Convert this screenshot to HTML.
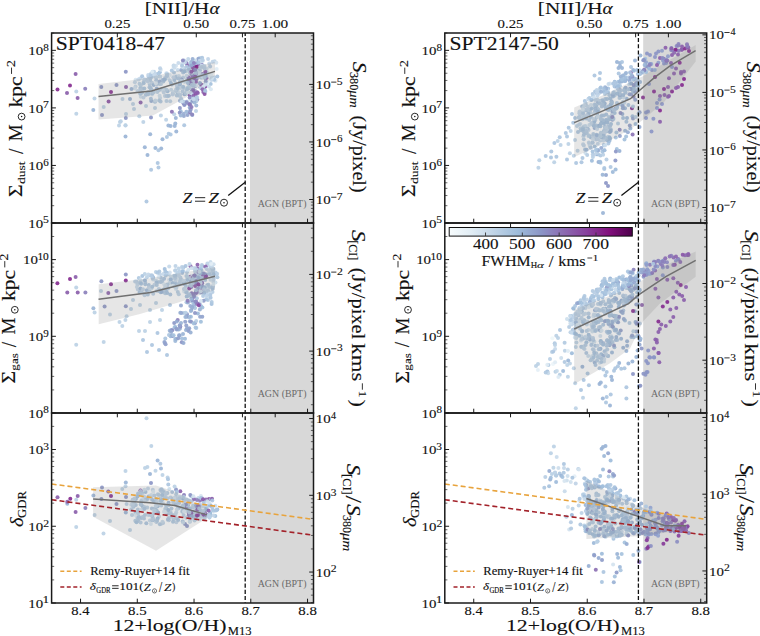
<!DOCTYPE html>
<html><head><meta charset="utf-8"><style>
html,body{margin:0;padding:0;background:#fff;}
svg{display:block;font-family:"Liberation Serif", serif;font-kerning:none;}
</style></head><body>
<svg width="760" height="636" viewBox="0 0 760 636">
<rect width="760" height="636" fill="#fff"/>
<rect x="250.0" y="33.0" width="63.5" height="190.0" fill="#d8d8d8"/>
<rect x="250.0" y="223.0" width="63.5" height="190.0" fill="#d8d8d8"/>
<rect x="250.0" y="413.0" width="63.5" height="190.0" fill="#d8d8d8"/>
<rect x="643.2" y="33.0" width="63.5" height="190.0" fill="#d8d8d8"/>
<rect x="643.2" y="223.0" width="63.5" height="190.0" fill="#d8d8d8"/>
<rect x="643.2" y="413.0" width="63.5" height="190.0" fill="#d8d8d8"/>
<g fill-opacity="0.92"><circle cx="166.9" cy="137.0" r="2.0" fill="#adc6df"/><circle cx="209.3" cy="63.6" r="2.0" fill="#c3d6e8"/><circle cx="210.7" cy="83.9" r="2.0" fill="#a5c1dc"/><circle cx="195.2" cy="73.3" r="2.0" fill="#b8cee3"/><circle cx="189.3" cy="79.4" r="2.0" fill="#8b63ad"/><circle cx="187.1" cy="78.9" r="2.0" fill="#b8cee3"/><circle cx="184.0" cy="60.4" r="2.0" fill="#afc8e0"/><circle cx="192.4" cy="85.6" r="2.0" fill="#a2bfdb"/><circle cx="149.8" cy="84.6" r="2.0" fill="#b6cce3"/><circle cx="200.0" cy="70.2" r="2.0" fill="#b1c9e1"/><circle cx="189.8" cy="112.4" r="2.0" fill="#8c71b4"/><circle cx="197.2" cy="99.4" r="2.0" fill="#8c7ab8"/><circle cx="185.8" cy="94.1" r="2.0" fill="#cddeec"/><circle cx="189.5" cy="68.6" r="2.0" fill="#bfd3e6"/><circle cx="156.8" cy="88.4" r="2.0" fill="#99b2d5"/><circle cx="57.5" cy="89.5" r="2.0" fill="#852d90"/><circle cx="165.3" cy="77.3" r="2.0" fill="#c4d7e8"/><circle cx="146.0" cy="94.7" r="2.0" fill="#9ebcda"/><circle cx="183.9" cy="88.0" r="2.0" fill="#bbd0e5"/><circle cx="191.9" cy="66.8" r="2.0" fill="#e0ecf4"/><circle cx="200.5" cy="87.6" r="2.0" fill="#8c8cc1"/><circle cx="152.0" cy="94.5" r="2.0" fill="#d6e4f0"/><circle cx="195.3" cy="91.0" r="2.0" fill="#b5cce2"/><circle cx="198.0" cy="69.0" r="2.0" fill="#9fbcda"/><circle cx="165.0" cy="96.0" r="2.0" fill="#c0d4e7"/><circle cx="163.3" cy="81.5" r="2.0" fill="#acc5df"/><circle cx="148.9" cy="82.1" r="2.0" fill="#cfdfed"/><circle cx="202.0" cy="77.7" r="2.0" fill="#c3d6e8"/><circle cx="159.8" cy="72.2" r="2.0" fill="#a2bfdc"/><circle cx="175.5" cy="83.3" r="2.0" fill="#c0d4e6"/><circle cx="153.5" cy="91.5" r="2.0" fill="#bdd1e5"/><circle cx="155.1" cy="76.7" r="2.0" fill="#b1c9e1"/><circle cx="210.1" cy="66.6" r="2.0" fill="#b4cbe2"/><circle cx="190.0" cy="111.2" r="2.0" fill="#92a3cd"/><circle cx="197.7" cy="71.9" r="2.0" fill="#d0e0ed"/><circle cx="191.4" cy="73.7" r="2.0" fill="#8b5daa"/><circle cx="189.4" cy="104.2" r="2.0" fill="#8c86be"/><circle cx="170.6" cy="134.6" r="2.0" fill="#adc6df"/><circle cx="198.6" cy="59.6" r="2.0" fill="#8c8ec2"/><circle cx="186.6" cy="62.0" r="2.0" fill="#c1d5e7"/><circle cx="186.6" cy="90.8" r="2.0" fill="#bacfe4"/><circle cx="182.2" cy="63.4" r="2.0" fill="#d1e0ee"/><circle cx="194.6" cy="61.8" r="2.0" fill="#bbd0e5"/><circle cx="211.7" cy="77.1" r="2.0" fill="#d4e3ef"/><circle cx="190.2" cy="95.7" r="2.0" fill="#b1c9e1"/><circle cx="140.3" cy="88.1" r="2.0" fill="#abc5df"/><circle cx="177.7" cy="69.9" r="2.0" fill="#c8daea"/><circle cx="122.5" cy="99.0" r="2.0" fill="#bcd1e5"/><circle cx="161.1" cy="89.6" r="2.0" fill="#afc8e0"/><circle cx="174.3" cy="80.0" r="2.0" fill="#a7c2dd"/><circle cx="180.0" cy="100.8" r="2.0" fill="#96abd1"/><circle cx="204.1" cy="89.7" r="2.0" fill="#aac4de"/><circle cx="212.7" cy="61.7" r="2.0" fill="#bfd3e6"/><circle cx="168.2" cy="78.3" r="2.0" fill="#d6e4f0"/><circle cx="214.6" cy="61.2" r="2.0" fill="#c1d5e7"/><circle cx="194.4" cy="78.6" r="2.0" fill="#909eca"/><circle cx="194.3" cy="63.6" r="2.0" fill="#c8daea"/><circle cx="200.0" cy="58.1" r="2.0" fill="#bfd3e6"/><circle cx="101.3" cy="87.0" r="2.0" fill="#8c96c6"/><circle cx="184.4" cy="94.2" r="2.0" fill="#9bb5d6"/><circle cx="146.5" cy="94.0" r="2.0" fill="#b9cfe4"/><circle cx="194.5" cy="73.6" r="2.0" fill="#8c84bd"/><circle cx="151.0" cy="117.6" r="2.0" fill="#8c96c6"/><circle cx="162.4" cy="80.0" r="2.0" fill="#adc6df"/><circle cx="151.4" cy="77.3" r="2.0" fill="#c8daea"/><circle cx="179.7" cy="84.5" r="2.0" fill="#9ebbda"/><circle cx="185.8" cy="70.7" r="2.0" fill="#b2cae1"/><circle cx="183.5" cy="103.2" r="2.0" fill="#8c85bd"/><circle cx="152.1" cy="93.6" r="2.0" fill="#aec7e0"/><circle cx="196.4" cy="62.7" r="2.0" fill="#909eca"/><circle cx="170.6" cy="126.0" r="2.0" fill="#9ab4d6"/><circle cx="189.6" cy="72.1" r="2.0" fill="#bdd2e5"/><circle cx="194.4" cy="65.8" r="2.0" fill="#bacfe4"/><circle cx="181.1" cy="100.2" r="2.0" fill="#abc5df"/><circle cx="202.2" cy="60.1" r="2.0" fill="#c0d4e6"/><circle cx="204.4" cy="89.0" r="2.0" fill="#acc6df"/><circle cx="186.8" cy="101.6" r="2.0" fill="#cadbeb"/><circle cx="154.0" cy="71.7" r="2.0" fill="#bed2e6"/><circle cx="198.4" cy="58.8" r="2.0" fill="#95aad0"/><circle cx="148.5" cy="76.7" r="2.0" fill="#b0c9e1"/><circle cx="125.5" cy="136.5" r="2.0" fill="#9ab4d6"/><circle cx="139.5" cy="83.8" r="2.0" fill="#b8cee4"/><circle cx="93.3" cy="110.0" r="2.0" fill="#9ab4d6"/><circle cx="196.0" cy="111.0" r="2.0" fill="#bcd1e5"/><circle cx="146.8" cy="80.1" r="2.0" fill="#b1c9e1"/><circle cx="202.6" cy="87.6" r="2.0" fill="#b8cee3"/><circle cx="169.8" cy="75.1" r="2.0" fill="#dfebf4"/><circle cx="199.9" cy="65.2" r="2.0" fill="#8c70b3"/><circle cx="165.0" cy="89.4" r="2.0" fill="#acc5df"/><circle cx="191.3" cy="91.7" r="2.0" fill="#c1d5e7"/><circle cx="200.9" cy="77.4" r="2.0" fill="#b5cce2"/><circle cx="137.5" cy="91.1" r="2.0" fill="#c7d9e9"/><circle cx="189.0" cy="67.0" r="2.0" fill="#c0d4e7"/><circle cx="67.0" cy="93.0" r="2.0" fill="#8b5fab"/><circle cx="174.7" cy="126.0" r="2.0" fill="#9ab4d6"/><circle cx="166.1" cy="119.7" r="2.0" fill="#bcd1e5"/><circle cx="205.4" cy="72.9" r="2.0" fill="#8c7cb9"/><circle cx="194.1" cy="66.6" r="2.0" fill="#b6cde3"/><circle cx="178.3" cy="86.3" r="2.0" fill="#c4d7e8"/><circle cx="201.8" cy="65.5" r="2.0" fill="#c9dbea"/><circle cx="156.3" cy="77.8" r="2.0" fill="#c6d8e9"/><circle cx="189.8" cy="86.8" r="2.0" fill="#bed3e6"/><circle cx="211.6" cy="73.8" r="2.0" fill="#e1edf4"/><circle cx="184.7" cy="104.3" r="2.0" fill="#8d99c7"/><circle cx="184.3" cy="105.1" r="2.0" fill="#8d97c7"/><circle cx="187.5" cy="115.0" r="2.0" fill="#92a3cd"/><circle cx="203.3" cy="91.9" r="2.0" fill="#8b60ac"/><circle cx="151.3" cy="89.4" r="2.0" fill="#b0c8e0"/><circle cx="180.0" cy="95.6" r="2.0" fill="#b6cce3"/><circle cx="200.9" cy="63.2" r="2.0" fill="#cfdfed"/><circle cx="192.3" cy="77.2" r="2.0" fill="#8b66ae"/><circle cx="202.6" cy="60.7" r="2.0" fill="#c0d3e6"/><circle cx="200.5" cy="87.6" r="2.0" fill="#c3d6e8"/><circle cx="190.3" cy="99.5" r="2.0" fill="#d4e3ef"/><circle cx="183.1" cy="77.6" r="2.0" fill="#b8cee3"/><circle cx="171.1" cy="89.7" r="2.0" fill="#c7d9e9"/><circle cx="198.5" cy="65.7" r="2.0" fill="#8e9ac8"/><circle cx="176.7" cy="85.8" r="2.0" fill="#c3d6e8"/><circle cx="183.2" cy="101.6" r="2.0" fill="#b4cbe2"/><circle cx="189.2" cy="79.6" r="2.0" fill="#8c80bb"/><circle cx="192.6" cy="73.6" r="2.0" fill="#8c87bf"/><circle cx="153.6" cy="92.6" r="2.0" fill="#bcd1e5"/><circle cx="205.3" cy="91.7" r="2.0" fill="#b8cee3"/><circle cx="196.4" cy="101.1" r="2.0" fill="#bdd2e5"/><circle cx="202.0" cy="64.9" r="2.0" fill="#8c88bf"/><circle cx="150.6" cy="87.9" r="2.0" fill="#bdd2e5"/><circle cx="181.2" cy="70.0" r="2.0" fill="#97aed3"/><circle cx="151.3" cy="101.1" r="2.0" fill="#96acd1"/><circle cx="197.8" cy="92.9" r="2.0" fill="#8b65ae"/><circle cx="174.2" cy="114.2" r="2.0" fill="#bcd1e5"/><circle cx="140.8" cy="85.6" r="2.0" fill="#bad0e4"/><circle cx="178.4" cy="63.1" r="2.0" fill="#c8d9ea"/><circle cx="76.3" cy="91.5" r="2.0" fill="#bcd1e5"/><circle cx="177.4" cy="92.5" r="2.0" fill="#a3c0dc"/><circle cx="204.4" cy="66.1" r="2.0" fill="#c1d5e7"/><circle cx="176.2" cy="76.4" r="2.0" fill="#afc8e0"/><circle cx="140.1" cy="78.6" r="2.0" fill="#c7d9e9"/><circle cx="192.3" cy="114.9" r="2.0" fill="#98b0d4"/><circle cx="167.5" cy="96.3" r="2.0" fill="#bfd3e6"/><circle cx="177.3" cy="78.1" r="2.0" fill="#acc5df"/><circle cx="163.9" cy="89.3" r="2.0" fill="#c3d6e8"/><circle cx="125.8" cy="118.0" r="2.0" fill="#8c96c6"/><circle cx="192.1" cy="114.4" r="2.0" fill="#8c87be"/><circle cx="162.4" cy="88.9" r="2.0" fill="#afc8e0"/><circle cx="191.8" cy="72.7" r="2.0" fill="#8c76b6"/><circle cx="159.8" cy="83.9" r="2.0" fill="#b4cbe2"/><circle cx="150.2" cy="134.3" r="2.0" fill="#9ab4d6"/><circle cx="202.1" cy="73.9" r="2.0" fill="#8c78b7"/><circle cx="188.5" cy="77.2" r="2.0" fill="#8a58a8"/><circle cx="144.2" cy="79.2" r="2.0" fill="#bfd3e6"/><circle cx="125.5" cy="125.2" r="2.0" fill="#bcd1e5"/><circle cx="194.5" cy="64.9" r="2.0" fill="#a9c3de"/><circle cx="142.9" cy="88.8" r="2.0" fill="#bacfe4"/><circle cx="135.6" cy="79.7" r="2.0" fill="#d8e6f0"/><circle cx="189.7" cy="107.5" r="2.0" fill="#95aad0"/><circle cx="180.3" cy="94.6" r="2.0" fill="#bfd3e6"/><circle cx="211.6" cy="78.5" r="2.0" fill="#b7cde3"/><circle cx="184.2" cy="68.0" r="2.0" fill="#b6cde3"/><circle cx="190.3" cy="73.6" r="2.0" fill="#c6d8e9"/><circle cx="193.3" cy="94.3" r="2.0" fill="#b8cee3"/><circle cx="182.6" cy="91.2" r="2.0" fill="#b5cce3"/><circle cx="194.1" cy="68.6" r="2.0" fill="#bacfe4"/><circle cx="189.3" cy="84.5" r="2.0" fill="#b2cae1"/><circle cx="185.8" cy="102.1" r="2.0" fill="#bbd0e5"/><circle cx="200.4" cy="84.0" r="2.0" fill="#8c77b7"/><circle cx="198.9" cy="76.6" r="2.0" fill="#b5cce3"/><circle cx="195.3" cy="85.9" r="2.0" fill="#91a0cb"/><circle cx="198.4" cy="66.1" r="2.0" fill="#894aa1"/><circle cx="179.8" cy="84.8" r="2.0" fill="#a5c1dd"/><circle cx="148.2" cy="75.1" r="2.0" fill="#c1d4e7"/><circle cx="186.6" cy="63.4" r="2.0" fill="#8c7dba"/><circle cx="149.4" cy="92.9" r="2.0" fill="#c2d5e7"/><circle cx="149.5" cy="87.3" r="2.0" fill="#b4cbe2"/><circle cx="195.2" cy="79.9" r="2.0" fill="#c1d4e7"/><circle cx="177.0" cy="88.7" r="2.0" fill="#b8cee4"/><circle cx="179.3" cy="77.3" r="2.0" fill="#c1d4e7"/><circle cx="187.5" cy="65.8" r="2.0" fill="#8c67af"/><circle cx="160.7" cy="69.7" r="2.0" fill="#d0e0ed"/><circle cx="103.7" cy="107.0" r="2.0" fill="#bcd1e5"/><circle cx="205.6" cy="78.5" r="2.0" fill="#8c6db2"/><circle cx="152.0" cy="82.8" r="2.0" fill="#c2d5e7"/><circle cx="207.8" cy="82.3" r="2.0" fill="#dce9f2"/><circle cx="171.9" cy="84.4" r="2.0" fill="#acc5df"/><circle cx="178.1" cy="91.8" r="2.0" fill="#d2e1ee"/><circle cx="151.1" cy="73.8" r="2.0" fill="#aec7e0"/><circle cx="191.7" cy="81.8" r="2.0" fill="#93a5ce"/><circle cx="172.7" cy="93.8" r="2.0" fill="#9dbad9"/><circle cx="206.7" cy="77.7" r="2.0" fill="#8c6fb3"/><circle cx="153.2" cy="92.1" r="2.0" fill="#bacfe4"/><circle cx="201.9" cy="75.9" r="2.0" fill="#cedeec"/><circle cx="133.0" cy="104.0" r="2.0" fill="#bcd1e5"/><circle cx="138.4" cy="79.5" r="2.0" fill="#c5d8e9"/><circle cx="142.1" cy="76.3" r="2.0" fill="#a9c3de"/><circle cx="189.8" cy="95.2" r="2.0" fill="#8950a4"/><circle cx="150.1" cy="78.1" r="2.0" fill="#afc8e0"/><circle cx="140.8" cy="96.7" r="2.0" fill="#d0e0ed"/><circle cx="204.0" cy="87.0" r="2.0" fill="#adc6df"/><circle cx="188.5" cy="88.0" r="2.0" fill="#91a0cb"/><circle cx="191.7" cy="101.7" r="2.0" fill="#aec7e0"/><circle cx="168.4" cy="125.5" r="2.0" fill="#9ab4d6"/><circle cx="205.3" cy="86.4" r="2.0" fill="#8951a5"/><circle cx="189.2" cy="87.2" r="2.0" fill="#c0d4e6"/><circle cx="191.6" cy="74.0" r="2.0" fill="#8c8cc1"/><circle cx="176.3" cy="131.4" r="2.0" fill="#9ab4d6"/><circle cx="186.7" cy="75.7" r="2.0" fill="#cbdceb"/><circle cx="166.2" cy="73.2" r="2.0" fill="#d8e6f1"/><circle cx="166.8" cy="95.8" r="2.0" fill="#b6cce3"/><circle cx="108.6" cy="101.5" r="2.0" fill="#894ba2"/><circle cx="173.2" cy="92.0" r="2.0" fill="#cbdceb"/><circle cx="163.3" cy="90.6" r="2.0" fill="#d4e3ef"/><circle cx="160.1" cy="68.3" r="2.0" fill="#bdd1e5"/><circle cx="186.0" cy="71.2" r="2.0" fill="#c9dbea"/><circle cx="158.9" cy="90.2" r="2.0" fill="#b9cfe4"/><circle cx="150.6" cy="77.8" r="2.0" fill="#b7cde3"/><circle cx="183.1" cy="72.5" r="2.0" fill="#afc8e0"/><circle cx="189.1" cy="82.8" r="2.0" fill="#8c8ec2"/><circle cx="173.4" cy="77.2" r="2.0" fill="#c1d4e7"/><circle cx="184.2" cy="125.2" r="2.0" fill="#adc6df"/><circle cx="143.5" cy="97.4" r="2.0" fill="#c3d6e8"/><circle cx="202.0" cy="85.0" r="2.0" fill="#8a57a7"/><circle cx="111.0" cy="92.0" r="2.0" fill="#852d90"/><circle cx="169.9" cy="80.4" r="2.0" fill="#c0d4e7"/><circle cx="186.4" cy="111.7" r="2.0" fill="#9db9d9"/><circle cx="168.9" cy="95.7" r="2.0" fill="#aec7e0"/><circle cx="189.7" cy="97.5" r="2.0" fill="#8c89c0"/><circle cx="160.1" cy="98.1" r="2.0" fill="#c8daea"/><circle cx="195.9" cy="75.3" r="2.0" fill="#8c6fb3"/><circle cx="171.8" cy="70.5" r="2.0" fill="#adc7e0"/><circle cx="195.4" cy="101.1" r="2.0" fill="#bed2e6"/><circle cx="180.4" cy="82.2" r="2.0" fill="#c3d6e8"/><circle cx="194.2" cy="80.1" r="2.0" fill="#8c82bc"/><circle cx="205.7" cy="81.6" r="2.0" fill="#8f9cc9"/><circle cx="216.3" cy="62.7" r="2.0" fill="#d6e4f0"/><circle cx="179.2" cy="95.7" r="2.0" fill="#c1d4e7"/><circle cx="135.6" cy="86.5" r="2.0" fill="#c7d9e9"/><circle cx="119.0" cy="125.5" r="2.0" fill="#bcd1e5"/><circle cx="157.7" cy="162.9" r="2.0" fill="#adc6df"/><circle cx="214.3" cy="77.6" r="2.0" fill="#bfd3e6"/><circle cx="195.9" cy="73.1" r="2.0" fill="#8b65ae"/><circle cx="161.2" cy="148.4" r="2.0" fill="#9ab4d6"/><circle cx="199.9" cy="83.0" r="2.0" fill="#99b1d4"/><circle cx="144.8" cy="147.2" r="2.0" fill="#9ab4d6"/><circle cx="167.5" cy="91.3" r="2.0" fill="#a0bddb"/><circle cx="155.4" cy="148.0" r="2.0" fill="#9ab4d6"/><circle cx="181.5" cy="79.4" r="2.0" fill="#93a5ce"/><circle cx="159.5" cy="81.4" r="2.0" fill="#98b0d4"/><circle cx="147.5" cy="155.0" r="2.0" fill="#9ab4d6"/><circle cx="210.9" cy="89.3" r="2.0" fill="#dae8f2"/><circle cx="181.1" cy="98.8" r="2.0" fill="#b7cde3"/><circle cx="188.8" cy="69.0" r="2.0" fill="#a7c2dd"/><circle cx="186.7" cy="102.3" r="2.0" fill="#8c90c3"/><circle cx="196.0" cy="82.1" r="2.0" fill="#8b60ac"/><circle cx="195.9" cy="99.1" r="2.0" fill="#8c78b7"/><circle cx="116.5" cy="85.0" r="2.0" fill="#8c96c6"/><circle cx="195.4" cy="72.3" r="2.0" fill="#9dbbd9"/><circle cx="192.8" cy="101.0" r="2.0" fill="#8e9ac8"/><circle cx="196.1" cy="78.7" r="2.0" fill="#8c67af"/><circle cx="189.2" cy="78.6" r="2.0" fill="#8c83bd"/><circle cx="143.3" cy="122.0" r="2.0" fill="#bcd1e5"/><circle cx="192.8" cy="94.6" r="2.0" fill="#bacfe4"/><circle cx="70.0" cy="85.5" r="2.0" fill="#852d90"/><circle cx="140.4" cy="90.1" r="2.0" fill="#bdd1e5"/><circle cx="148.1" cy="92.3" r="2.0" fill="#b1c9e1"/><circle cx="196.2" cy="85.5" r="2.0" fill="#d7e5f0"/><circle cx="208.7" cy="75.8" r="2.0" fill="#dce9f2"/><circle cx="187.9" cy="82.6" r="2.0" fill="#a3bfdc"/><circle cx="142.0" cy="92.8" r="2.0" fill="#aac4de"/><circle cx="173.9" cy="65.8" r="2.0" fill="#aac4de"/><circle cx="75.6" cy="74.0" r="2.0" fill="#8b5fab"/><circle cx="155.2" cy="101.7" r="2.0" fill="#bcd1e5"/><circle cx="208.9" cy="86.6" r="2.0" fill="#cadbeb"/><circle cx="151.1" cy="169.7" r="2.0" fill="#adc6df"/><circle cx="194.8" cy="80.0" r="2.0" fill="#8b5fab"/><circle cx="159.3" cy="76.4" r="2.0" fill="#bdd2e5"/><circle cx="216.7" cy="68.9" r="2.0" fill="#e0ecf4"/><circle cx="185.9" cy="93.2" r="2.0" fill="#bcd1e5"/><circle cx="188.8" cy="79.3" r="2.0" fill="#8c78b7"/><circle cx="195.6" cy="76.0" r="2.0" fill="#b0c9e1"/><circle cx="178.8" cy="76.1" r="2.0" fill="#cdddec"/><circle cx="190.7" cy="109.6" r="2.0" fill="#8d97c7"/><circle cx="196.6" cy="78.9" r="2.0" fill="#8c7cb9"/><circle cx="193.2" cy="89.4" r="2.0" fill="#8c8ac0"/><circle cx="76.3" cy="113.7" r="2.0" fill="#bcd1e5"/><circle cx="187.9" cy="87.6" r="2.0" fill="#bad0e4"/><circle cx="176.2" cy="90.6" r="2.0" fill="#bcd1e5"/><circle cx="180.4" cy="87.9" r="2.0" fill="#c8daea"/><circle cx="144.3" cy="88.5" r="2.0" fill="#afc8e0"/><circle cx="134.0" cy="109.0" r="2.0" fill="#bcd1e5"/><circle cx="150.2" cy="79.9" r="2.0" fill="#b2cae1"/><circle cx="160.3" cy="76.6" r="2.0" fill="#c8daea"/><circle cx="206.7" cy="68.4" r="2.0" fill="#cdddec"/><circle cx="179.7" cy="82.8" r="2.0" fill="#abc5df"/><circle cx="205.8" cy="75.9" r="2.0" fill="#9ebcda"/><circle cx="204.6" cy="93.9" r="2.0" fill="#8951a4"/><circle cx="166.9" cy="73.6" r="2.0" fill="#bfd3e6"/><circle cx="191.1" cy="61.9" r="2.0" fill="#99b2d5"/><circle cx="171.9" cy="111.8" r="2.0" fill="#8c74b5"/><circle cx="151.1" cy="76.3" r="2.0" fill="#aec7e0"/><circle cx="196.4" cy="101.1" r="2.0" fill="#b8cee3"/><circle cx="120.0" cy="122.0" r="2.0" fill="#bcd1e5"/><circle cx="192.1" cy="72.8" r="2.0" fill="#c9daea"/><circle cx="160.9" cy="115.4" r="2.0" fill="#bcd1e5"/><circle cx="134.9" cy="82.3" r="2.0" fill="#c4d7e8"/><circle cx="192.3" cy="90.2" r="2.0" fill="#8c88bf"/><circle cx="153.7" cy="85.1" r="2.0" fill="#9cb8d8"/><circle cx="188.2" cy="58.9" r="2.0" fill="#c1d5e7"/><circle cx="205.6" cy="84.4" r="2.0" fill="#c1d5e7"/><circle cx="143.6" cy="82.0" r="2.0" fill="#bbd0e5"/><circle cx="175.3" cy="123.6" r="2.0" fill="#9ab4d6"/><circle cx="161.0" cy="83.9" r="2.0" fill="#bcd1e5"/><circle cx="178.6" cy="78.4" r="2.0" fill="#b1c9e1"/><circle cx="162.5" cy="139.3" r="2.0" fill="#9ab4d6"/><circle cx="204.1" cy="67.2" r="2.0" fill="#bfd3e6"/><circle cx="102.0" cy="115.0" r="2.0" fill="#8c96c6"/><circle cx="176.8" cy="95.6" r="2.0" fill="#b2cae1"/><circle cx="134.8" cy="88.2" r="2.0" fill="#d5e3ef"/><circle cx="140.6" cy="102.4" r="2.0" fill="#8b5fab"/><circle cx="204.9" cy="84.6" r="2.0" fill="#cedeec"/><circle cx="215.5" cy="80.7" r="2.0" fill="#d8e6f0"/><circle cx="139.3" cy="116.2" r="2.0" fill="#bcd1e5"/><circle cx="195.7" cy="66.8" r="2.0" fill="#8c7dba"/><circle cx="85.2" cy="88.7" r="2.0" fill="#8c81bc"/><circle cx="155.0" cy="108.0" r="2.0" fill="#bcd1e5"/><circle cx="202.1" cy="57.8" r="2.0" fill="#adc6df"/><circle cx="147.8" cy="94.1" r="2.0" fill="#b0c8e0"/><circle cx="180.3" cy="81.9" r="2.0" fill="#a7c2dd"/><circle cx="188.2" cy="92.2" r="2.0" fill="#d8e6f1"/><circle cx="170.9" cy="82.9" r="2.0" fill="#a3bfdc"/><circle cx="147.5" cy="81.3" r="2.0" fill="#c0d3e6"/><circle cx="190.2" cy="104.5" r="2.0" fill="#909eca"/><circle cx="165.0" cy="79.2" r="2.0" fill="#a6c1dd"/><circle cx="199.7" cy="60.7" r="2.0" fill="#c8d9ea"/><circle cx="181.7" cy="101.3" r="2.0" fill="#a5c0dc"/><circle cx="130.0" cy="99.0" r="2.0" fill="#9ab4d6"/><circle cx="174.5" cy="67.8" r="2.0" fill="#c7d9e9"/><circle cx="196.1" cy="68.7" r="2.0" fill="#bcd1e5"/><circle cx="140.2" cy="93.8" r="2.0" fill="#b0c9e1"/><circle cx="181.4" cy="81.1" r="2.0" fill="#bdd2e5"/><circle cx="173.6" cy="67.1" r="2.0" fill="#cdddec"/><circle cx="183.1" cy="86.8" r="2.0" fill="#a8c3dd"/><circle cx="194.5" cy="97.9" r="2.0" fill="#a8c3de"/><circle cx="126.0" cy="114.0" r="2.0" fill="#bcd1e5"/><circle cx="77.6" cy="98.0" r="2.0" fill="#8b5fab"/><circle cx="201.0" cy="66.2" r="2.0" fill="#8c8bc1"/><circle cx="164.1" cy="79.7" r="2.0" fill="#9ebbd9"/><circle cx="184.6" cy="70.9" r="2.0" fill="#bbd0e5"/><circle cx="189.6" cy="104.2" r="2.0" fill="#8c77b7"/><circle cx="158.5" cy="167.6" r="2.0" fill="#adc6df"/><circle cx="157.0" cy="83.9" r="2.0" fill="#aec7e0"/><circle cx="193.6" cy="70.0" r="2.0" fill="#8a58a8"/><circle cx="143.6" cy="83.3" r="2.0" fill="#abc5df"/><circle cx="190.7" cy="64.1" r="2.0" fill="#a7c2dd"/><circle cx="176.0" cy="65.8" r="2.0" fill="#d1e0ee"/><circle cx="203.1" cy="76.9" r="2.0" fill="#d7e5f0"/><circle cx="196.6" cy="76.9" r="2.0" fill="#acc5df"/><circle cx="206.7" cy="71.9" r="2.0" fill="#c1d4e7"/><circle cx="168.7" cy="133.8" r="2.0" fill="#adc6df"/><circle cx="192.3" cy="81.8" r="2.0" fill="#8c7eba"/><circle cx="193.5" cy="95.5" r="2.0" fill="#8b65ae"/><circle cx="203.3" cy="86.5" r="2.0" fill="#d6e4f0"/><circle cx="152.7" cy="71.7" r="2.0" fill="#c9dbea"/><circle cx="214.2" cy="79.7" r="2.0" fill="#adc6df"/><circle cx="146.0" cy="106.0" r="2.0" fill="#bcd1e5"/><circle cx="211.3" cy="80.0" r="2.0" fill="#c3d6e8"/><circle cx="159.2" cy="100.4" r="2.0" fill="#b0c9e1"/><circle cx="192.8" cy="67.5" r="2.0" fill="#8951a5"/><circle cx="201.5" cy="65.7" r="2.0" fill="#cbdceb"/><circle cx="199.1" cy="67.4" r="2.0" fill="#c6d8e9"/><circle cx="183.9" cy="116.0" r="2.0" fill="#95a8cf"/><circle cx="154.6" cy="101.4" r="2.0" fill="#b8cee3"/><circle cx="201.8" cy="67.1" r="2.0" fill="#b8cee3"/><circle cx="193.1" cy="81.4" r="2.0" fill="#bacfe4"/><circle cx="196.7" cy="96.7" r="2.0" fill="#b0c8e1"/><circle cx="160.6" cy="101.6" r="2.0" fill="#b2cae1"/><circle cx="170.2" cy="101.3" r="2.0" fill="#bed2e6"/><circle cx="184.6" cy="81.7" r="2.0" fill="#c7d9e9"/><circle cx="167.0" cy="76.0" r="2.0" fill="#b0c8e1"/><circle cx="195.1" cy="60.5" r="2.0" fill="#cbdceb"/><circle cx="217.3" cy="76.5" r="2.0" fill="#a7c2dd"/><circle cx="208.1" cy="59.0" r="2.0" fill="#c1d4e7"/><circle cx="173.6" cy="65.4" r="2.0" fill="#c8daea"/><circle cx="199.5" cy="73.1" r="2.0" fill="#cddeec"/><circle cx="131.5" cy="89.0" r="2.0" fill="#9ab4d6"/><circle cx="183.7" cy="113.7" r="2.0" fill="#98aed3"/><circle cx="156.2" cy="80.2" r="2.0" fill="#b0c8e0"/><circle cx="190.7" cy="83.3" r="2.0" fill="#8c78b7"/><circle cx="202.6" cy="60.1" r="2.0" fill="#bbd0e5"/><circle cx="193.8" cy="77.1" r="2.0" fill="#8c82bc"/><circle cx="155.9" cy="83.2" r="2.0" fill="#e1ecf4"/><circle cx="202.5" cy="89.3" r="2.0" fill="#8c69b0"/><circle cx="212.2" cy="77.9" r="2.0" fill="#cddeec"/><circle cx="195.9" cy="73.1" r="2.0" fill="#b1c9e1"/><circle cx="195.6" cy="93.7" r="2.0" fill="#8a53a6"/><circle cx="197.1" cy="98.1" r="2.0" fill="#b4cbe2"/><circle cx="196.3" cy="105.5" r="2.0" fill="#9ab4d6"/><circle cx="205.3" cy="71.8" r="2.0" fill="#8a58a8"/><circle cx="155.4" cy="100.5" r="2.0" fill="#ccddeb"/><circle cx="202.6" cy="75.1" r="2.0" fill="#b6cce3"/><circle cx="191.2" cy="65.5" r="2.0" fill="#94a7cf"/><circle cx="175.8" cy="118.1" r="2.0" fill="#9ab4d6"/><circle cx="125.8" cy="71.7" r="2.0" fill="#8c96c6"/><circle cx="187.2" cy="89.1" r="2.0" fill="#adc7e0"/><circle cx="166.7" cy="89.7" r="2.0" fill="#bcd1e5"/><circle cx="180.7" cy="111.2" r="2.0" fill="#9cb8d8"/><circle cx="192.6" cy="59.1" r="2.0" fill="#98afd3"/><circle cx="179.9" cy="108.1" r="2.0" fill="#8c95c5"/><circle cx="152.2" cy="72.1" r="2.0" fill="#deebf3"/><circle cx="181.7" cy="101.4" r="2.0" fill="#cedfed"/><circle cx="176.0" cy="89.5" r="2.0" fill="#c8d9ea"/><circle cx="195.3" cy="76.8" r="2.0" fill="#894fa4"/><circle cx="126.0" cy="87.0" r="2.0" fill="#8b5fab"/><circle cx="156.4" cy="73.9" r="2.0" fill="#c2d5e7"/><circle cx="148.2" cy="94.2" r="2.0" fill="#b2cae1"/><circle cx="182.3" cy="66.8" r="2.0" fill="#cedeec"/><circle cx="181.5" cy="80.8" r="2.0" fill="#c1d4e7"/><circle cx="174.0" cy="72.5" r="2.0" fill="#afc8e0"/><circle cx="193.6" cy="91.1" r="2.0" fill="#8b65ae"/><circle cx="190.7" cy="93.1" r="2.0" fill="#cbdceb"/><circle cx="150.4" cy="88.0" r="2.0" fill="#b0c8e0"/><circle cx="94.5" cy="98.5" r="2.0" fill="#bcd1e5"/><circle cx="191.9" cy="84.7" r="2.0" fill="#b2cae1"/><circle cx="163.8" cy="92.6" r="2.0" fill="#c1d4e7"/><circle cx="194.0" cy="84.9" r="2.0" fill="#b5cce3"/><circle cx="179.7" cy="112.7" r="2.0" fill="#8c95c6"/><circle cx="177.6" cy="88.4" r="2.0" fill="#b0c9e1"/><circle cx="193.9" cy="63.0" r="2.0" fill="#8c82bc"/><circle cx="154.4" cy="74.7" r="2.0" fill="#c5d8e9"/><circle cx="166.5" cy="101.0" r="2.0" fill="#bbd0e5"/><circle cx="167.2" cy="74.5" r="2.0" fill="#b6cde3"/><circle cx="157.4" cy="92.1" r="2.0" fill="#bcd1e5"/><circle cx="150.9" cy="98.7" r="2.0" fill="#adc6df"/><circle cx="204.6" cy="77.7" r="2.0" fill="#b4cbe2"/><circle cx="198.4" cy="62.7" r="2.0" fill="#abc5df"/><circle cx="186.9" cy="66.7" r="2.0" fill="#b1c9e1"/><circle cx="184.3" cy="71.4" r="2.0" fill="#9ebcda"/><circle cx="197.1" cy="92.3" r="2.0" fill="#8b60ac"/><circle cx="205.2" cy="90.8" r="2.0" fill="#aac4de"/><circle cx="193.3" cy="98.4" r="2.0" fill="#b4cbe2"/><circle cx="204.4" cy="68.6" r="2.0" fill="#b8cee4"/><circle cx="184.9" cy="62.6" r="2.0" fill="#c8d9ea"/><circle cx="196.5" cy="66.9" r="2.0" fill="#821580"/><circle cx="182.9" cy="60.5" r="2.0" fill="#8c8ac0"/><circle cx="120.8" cy="121.2" r="2.0" fill="#bcd1e5"/><circle cx="180.8" cy="115.6" r="2.0" fill="#9bb5d6"/><circle cx="125.5" cy="125.5" r="2.0" fill="#bcd1e5"/><circle cx="158.6" cy="73.5" r="2.0" fill="#adc7e0"/><circle cx="195.2" cy="69.8" r="2.0" fill="#8c89bf"/><circle cx="146.5" cy="201.5" r="2.0" fill="#adc6df"/><circle cx="187.9" cy="83.0" r="2.0" fill="#aec7e0"/><circle cx="191.5" cy="107.1" r="2.0" fill="#8c79b8"/><circle cx="182.0" cy="65.5" r="2.0" fill="#afc8e0"/><circle cx="159.6" cy="95.8" r="2.0" fill="#cfdfed"/><circle cx="172.7" cy="94.5" r="2.0" fill="#c4d6e8"/><circle cx="191.3" cy="71.7" r="2.0" fill="#8a54a6"/><circle cx="158.5" cy="150.3" r="2.0" fill="#adc6df"/><circle cx="194.5" cy="102.4" r="2.0" fill="#9cb7d7"/><circle cx="194.2" cy="77.7" r="2.0" fill="#8b64ae"/><circle cx="193.6" cy="99.2" r="2.0" fill="#c6d8e9"/><circle cx="166.3" cy="290.4" r="2.0" fill="#b0c8e0"/><circle cx="189.5" cy="286.5" r="2.0" fill="#b4cbe2"/><circle cx="146.8" cy="290.3" r="2.0" fill="#9dbad9"/><circle cx="207.9" cy="300.0" r="2.0" fill="#b1c9e1"/><circle cx="150.0" cy="322.0" r="2.0" fill="#bcd1e5"/><circle cx="203.3" cy="291.2" r="2.0" fill="#8c92c4"/><circle cx="187.0" cy="314.2" r="2.0" fill="#8e99c8"/><circle cx="165.3" cy="338.4" r="2.0" fill="#aac4de"/><circle cx="197.4" cy="268.4" r="2.0" fill="#8c6eb3"/><circle cx="136.9" cy="282.0" r="2.0" fill="#cbdceb"/><circle cx="163.8" cy="283.9" r="2.0" fill="#dfebf4"/><circle cx="212.4" cy="287.4" r="2.0" fill="#a4c0dc"/><circle cx="202.4" cy="307.4" r="2.0" fill="#a2bfdb"/><circle cx="168.9" cy="279.7" r="2.0" fill="#e1ecf4"/><circle cx="183.8" cy="312.9" r="2.0" fill="#b2cae1"/><circle cx="193.9" cy="305.8" r="2.0" fill="#8d99c7"/><circle cx="148.8" cy="285.0" r="2.0" fill="#abc5df"/><circle cx="170.3" cy="294.6" r="2.0" fill="#aac4de"/><circle cx="196.3" cy="328.0" r="2.0" fill="#b1c9e1"/><circle cx="180.0" cy="328.6" r="2.0" fill="#9cb7d7"/><circle cx="176.0" cy="289.3" r="2.0" fill="#dce9f2"/><circle cx="133.0" cy="300.0" r="2.0" fill="#bcd1e5"/><circle cx="179.7" cy="325.3" r="2.0" fill="#93a5ce"/><circle cx="173.9" cy="275.8" r="2.0" fill="#c9daea"/><circle cx="194.5" cy="307.3" r="2.0" fill="#a0bddb"/><circle cx="195.3" cy="271.9" r="2.0" fill="#bbd0e5"/><circle cx="210.5" cy="262.0" r="2.0" fill="#c7d9e9"/><circle cx="168.3" cy="287.9" r="2.0" fill="#b2cae1"/><circle cx="184.2" cy="291.4" r="2.0" fill="#d8e6f1"/><circle cx="138.8" cy="278.1" r="2.0" fill="#b0c9e1"/><circle cx="208.2" cy="267.7" r="2.0" fill="#e6f0f6"/><circle cx="208.2" cy="290.8" r="2.0" fill="#a9c4de"/><circle cx="158.0" cy="281.9" r="2.0" fill="#b5cce2"/><circle cx="169.7" cy="330.7" r="2.0" fill="#9ab3d5"/><circle cx="213.3" cy="281.7" r="2.0" fill="#c9daea"/><circle cx="110.0" cy="314.5" r="2.0" fill="#bcd1e5"/><circle cx="202.5" cy="266.5" r="2.0" fill="#8a5ba9"/><circle cx="188.6" cy="331.0" r="2.0" fill="#909fcb"/><circle cx="190.4" cy="276.8" r="2.0" fill="#863192"/><circle cx="177.7" cy="276.5" r="2.0" fill="#bbd0e4"/><circle cx="194.6" cy="302.9" r="2.0" fill="#8a56a7"/><circle cx="178.7" cy="329.5" r="2.0" fill="#99b2d5"/><circle cx="195.0" cy="323.1" r="2.0" fill="#8d97c7"/><circle cx="180.4" cy="277.4" r="2.0" fill="#bacfe4"/><circle cx="76.2" cy="344.7" r="2.0" fill="#bcd1e5"/><circle cx="176.9" cy="284.3" r="2.0" fill="#a5c0dc"/><circle cx="137.9" cy="289.6" r="2.0" fill="#c3d6e8"/><circle cx="192.7" cy="283.9" r="2.0" fill="#8c6db2"/><circle cx="166.1" cy="290.6" r="2.0" fill="#c2d5e7"/><circle cx="210.3" cy="293.9" r="2.0" fill="#adc6df"/><circle cx="119.5" cy="322.0" r="2.0" fill="#bcd1e5"/><circle cx="190.3" cy="306.0" r="2.0" fill="#97add2"/><circle cx="174.6" cy="327.3" r="2.0" fill="#a7c2dd"/><circle cx="164.4" cy="342.0" r="2.0" fill="#94a7cf"/><circle cx="170.9" cy="286.3" r="2.0" fill="#e2eef5"/><circle cx="172.5" cy="336.0" r="2.0" fill="#8c8ec2"/><circle cx="181.0" cy="323.0" r="2.0" fill="#9ab4d6"/><circle cx="144.2" cy="293.4" r="2.0" fill="#c1d5e7"/><circle cx="85.4" cy="292.6" r="2.0" fill="#8c81bc"/><circle cx="174.2" cy="322.9" r="2.0" fill="#8d98c7"/><circle cx="217.1" cy="273.7" r="2.0" fill="#bed3e6"/><circle cx="195.2" cy="268.2" r="2.0" fill="#b2cae1"/><circle cx="202.6" cy="273.4" r="2.0" fill="#c5d7e8"/><circle cx="201.4" cy="267.0" r="2.0" fill="#b8cee3"/><circle cx="175.7" cy="280.8" r="2.0" fill="#c3d6e8"/><circle cx="206.3" cy="299.3" r="2.0" fill="#a9c4de"/><circle cx="159.3" cy="271.4" r="2.0" fill="#afc8e0"/><circle cx="195.6" cy="327.6" r="2.0" fill="#a8c3de"/><circle cx="136.1" cy="281.5" r="2.0" fill="#b7cde3"/><circle cx="201.2" cy="282.0" r="2.0" fill="#c7d9e9"/><circle cx="172.2" cy="278.9" r="2.0" fill="#cbdceb"/><circle cx="108.3" cy="293.0" r="2.0" fill="#8b5fab"/><circle cx="145.2" cy="282.6" r="2.0" fill="#b6cce3"/><circle cx="125.8" cy="280.5" r="2.0" fill="#852d90"/><circle cx="176.8" cy="275.0" r="2.0" fill="#9ebcda"/><circle cx="196.4" cy="271.6" r="2.0" fill="#c7d9e9"/><circle cx="195.1" cy="286.1" r="2.0" fill="#8a56a7"/><circle cx="206.1" cy="274.5" r="2.0" fill="#96aad1"/><circle cx="201.9" cy="285.7" r="2.0" fill="#91a0cb"/><circle cx="211.6" cy="304.1" r="2.0" fill="#a4c0dc"/><circle cx="200.0" cy="274.6" r="2.0" fill="#bacfe4"/><circle cx="200.1" cy="270.0" r="2.0" fill="#b5cce2"/><circle cx="186.9" cy="272.2" r="2.0" fill="#b9cfe4"/><circle cx="182.2" cy="273.1" r="2.0" fill="#b0c8e1"/><circle cx="167.0" cy="355.0" r="2.0" fill="#adc6df"/><circle cx="148.8" cy="287.6" r="2.0" fill="#c2d5e7"/><circle cx="199.9" cy="279.1" r="2.0" fill="#bbd0e5"/><circle cx="196.6" cy="269.7" r="2.0" fill="#bcd1e5"/><circle cx="189.9" cy="321.2" r="2.0" fill="#95a9d0"/><circle cx="75.6" cy="277.0" r="2.0" fill="#8b5fab"/><circle cx="210.8" cy="270.6" r="2.0" fill="#b8cee3"/><circle cx="191.2" cy="279.7" r="2.0" fill="#9dbad9"/><circle cx="196.2" cy="320.9" r="2.0" fill="#b8cee3"/><circle cx="155.9" cy="272.1" r="2.0" fill="#b9cfe4"/><circle cx="213.6" cy="264.3" r="2.0" fill="#cfdfed"/><circle cx="152.4" cy="276.2" r="2.0" fill="#94a8cf"/><circle cx="193.1" cy="297.2" r="2.0" fill="#8c82bc"/><circle cx="116.5" cy="291.0" r="2.0" fill="#8c96c6"/><circle cx="182.0" cy="338.5" r="2.0" fill="#a3bfdc"/><circle cx="147.0" cy="352.0" r="2.0" fill="#adc6df"/><circle cx="206.0" cy="292.6" r="2.0" fill="#9fbdda"/><circle cx="202.1" cy="283.2" r="2.0" fill="#8c86be"/><circle cx="203.7" cy="300.7" r="2.0" fill="#8f9cc9"/><circle cx="207.4" cy="263.5" r="2.0" fill="#bed2e6"/><circle cx="185.9" cy="286.1" r="2.0" fill="#b5cce2"/><circle cx="137.5" cy="284.4" r="2.0" fill="#c0d4e7"/><circle cx="190.2" cy="278.2" r="2.0" fill="#c4d7e8"/><circle cx="143.0" cy="340.0" r="2.0" fill="#adc6df"/><circle cx="149.4" cy="291.2" r="2.0" fill="#bbd0e4"/><circle cx="199.4" cy="303.6" r="2.0" fill="#8c8fc2"/><circle cx="207.2" cy="290.2" r="2.0" fill="#bbd0e5"/><circle cx="191.3" cy="309.9" r="2.0" fill="#91a1cc"/><circle cx="142.5" cy="281.4" r="2.0" fill="#d2e1ee"/><circle cx="179.8" cy="284.3" r="2.0" fill="#bacfe4"/><circle cx="208.2" cy="296.4" r="2.0" fill="#cedfed"/><circle cx="169.2" cy="266.4" r="2.0" fill="#c6d8e9"/><circle cx="202.3" cy="316.7" r="2.0" fill="#93a4cd"/><circle cx="144.9" cy="280.2" r="2.0" fill="#9dbad9"/><circle cx="197.5" cy="264.7" r="2.0" fill="#8b62ad"/><circle cx="192.2" cy="275.9" r="2.0" fill="#d0e0ed"/><circle cx="70.0" cy="279.0" r="2.0" fill="#852d90"/><circle cx="160.0" cy="274.5" r="2.0" fill="#bfd3e6"/><circle cx="201.4" cy="270.6" r="2.0" fill="#aec7e0"/><circle cx="177.7" cy="320.1" r="2.0" fill="#8c7fbb"/><circle cx="190.6" cy="332.6" r="2.0" fill="#98b0d3"/><circle cx="171.3" cy="330.1" r="2.0" fill="#96abd1"/><circle cx="93.4" cy="308.3" r="2.0" fill="#9ab4d6"/><circle cx="165.9" cy="273.9" r="2.0" fill="#b4cbe2"/><circle cx="161.2" cy="281.4" r="2.0" fill="#c9daea"/><circle cx="164.9" cy="342.9" r="2.0" fill="#93a5ce"/><circle cx="150.2" cy="275.6" r="2.0" fill="#b2cae1"/><circle cx="148.3" cy="274.5" r="2.0" fill="#c4d7e8"/><circle cx="184.9" cy="284.5" r="2.0" fill="#b4cbe2"/><circle cx="179.6" cy="271.4" r="2.0" fill="#b8cee4"/><circle cx="206.8" cy="295.2" r="2.0" fill="#b6cde3"/><circle cx="170.7" cy="336.3" r="2.0" fill="#9bb5d6"/><circle cx="190.9" cy="316.8" r="2.0" fill="#9ebcda"/><circle cx="210.9" cy="266.9" r="2.0" fill="#b2cae1"/><circle cx="178.7" cy="275.5" r="2.0" fill="#c6d8e9"/><circle cx="186.0" cy="330.0" r="2.0" fill="#9ab4d6"/><circle cx="176.8" cy="278.5" r="2.0" fill="#d4e3ef"/><circle cx="183.4" cy="267.5" r="2.0" fill="#afc8e0"/><circle cx="190.6" cy="281.9" r="2.0" fill="#92a2cc"/><circle cx="158.7" cy="288.9" r="2.0" fill="#c8d9ea"/><circle cx="198.5" cy="284.9" r="2.0" fill="#9ebcda"/><circle cx="191.4" cy="301.3" r="2.0" fill="#bbd0e4"/><circle cx="175.8" cy="270.6" r="2.0" fill="#e7f1f7"/><circle cx="163.2" cy="273.9" r="2.0" fill="#c4d7e8"/><circle cx="191.5" cy="296.5" r="2.0" fill="#bdd2e5"/><circle cx="160.8" cy="277.7" r="2.0" fill="#aec7e0"/><circle cx="181.3" cy="279.8" r="2.0" fill="#b7cde3"/><circle cx="144.6" cy="295.2" r="2.0" fill="#c1d5e7"/><circle cx="207.3" cy="285.3" r="2.0" fill="#9cb7d7"/><circle cx="177.5" cy="273.1" r="2.0" fill="#b9cfe4"/><circle cx="165.1" cy="293.3" r="2.0" fill="#bacfe4"/><circle cx="156.0" cy="280.6" r="2.0" fill="#cbdceb"/><circle cx="135.1" cy="281.4" r="2.0" fill="#bed2e6"/><circle cx="186.3" cy="325.4" r="2.0" fill="#92a3cd"/><circle cx="191.9" cy="293.7" r="2.0" fill="#c0d4e6"/><circle cx="211.7" cy="302.1" r="2.0" fill="#afc8e0"/><circle cx="175.2" cy="278.0" r="2.0" fill="#b7cde3"/><circle cx="191.1" cy="321.7" r="2.0" fill="#8c96c6"/><circle cx="192.8" cy="277.8" r="2.0" fill="#8a59a8"/><circle cx="205.2" cy="280.1" r="2.0" fill="#aec7e0"/><circle cx="179.6" cy="335.4" r="2.0" fill="#9ab2d5"/><circle cx="192.4" cy="300.4" r="2.0" fill="#8c97c6"/><circle cx="111.0" cy="284.3" r="2.0" fill="#852d90"/><circle cx="126.6" cy="316.3" r="2.0" fill="#bcd1e5"/><circle cx="206.0" cy="293.2" r="2.0" fill="#c2d5e7"/><circle cx="175.4" cy="283.9" r="2.0" fill="#a7c2dd"/><circle cx="183.0" cy="334.0" r="2.0" fill="#9ab4d6"/><circle cx="205.6" cy="267.3" r="2.0" fill="#c1d5e7"/><circle cx="193.6" cy="268.3" r="2.0" fill="#bfd3e6"/><circle cx="67.3" cy="292.6" r="2.0" fill="#8b5fab"/><circle cx="139.0" cy="331.0" r="2.0" fill="#bcd1e5"/><circle cx="159.0" cy="350.0" r="2.0" fill="#adc6df"/><circle cx="203.3" cy="274.9" r="2.0" fill="#8c78b7"/><circle cx="168.5" cy="274.2" r="2.0" fill="#bad0e4"/><circle cx="151.4" cy="288.4" r="2.0" fill="#cddeec"/><circle cx="182.9" cy="270.3" r="2.0" fill="#c7d9e9"/><circle cx="145.3" cy="284.3" r="2.0" fill="#aac4de"/><circle cx="185.0" cy="338.7" r="2.0" fill="#9fbcda"/><circle cx="186.7" cy="296.4" r="2.0" fill="#a5c1dd"/><circle cx="210.6" cy="297.8" r="2.0" fill="#aac4de"/><circle cx="196.3" cy="273.8" r="2.0" fill="#bfd3e6"/><circle cx="142.3" cy="275.9" r="2.0" fill="#a8c3de"/><circle cx="152.0" cy="345.0" r="2.0" fill="#adc6df"/><circle cx="176.9" cy="329.6" r="2.0" fill="#94a6ce"/><circle cx="185.7" cy="312.7" r="2.0" fill="#b9cfe4"/><circle cx="180.3" cy="312.8" r="2.0" fill="#98b0d3"/><circle cx="202.0" cy="277.2" r="2.0" fill="#a9c3de"/><circle cx="187.1" cy="279.3" r="2.0" fill="#cddeec"/><circle cx="204.2" cy="293.9" r="2.0" fill="#9bb5d7"/><circle cx="175.3" cy="327.0" r="2.0" fill="#9dbbd9"/><circle cx="195.7" cy="292.8" r="2.0" fill="#9ebcda"/><circle cx="201.6" cy="289.9" r="2.0" fill="#8a52a5"/><circle cx="200.9" cy="301.0" r="2.0" fill="#d8e6f1"/><circle cx="186.5" cy="302.3" r="2.0" fill="#aec7e0"/><circle cx="185.6" cy="266.0" r="2.0" fill="#a9c3de"/><circle cx="189.0" cy="317.0" r="2.0" fill="#9ab4d6"/><circle cx="212.5" cy="291.9" r="2.0" fill="#b5cce2"/><circle cx="77.7" cy="292.6" r="2.0" fill="#8b5fab"/><circle cx="147.8" cy="294.6" r="2.0" fill="#afc8e0"/><circle cx="186.7" cy="291.4" r="2.0" fill="#bcd1e5"/><circle cx="204.0" cy="274.5" r="2.0" fill="#c7d9ea"/><circle cx="176.4" cy="287.8" r="2.0" fill="#c5d8e9"/><circle cx="162.3" cy="281.0" r="2.0" fill="#b6cce3"/><circle cx="209.9" cy="292.4" r="2.0" fill="#c8daea"/><circle cx="177.8" cy="291.9" r="2.0" fill="#b5cce2"/><circle cx="101.0" cy="291.0" r="2.0" fill="#bcd1e5"/><circle cx="195.7" cy="278.8" r="2.0" fill="#8c93c4"/><circle cx="175.4" cy="270.5" r="2.0" fill="#bbd0e5"/><circle cx="162.0" cy="310.0" r="2.0" fill="#bcd1e5"/><circle cx="212.5" cy="288.8" r="2.0" fill="#a8c3de"/><circle cx="213.5" cy="268.9" r="2.0" fill="#acc5df"/><circle cx="203.7" cy="292.5" r="2.0" fill="#aac5df"/><circle cx="215.5" cy="272.5" r="2.0" fill="#b9cfe4"/><circle cx="182.7" cy="271.5" r="2.0" fill="#a0bddb"/><circle cx="206.1" cy="286.8" r="2.0" fill="#d1e1ee"/><circle cx="167.7" cy="273.3" r="2.0" fill="#bcd0e5"/><circle cx="188.4" cy="269.7" r="2.0" fill="#d4e3ef"/><circle cx="182.2" cy="283.6" r="2.0" fill="#c0d4e6"/><circle cx="193.5" cy="303.7" r="2.0" fill="#a7c2dd"/><circle cx="169.6" cy="283.1" r="2.0" fill="#c9dbea"/><circle cx="197.1" cy="277.3" r="2.0" fill="#8c8fc2"/><circle cx="164.7" cy="269.0" r="2.0" fill="#a3bfdc"/><circle cx="159.3" cy="289.5" r="2.0" fill="#c1d4e7"/><circle cx="179.5" cy="282.9" r="2.0" fill="#b8cee4"/><circle cx="172.2" cy="330.3" r="2.0" fill="#8c8dc2"/><circle cx="194.9" cy="308.3" r="2.0" fill="#b0c8e0"/><circle cx="215.5" cy="282.5" r="2.0" fill="#cddeec"/><circle cx="201.1" cy="306.3" r="2.0" fill="#a2bfdb"/><circle cx="178.1" cy="284.8" r="2.0" fill="#bacfe4"/><circle cx="202.9" cy="274.5" r="2.0" fill="#8c6fb3"/><circle cx="191.0" cy="287.2" r="2.0" fill="#8c84bd"/><circle cx="201.9" cy="282.4" r="2.0" fill="#8c71b4"/><circle cx="206.2" cy="276.2" r="2.0" fill="#8a57a7"/><circle cx="200.4" cy="287.3" r="2.0" fill="#a1bedb"/><circle cx="209.1" cy="273.7" r="2.0" fill="#b2cae1"/><circle cx="156.6" cy="282.4" r="2.0" fill="#a4c0dc"/><circle cx="179.1" cy="335.3" r="2.0" fill="#95a9d0"/><circle cx="184.1" cy="282.3" r="2.0" fill="#afc8e0"/><circle cx="203.2" cy="287.3" r="2.0" fill="#92a2cc"/><circle cx="140.5" cy="280.0" r="2.0" fill="#cfdfed"/><circle cx="196.7" cy="291.4" r="2.0" fill="#8c73b5"/><circle cx="212.5" cy="271.3" r="2.0" fill="#b5cce2"/><circle cx="200.5" cy="293.1" r="2.0" fill="#cadbeb"/><circle cx="197.9" cy="313.5" r="2.0" fill="#9cb8d8"/><circle cx="196.2" cy="278.2" r="2.0" fill="#cfdfed"/><circle cx="103.7" cy="342.0" r="2.0" fill="#bcd1e5"/><circle cx="160.0" cy="320.0" r="2.0" fill="#bcd1e5"/><circle cx="145.0" cy="331.0" r="2.0" fill="#bcd1e5"/><circle cx="196.1" cy="291.3" r="2.0" fill="#8c8fc2"/><circle cx="162.9" cy="289.8" r="2.0" fill="#bfd3e6"/><circle cx="200.1" cy="316.7" r="2.0" fill="#94a6ce"/><circle cx="172.7" cy="283.0" r="2.0" fill="#9fbcda"/><circle cx="186.4" cy="276.1" r="2.0" fill="#b9cfe4"/><circle cx="164.1" cy="278.7" r="2.0" fill="#a9c3de"/><circle cx="140.1" cy="282.6" r="2.0" fill="#b2cae1"/><circle cx="205.8" cy="266.4" r="2.0" fill="#8c67af"/><circle cx="201.1" cy="267.2" r="2.0" fill="#c0d4e6"/><circle cx="200.9" cy="321.7" r="2.0" fill="#a2bfdb"/><circle cx="176.8" cy="321.6" r="2.0" fill="#96abd1"/><circle cx="216.4" cy="274.4" r="2.0" fill="#bfd3e6"/><circle cx="153.2" cy="277.7" r="2.0" fill="#9ebcda"/><circle cx="175.3" cy="340.9" r="2.0" fill="#9db9d8"/><circle cx="209.8" cy="265.2" r="2.0" fill="#c3d6e8"/><circle cx="197.1" cy="283.9" r="2.0" fill="#8b65ae"/><circle cx="94.6" cy="312.6" r="2.0" fill="#bcd1e5"/><circle cx="213.9" cy="277.5" r="2.0" fill="#bfd3e6"/><circle cx="170.9" cy="276.5" r="2.0" fill="#ccddec"/><circle cx="165.3" cy="287.2" r="2.0" fill="#c3d6e8"/><circle cx="190.6" cy="266.3" r="2.0" fill="#8c6eb2"/><circle cx="196.1" cy="275.8" r="2.0" fill="#bcd1e5"/><circle cx="210.3" cy="294.9" r="2.0" fill="#b3cae2"/><circle cx="204.2" cy="277.7" r="2.0" fill="#c3d6e8"/><circle cx="212.3" cy="267.2" r="2.0" fill="#c7d9e9"/><circle cx="164.8" cy="291.9" r="2.0" fill="#bacfe4"/><circle cx="153.2" cy="293.8" r="2.0" fill="#b8cee4"/><circle cx="181.8" cy="342.2" r="2.0" fill="#8c92c4"/><circle cx="198.7" cy="283.9" r="2.0" fill="#8c6eb3"/><circle cx="187.9" cy="302.5" r="2.0" fill="#97add2"/><circle cx="167.2" cy="292.9" r="2.0" fill="#a7c2dd"/><circle cx="200.1" cy="305.5" r="2.0" fill="#a3bfdc"/><circle cx="182.0" cy="266.9" r="2.0" fill="#b9cee4"/><circle cx="174.6" cy="275.7" r="2.0" fill="#afc8e0"/><circle cx="208.4" cy="284.8" r="2.0" fill="#aec7e0"/><circle cx="196.0" cy="301.3" r="2.0" fill="#8c7cb9"/><circle cx="76.2" cy="287.5" r="2.0" fill="#bcd1e5"/><circle cx="195.0" cy="313.0" r="2.0" fill="#8c96c6"/><circle cx="158.5" cy="277.1" r="2.0" fill="#d8e6f1"/><circle cx="196.3" cy="281.1" r="2.0" fill="#8c87bf"/><circle cx="165.7" cy="290.9" r="2.0" fill="#aac4de"/><circle cx="200.6" cy="283.1" r="2.0" fill="#d3e2ee"/><circle cx="175.5" cy="265.9" r="2.0" fill="#bdd1e5"/><circle cx="217.4" cy="277.2" r="2.0" fill="#b0c9e1"/><circle cx="189.2" cy="288.5" r="2.0" fill="#8947a0"/><circle cx="180.0" cy="280.8" r="2.0" fill="#bcd1e5"/><circle cx="200.3" cy="281.1" r="2.0" fill="#bacfe4"/><circle cx="146.9" cy="277.2" r="2.0" fill="#bcd1e5"/><circle cx="187.7" cy="276.5" r="2.0" fill="#bcd1e5"/><circle cx="169.0" cy="335.0" r="2.0" fill="#adc6df"/><circle cx="194.8" cy="293.9" r="2.0" fill="#8b5eab"/><circle cx="185.2" cy="321.7" r="2.0" fill="#92a3cd"/><circle cx="183.5" cy="343.1" r="2.0" fill="#96abd1"/><circle cx="160.7" cy="282.1" r="2.0" fill="#b0c9e1"/><circle cx="191.7" cy="293.2" r="2.0" fill="#8c76b7"/><circle cx="167.3" cy="284.5" r="2.0" fill="#b3cbe2"/><circle cx="181.0" cy="305.4" r="2.0" fill="#95a9d0"/><circle cx="194.3" cy="275.5" r="2.0" fill="#8c6bb1"/><circle cx="153.1" cy="279.5" r="2.0" fill="#c7d9e9"/><circle cx="187.4" cy="280.0" r="2.0" fill="#a7c2dd"/><circle cx="173.2" cy="285.7" r="2.0" fill="#e3eef5"/><circle cx="193.5" cy="278.1" r="2.0" fill="#bbd0e5"/><circle cx="198.6" cy="272.0" r="2.0" fill="#8c7ab8"/><circle cx="175.2" cy="339.1" r="2.0" fill="#a7c2dd"/><circle cx="187.9" cy="316.8" r="2.0" fill="#a5c1dd"/><circle cx="165.3" cy="285.5" r="2.0" fill="#cedeec"/><circle cx="191.3" cy="298.7" r="2.0" fill="#9bb5d6"/><circle cx="175.2" cy="270.4" r="2.0" fill="#bbd0e5"/><circle cx="191.5" cy="268.3" r="2.0" fill="#cfdfed"/><circle cx="195.3" cy="282.3" r="2.0" fill="#8d97c7"/><circle cx="158.7" cy="291.0" r="2.0" fill="#b3cbe2"/><circle cx="160.7" cy="292.2" r="2.0" fill="#abc5df"/><circle cx="203.9" cy="273.6" r="2.0" fill="#8c95c6"/><circle cx="140.0" cy="305.0" r="2.0" fill="#bcd1e5"/><circle cx="178.8" cy="294.2" r="2.0" fill="#bbd0e4"/><circle cx="204.7" cy="287.6" r="2.0" fill="#a0bddb"/><circle cx="150.0" cy="310.0" r="2.0" fill="#bcd1e5"/><circle cx="104.6" cy="306.6" r="2.0" fill="#8c96c6"/><circle cx="197.7" cy="288.7" r="2.0" fill="#8e9ac8"/><circle cx="125.8" cy="306.3" r="2.0" fill="#8c96c6"/><circle cx="156.0" cy="303.0" r="2.0" fill="#bcd1e5"/><circle cx="171.7" cy="335.1" r="2.0" fill="#9ab4d6"/><circle cx="180.3" cy="326.5" r="2.0" fill="#8c7bb9"/><circle cx="178.7" cy="268.6" r="2.0" fill="#bcd1e5"/><circle cx="125.8" cy="274.5" r="2.0" fill="#8c96c6"/><circle cx="199.9" cy="309.4" r="2.0" fill="#99b1d4"/><circle cx="201.9" cy="265.0" r="2.0" fill="#b3cbe2"/><circle cx="166.0" cy="273.7" r="2.0" fill="#b2cae1"/><circle cx="213.1" cy="286.0" r="2.0" fill="#b6cce3"/><circle cx="201.1" cy="292.1" r="2.0" fill="#8c91c4"/><circle cx="185.6" cy="283.3" r="2.0" fill="#bdd2e5"/><circle cx="187.7" cy="300.8" r="2.0" fill="#8c7dba"/><circle cx="195.0" cy="270.6" r="2.0" fill="#bed2e6"/><circle cx="196.9" cy="298.3" r="2.0" fill="#adc7e0"/><circle cx="194.1" cy="294.2" r="2.0" fill="#b8cee4"/><circle cx="184.0" cy="283.4" r="2.0" fill="#a0bddb"/><circle cx="141.1" cy="283.8" r="2.0" fill="#a5c1dd"/><circle cx="176.0" cy="339.0" r="2.0" fill="#9ab4d6"/><circle cx="213.7" cy="274.2" r="2.0" fill="#a4c0dc"/><circle cx="212.5" cy="276.9" r="2.0" fill="#bcd1e5"/><circle cx="196.0" cy="292.2" r="2.0" fill="#8c7cb9"/><circle cx="163.7" cy="289.8" r="2.0" fill="#bdd1e5"/><circle cx="176.3" cy="328.7" r="2.0" fill="#909eca"/><circle cx="201.0" cy="278.4" r="2.0" fill="#b1c9e1"/><circle cx="194.7" cy="275.7" r="2.0" fill="#8c86be"/><circle cx="190.7" cy="285.8" r="2.0" fill="#b8cee4"/><circle cx="189.2" cy="328.2" r="2.0" fill="#92a3cd"/><circle cx="169.8" cy="272.5" r="2.0" fill="#d1e0ee"/><circle cx="209.3" cy="271.3" r="2.0" fill="#c8daea"/><circle cx="189.5" cy="263.9" r="2.0" fill="#c1d5e7"/><circle cx="198.3" cy="277.4" r="2.0" fill="#9bb5d6"/><circle cx="186.6" cy="316.4" r="2.0" fill="#92a3cd"/><circle cx="157.6" cy="272.7" r="2.0" fill="#aec7e0"/><circle cx="186.3" cy="292.4" r="2.0" fill="#acc5df"/><circle cx="193.5" cy="294.2" r="2.0" fill="#8c7eba"/><circle cx="139.7" cy="292.3" r="2.0" fill="#a6c2dd"/><circle cx="161.6" cy="291.9" r="2.0" fill="#9ab4d6"/><circle cx="206.8" cy="269.0" r="2.0" fill="#c0d3e6"/><circle cx="188.4" cy="295.8" r="2.0" fill="#abc5df"/><circle cx="174.3" cy="286.6" r="2.0" fill="#c1d5e7"/><circle cx="125.4" cy="320.0" r="2.0" fill="#bcd1e5"/><circle cx="190.3" cy="283.5" r="2.0" fill="#b5cce2"/><circle cx="184.0" cy="289.1" r="2.0" fill="#b9cfe4"/><circle cx="205.4" cy="277.0" r="2.0" fill="#894aa1"/><circle cx="209.4" cy="287.0" r="2.0" fill="#b2cae1"/><circle cx="211.1" cy="264.1" r="2.0" fill="#e3eef5"/><circle cx="190.9" cy="310.9" r="2.0" fill="#9bb6d7"/><circle cx="196.7" cy="292.8" r="2.0" fill="#8c7eba"/><circle cx="188.2" cy="329.7" r="2.0" fill="#91a0cb"/><circle cx="151.8" cy="275.2" r="2.0" fill="#b4cbe2"/><circle cx="170.7" cy="279.5" r="2.0" fill="#9fbcda"/><circle cx="141.5" cy="292.3" r="2.0" fill="#bbd0e5"/><circle cx="210.1" cy="274.2" r="2.0" fill="#b1c9e1"/><circle cx="195.5" cy="301.7" r="2.0" fill="#8c8fc3"/><circle cx="140.4" cy="288.4" r="2.0" fill="#9bb6d7"/><circle cx="178.7" cy="274.8" r="2.0" fill="#c3d6e8"/><circle cx="203.9" cy="289.2" r="2.0" fill="#bed2e6"/><circle cx="194.1" cy="296.5" r="2.0" fill="#8c8ec2"/><circle cx="192.3" cy="279.6" r="2.0" fill="#a8c3dd"/><circle cx="197.5" cy="304.1" r="2.0" fill="#8c75b6"/><circle cx="171.2" cy="331.5" r="2.0" fill="#95a8cf"/><circle cx="213.8" cy="279.6" r="2.0" fill="#c1d4e7"/><circle cx="166.5" cy="272.8" r="2.0" fill="#a4c0dc"/><circle cx="187.0" cy="328.2" r="2.0" fill="#95a9d0"/><circle cx="196.0" cy="290.2" r="2.0" fill="#b1c9e1"/><circle cx="173.6" cy="335.2" r="2.0" fill="#a8c3de"/><circle cx="193.8" cy="323.5" r="2.0" fill="#a2bfdb"/><circle cx="165.6" cy="273.3" r="2.0" fill="#ccdceb"/><circle cx="185.1" cy="289.5" r="2.0" fill="#c5d7e8"/><circle cx="198.8" cy="305.2" r="2.0" fill="#894da3"/><circle cx="210.5" cy="279.7" r="2.0" fill="#cbdceb"/><circle cx="185.4" cy="317.1" r="2.0" fill="#9ab4d6"/><circle cx="192.2" cy="307.2" r="2.0" fill="#97add2"/><circle cx="157.5" cy="333.0" r="2.0" fill="#adc6df"/><circle cx="180.0" cy="325.9" r="2.0" fill="#93a4cd"/><circle cx="198.5" cy="284.5" r="2.0" fill="#88469f"/><circle cx="57.4" cy="283.3" r="2.0" fill="#852d90"/><circle cx="152.5" cy="278.0" r="2.0" fill="#b6cde3"/><circle cx="170.0" cy="305.0" r="2.0" fill="#adc6df"/><circle cx="144.8" cy="274.1" r="2.0" fill="#bcd1e5"/><circle cx="200.5" cy="269.3" r="2.0" fill="#a5c1dd"/><circle cx="192.6" cy="280.1" r="2.0" fill="#b6cde3"/><circle cx="101.4" cy="281.3" r="2.0" fill="#8c96c6"/><circle cx="189.5" cy="294.2" r="2.0" fill="#b2c9e1"/><circle cx="136.9" cy="287.0" r="2.0" fill="#c8daea"/><circle cx="183.5" cy="280.7" r="2.0" fill="#c8daea"/><circle cx="165.8" cy="275.6" r="2.0" fill="#b0c9e1"/><circle cx="178.2" cy="338.3" r="2.0" fill="#909eca"/><circle cx="156.7" cy="290.9" r="2.0" fill="#c6d8e9"/><circle cx="131.0" cy="309.0" r="2.0" fill="#bcd1e5"/><circle cx="154.5" cy="284.8" r="2.0" fill="#c2d5e7"/><circle cx="165.6" cy="344.3" r="2.0" fill="#91a1cc"/><circle cx="152.2" cy="286.8" r="2.0" fill="#a9c4de"/><circle cx="203.1" cy="295.9" r="2.0" fill="#b4cbe2"/><circle cx="200.3" cy="273.3" r="2.0" fill="#9ebcda"/><circle cx="165.4" cy="271.6" r="2.0" fill="#a9c4de"/><circle cx="213.6" cy="284.3" r="2.0" fill="#ddeaf3"/><circle cx="143.0" cy="289.2" r="2.0" fill="#bfd3e6"/><circle cx="206.3" cy="296.0" r="2.0" fill="#c2d5e7"/><circle cx="181.4" cy="313.1" r="2.0" fill="#96aad1"/><circle cx="156.8" cy="285.0" r="2.0" fill="#afc8e0"/><circle cx="122.3" cy="326.0" r="2.0" fill="#bcd1e5"/><circle cx="200.8" cy="291.2" r="2.0" fill="#d2e2ee"/><circle cx="199.3" cy="271.7" r="2.0" fill="#cfdfed"/><circle cx="192.6" cy="283.4" r="2.0" fill="#bdd2e5"/><circle cx="142.7" cy="506.2" r="2.0" fill="#9ebbd9"/><circle cx="196.5" cy="518.3" r="2.0" fill="#bed2e6"/><circle cx="75.6" cy="512.0" r="2.0" fill="#8b5fab"/><circle cx="154.0" cy="501.4" r="2.0" fill="#a8c3de"/><circle cx="188.7" cy="508.7" r="2.0" fill="#cbdceb"/><circle cx="209.2" cy="514.8" r="2.0" fill="#c1d4e7"/><circle cx="142.8" cy="509.1" r="2.0" fill="#c2d5e7"/><circle cx="198.4" cy="498.2" r="2.0" fill="#a7c2dd"/><circle cx="151.0" cy="483.0" r="2.0" fill="#8c96c6"/><circle cx="210.1" cy="512.9" r="2.0" fill="#bbd0e5"/><circle cx="153.1" cy="518.4" r="2.0" fill="#bcd1e5"/><circle cx="152.1" cy="499.7" r="2.0" fill="#a6c1dd"/><circle cx="166.3" cy="508.2" r="2.0" fill="#b3cae2"/><circle cx="135.3" cy="520.8" r="2.0" fill="#b5cce2"/><circle cx="181.2" cy="497.5" r="2.0" fill="#9dbad9"/><circle cx="171.5" cy="508.5" r="2.0" fill="#afc8e0"/><circle cx="111.0" cy="496.0" r="2.0" fill="#852d90"/><circle cx="152.8" cy="489.7" r="2.0" fill="#c4d6e8"/><circle cx="184.9" cy="510.4" r="2.0" fill="#a1bedb"/><circle cx="155.8" cy="509.3" r="2.0" fill="#d5e4f0"/><circle cx="209.0" cy="498.9" r="2.0" fill="#8a55a6"/><circle cx="208.0" cy="514.7" r="2.0" fill="#8b62ad"/><circle cx="150.9" cy="497.0" r="2.0" fill="#b5cce2"/><circle cx="157.6" cy="460.4" r="2.0" fill="#9ab4d6"/><circle cx="172.2" cy="492.1" r="2.0" fill="#adc6e0"/><circle cx="144.6" cy="506.9" r="2.0" fill="#c2d5e7"/><circle cx="144.1" cy="498.2" r="2.0" fill="#b1c9e1"/><circle cx="176.3" cy="522.2" r="2.0" fill="#c0d3e6"/><circle cx="194.6" cy="514.6" r="2.0" fill="#b0c9e1"/><circle cx="137.4" cy="517.7" r="2.0" fill="#c0d4e7"/><circle cx="173.6" cy="519.2" r="2.0" fill="#bbd0e4"/><circle cx="125.5" cy="471.0" r="2.0" fill="#bcd1e5"/><circle cx="137.8" cy="519.8" r="2.0" fill="#b5cce2"/><circle cx="131.3" cy="504.8" r="2.0" fill="#c8d9ea"/><circle cx="206.3" cy="508.5" r="2.0" fill="#d0dfed"/><circle cx="200.9" cy="496.0" r="2.0" fill="#d6e4f0"/><circle cx="150.5" cy="496.2" r="2.0" fill="#cbdceb"/><circle cx="76.2" cy="527.0" r="2.0" fill="#bcd1e5"/><circle cx="186.9" cy="511.4" r="2.0" fill="#cedeec"/><circle cx="161.1" cy="524.0" r="2.0" fill="#d3e2ef"/><circle cx="125.8" cy="512.4" r="2.0" fill="#9ab4d6"/><circle cx="176.2" cy="518.3" r="2.0" fill="#b9cfe4"/><circle cx="209.9" cy="504.6" r="2.0" fill="#c8daea"/><circle cx="157.7" cy="506.2" r="2.0" fill="#a6c1dd"/><circle cx="193.1" cy="507.5" r="2.0" fill="#b9cfe4"/><circle cx="158.1" cy="512.6" r="2.0" fill="#99b1d4"/><circle cx="195.3" cy="510.3" r="2.0" fill="#cadbeb"/><circle cx="176.0" cy="489.6" r="2.0" fill="#8c96c6"/><circle cx="195.8" cy="514.6" r="2.0" fill="#98aed3"/><circle cx="156.1" cy="499.0" r="2.0" fill="#b7cde3"/><circle cx="161.0" cy="468.4" r="2.0" fill="#9ab4d6"/><circle cx="193.1" cy="505.5" r="2.0" fill="#bdd1e5"/><circle cx="144.0" cy="518.6" r="2.0" fill="#b3cae1"/><circle cx="76.2" cy="499.7" r="2.0" fill="#bcd1e5"/><circle cx="135.8" cy="505.1" r="2.0" fill="#aec7e0"/><circle cx="184.0" cy="495.0" r="2.0" fill="#8c81bc"/><circle cx="164.7" cy="498.2" r="2.0" fill="#bfd3e6"/><circle cx="200.6" cy="505.1" r="2.0" fill="#b8cee3"/><circle cx="191.8" cy="496.6" r="2.0" fill="#b8cee4"/><circle cx="146.5" cy="418.3" r="2.0" fill="#bcd1e5"/><circle cx="210.2" cy="515.6" r="2.0" fill="#a7c2dd"/><circle cx="167.4" cy="493.1" r="2.0" fill="#b2cae1"/><circle cx="176.1" cy="494.4" r="2.0" fill="#b6cde3"/><circle cx="135.7" cy="513.0" r="2.0" fill="#b8cee4"/><circle cx="184.6" cy="505.5" r="2.0" fill="#b4cbe2"/><circle cx="166.1" cy="505.5" r="2.0" fill="#b3cbe2"/><circle cx="133.6" cy="506.7" r="2.0" fill="#b0c8e0"/><circle cx="160.4" cy="463.7" r="2.0" fill="#adc6df"/><circle cx="182.7" cy="521.6" r="2.0" fill="#abc5df"/><circle cx="191.6" cy="516.0" r="2.0" fill="#8c87be"/><circle cx="186.5" cy="510.2" r="2.0" fill="#c9dbea"/><circle cx="165.2" cy="508.9" r="2.0" fill="#bdd2e5"/><circle cx="173.4" cy="503.5" r="2.0" fill="#d7e5f0"/><circle cx="142.0" cy="492.9" r="2.0" fill="#adc7e0"/><circle cx="136.2" cy="512.8" r="2.0" fill="#bdd2e5"/><circle cx="164.0" cy="511.8" r="2.0" fill="#d8e6f0"/><circle cx="197.7" cy="509.9" r="2.0" fill="#b7cde3"/><circle cx="168.8" cy="520.2" r="2.0" fill="#aec7e0"/><circle cx="145.5" cy="491.9" r="2.0" fill="#a2bedb"/><circle cx="173.2" cy="502.0" r="2.0" fill="#bdd1e5"/><circle cx="184.2" cy="508.3" r="2.0" fill="#a3c0dc"/><circle cx="137.9" cy="509.5" r="2.0" fill="#b6cde3"/><circle cx="140.9" cy="504.3" r="2.0" fill="#9fbddb"/><circle cx="67.3" cy="503.8" r="2.0" fill="#9ab4d6"/><circle cx="183.3" cy="508.5" r="2.0" fill="#c5d8e9"/><circle cx="173.0" cy="515.2" r="2.0" fill="#a8c3dd"/><circle cx="211.3" cy="505.9" r="2.0" fill="#b7cde3"/><circle cx="202.7" cy="506.4" r="2.0" fill="#c6d8e9"/><circle cx="206.2" cy="506.9" r="2.0" fill="#9dbad9"/><circle cx="158.5" cy="502.0" r="2.0" fill="#cbdceb"/><circle cx="196.2" cy="505.5" r="2.0" fill="#95aad0"/><circle cx="125.8" cy="482.5" r="2.0" fill="#9ab4d6"/><circle cx="168.9" cy="517.9" r="2.0" fill="#b3cbe2"/><circle cx="148.6" cy="496.4" r="2.0" fill="#a8c3de"/><circle cx="195.8" cy="519.1" r="2.0" fill="#a1bedb"/><circle cx="196.2" cy="510.8" r="2.0" fill="#c0d4e7"/><circle cx="199.7" cy="510.2" r="2.0" fill="#cedeec"/><circle cx="210.3" cy="513.0" r="2.0" fill="#9dbbd9"/><circle cx="199.4" cy="509.1" r="2.0" fill="#bad0e4"/><circle cx="198.8" cy="504.8" r="2.0" fill="#8c69b0"/><circle cx="135.6" cy="513.0" r="2.0" fill="#aac5df"/><circle cx="212.3" cy="507.5" r="2.0" fill="#b0c9e1"/><circle cx="186.7" cy="507.0" r="2.0" fill="#8c73b5"/><circle cx="187.6" cy="505.2" r="2.0" fill="#8c95c5"/><circle cx="144.0" cy="496.6" r="2.0" fill="#ccdceb"/><circle cx="131.5" cy="509.9" r="2.0" fill="#c1d4e7"/><circle cx="168.4" cy="513.3" r="2.0" fill="#a3c0dc"/><circle cx="192.9" cy="511.9" r="2.0" fill="#8c94c5"/><circle cx="150.0" cy="474.0" r="2.0" fill="#9ab4d6"/><circle cx="132.7" cy="499.7" r="2.0" fill="#b4cbe2"/><circle cx="168.5" cy="504.9" r="2.0" fill="#cbdceb"/><circle cx="194.5" cy="520.5" r="2.0" fill="#bcd1e5"/><circle cx="211.1" cy="499.2" r="2.0" fill="#acc5df"/><circle cx="138.2" cy="520.7" r="2.0" fill="#b1c9e1"/><circle cx="161.2" cy="505.5" r="2.0" fill="#b9cfe4"/><circle cx="156.7" cy="504.7" r="2.0" fill="#d6e4f0"/><circle cx="183.9" cy="498.9" r="2.0" fill="#c9dbea"/><circle cx="130.0" cy="530.0" r="2.0" fill="#bcd1e5"/><circle cx="178.6" cy="496.7" r="2.0" fill="#cfdfed"/><circle cx="148.4" cy="515.0" r="2.0" fill="#c5d8e9"/><circle cx="208.0" cy="505.9" r="2.0" fill="#b7cde3"/><circle cx="182.9" cy="498.0" r="2.0" fill="#b6cde3"/><circle cx="191.3" cy="514.9" r="2.0" fill="#c4d7e8"/><circle cx="176.6" cy="503.3" r="2.0" fill="#c4d7e8"/><circle cx="183.6" cy="515.1" r="2.0" fill="#b8cee4"/><circle cx="167.9" cy="520.1" r="2.0" fill="#cedeec"/><circle cx="151.9" cy="508.4" r="2.0" fill="#adc6df"/><circle cx="70.3" cy="498.8" r="2.0" fill="#852d90"/><circle cx="202.0" cy="515.4" r="2.0" fill="#b4cce2"/><circle cx="197.8" cy="510.5" r="2.0" fill="#9fbcda"/><circle cx="167.4" cy="498.3" r="2.0" fill="#bdd1e5"/><circle cx="188.8" cy="510.4" r="2.0" fill="#aec7e0"/><circle cx="199.4" cy="518.5" r="2.0" fill="#cfdfed"/><circle cx="138.4" cy="494.3" r="2.0" fill="#bbd0e4"/><circle cx="151.2" cy="494.9" r="2.0" fill="#d4e3ef"/><circle cx="205.9" cy="510.7" r="2.0" fill="#bdd2e5"/><circle cx="206.3" cy="515.4" r="2.0" fill="#d1e0ee"/><circle cx="163.0" cy="523.1" r="2.0" fill="#b7cde3"/><circle cx="156.5" cy="521.9" r="2.0" fill="#b7cde3"/><circle cx="168.0" cy="519.2" r="2.0" fill="#a9c3de"/><circle cx="212.0" cy="498.7" r="2.0" fill="#8b5daa"/><circle cx="168.6" cy="502.8" r="2.0" fill="#9dbad9"/><circle cx="197.0" cy="511.7" r="2.0" fill="#8c69b0"/><circle cx="193.5" cy="514.0" r="2.0" fill="#c3d6e8"/><circle cx="188.9" cy="513.7" r="2.0" fill="#8c71b4"/><circle cx="199.7" cy="518.9" r="2.0" fill="#cfdfed"/><circle cx="205.1" cy="504.9" r="2.0" fill="#c1d5e7"/><circle cx="196.3" cy="516.1" r="2.0" fill="#a2bedb"/><circle cx="168.3" cy="484.5" r="2.0" fill="#adc6df"/><circle cx="198.5" cy="514.9" r="2.0" fill="#8b65ae"/><circle cx="138.8" cy="516.7" r="2.0" fill="#acc5df"/><circle cx="170.7" cy="497.5" r="2.0" fill="#bed2e6"/><circle cx="154.8" cy="508.5" r="2.0" fill="#abc5df"/><circle cx="215.3" cy="516.0" r="2.0" fill="#a2bfdb"/><circle cx="184.0" cy="501.1" r="2.0" fill="#c0d3e6"/><circle cx="176.3" cy="498.2" r="2.0" fill="#c4d7e8"/><circle cx="197.6" cy="498.7" r="2.0" fill="#c8daea"/><circle cx="178.2" cy="520.1" r="2.0" fill="#a7c2dd"/><circle cx="196.7" cy="511.9" r="2.0" fill="#d4e3ef"/><circle cx="204.5" cy="517.6" r="2.0" fill="#cadbeb"/><circle cx="198.9" cy="504.1" r="2.0" fill="#d2e1ee"/><circle cx="138.1" cy="493.4" r="2.0" fill="#b3cbe2"/><circle cx="169.3" cy="489.0" r="2.0" fill="#cddeec"/><circle cx="201.8" cy="516.5" r="2.0" fill="#c3d6e8"/><circle cx="146.6" cy="499.7" r="2.0" fill="#b9cfe4"/><circle cx="147.7" cy="498.8" r="2.0" fill="#aec7e0"/><circle cx="163.8" cy="491.2" r="2.0" fill="#bed2e6"/><circle cx="185.0" cy="524.0" r="2.0" fill="#8c96c6"/><circle cx="194.4" cy="518.9" r="2.0" fill="#bfd3e6"/><circle cx="57.5" cy="497.3" r="2.0" fill="#8b5fab"/><circle cx="166.1" cy="493.8" r="2.0" fill="#b2cae1"/><circle cx="131.4" cy="509.3" r="2.0" fill="#bcd1e5"/><circle cx="213.6" cy="515.5" r="2.0" fill="#c2d5e7"/><circle cx="175.6" cy="504.8" r="2.0" fill="#b0c9e1"/><circle cx="206.0" cy="499.5" r="2.0" fill="#8c6ab0"/><circle cx="193.4" cy="516.7" r="2.0" fill="#a6c1dd"/><circle cx="202.0" cy="498.2" r="2.0" fill="#b3cae2"/><circle cx="144.4" cy="489.8" r="2.0" fill="#cddeec"/><circle cx="170.5" cy="511.8" r="2.0" fill="#c8daea"/><circle cx="183.1" cy="522.6" r="2.0" fill="#cbdceb"/><circle cx="137.5" cy="496.4" r="2.0" fill="#a3c0dc"/><circle cx="103.5" cy="533.4" r="2.0" fill="#bcd1e5"/><circle cx="122.3" cy="488.9" r="2.0" fill="#bcd1e5"/><circle cx="163.3" cy="492.3" r="2.0" fill="#aec7e0"/><circle cx="189.3" cy="500.4" r="2.0" fill="#bacfe4"/><circle cx="191.1" cy="496.3" r="2.0" fill="#b7cde3"/><circle cx="179.2" cy="503.1" r="2.0" fill="#b3cae2"/><circle cx="203.5" cy="502.1" r="2.0" fill="#c1d4e7"/><circle cx="174.9" cy="497.9" r="2.0" fill="#9ebbda"/><circle cx="156.5" cy="521.1" r="2.0" fill="#bacfe4"/><circle cx="156.9" cy="502.6" r="2.0" fill="#c3d6e8"/><circle cx="159.0" cy="516.5" r="2.0" fill="#cbdceb"/><circle cx="162.5" cy="494.5" r="2.0" fill="#c8daea"/><circle cx="155.3" cy="520.9" r="2.0" fill="#ccddec"/><circle cx="189.9" cy="508.3" r="2.0" fill="#acc5df"/><circle cx="209.5" cy="517.4" r="2.0" fill="#a5c1dd"/><circle cx="160.7" cy="498.5" r="2.0" fill="#bed2e6"/><circle cx="154.5" cy="495.5" r="2.0" fill="#bacfe4"/><circle cx="150.1" cy="497.0" r="2.0" fill="#cadbeb"/><circle cx="190.3" cy="495.0" r="2.0" fill="#8c96c6"/><circle cx="140.9" cy="504.5" r="2.0" fill="#b6cde3"/><circle cx="215.4" cy="505.8" r="2.0" fill="#ccddec"/><circle cx="188.2" cy="503.4" r="2.0" fill="#8c73b5"/><circle cx="141.1" cy="517.9" r="2.0" fill="#abc5df"/><circle cx="136.0" cy="521.0" r="2.0" fill="#bcd1e5"/><circle cx="167.6" cy="477.5" r="2.0" fill="#bcd1e5"/><circle cx="176.2" cy="512.5" r="2.0" fill="#c7d9e9"/><circle cx="137.9" cy="513.7" r="2.0" fill="#c1d4e7"/><circle cx="156.6" cy="504.4" r="2.0" fill="#c8daea"/><circle cx="143.9" cy="509.0" r="2.0" fill="#bed2e6"/><circle cx="200.0" cy="500.5" r="2.0" fill="#8c78b7"/><circle cx="116.5" cy="504.0" r="2.0" fill="#8c96c6"/><circle cx="182.6" cy="510.7" r="2.0" fill="#abc5df"/><circle cx="125.5" cy="486.3" r="2.0" fill="#bcd1e5"/><circle cx="205.2" cy="509.9" r="2.0" fill="#c1d4e7"/><circle cx="166.6" cy="513.7" r="2.0" fill="#b1c9e1"/><circle cx="142.1" cy="499.2" r="2.0" fill="#d8e6f1"/><circle cx="217.3" cy="509.4" r="2.0" fill="#9dbad9"/><circle cx="135.4" cy="515.0" r="2.0" fill="#deeaf3"/><circle cx="208.7" cy="514.9" r="2.0" fill="#c4d7e8"/><circle cx="138.0" cy="513.0" r="2.0" fill="#c1d5e7"/><circle cx="182.7" cy="498.0" r="2.0" fill="#9bb6d7"/><circle cx="216.7" cy="510.0" r="2.0" fill="#acc6df"/><circle cx="205.0" cy="513.3" r="2.0" fill="#8b5daa"/><circle cx="153.2" cy="491.8" r="2.0" fill="#ddeaf3"/><circle cx="170.0" cy="513.4" r="2.0" fill="#b9cfe4"/><circle cx="155.5" cy="470.8" r="2.0" fill="#bcd1e5"/><circle cx="182.3" cy="511.8" r="2.0" fill="#b3cbe2"/><circle cx="147.4" cy="467.0" r="2.0" fill="#bcd1e5"/><circle cx="168.6" cy="505.2" r="2.0" fill="#bacfe4"/><circle cx="188.7" cy="503.3" r="2.0" fill="#c7d9e9"/><circle cx="180.3" cy="491.2" r="2.0" fill="#8b5fab"/><circle cx="165.8" cy="512.0" r="2.0" fill="#dae7f1"/><circle cx="149.9" cy="520.5" r="2.0" fill="#c7d9e9"/><circle cx="208.4" cy="515.7" r="2.0" fill="#b6cde3"/><circle cx="173.0" cy="521.7" r="2.0" fill="#adc7e0"/><circle cx="206.4" cy="509.3" r="2.0" fill="#a1bedb"/><circle cx="140.5" cy="490.6" r="2.0" fill="#852d90"/><circle cx="210.1" cy="505.5" r="2.0" fill="#9cb8d8"/><circle cx="132.0" cy="515.0" r="2.0" fill="#bcd1e5"/><circle cx="197.3" cy="507.3" r="2.0" fill="#8d97c7"/><circle cx="135.9" cy="498.9" r="2.0" fill="#9dbbd9"/><circle cx="161.3" cy="495.5" r="2.0" fill="#d0e0ed"/><circle cx="199.7" cy="510.3" r="2.0" fill="#b8cee3"/><circle cx="197.0" cy="515.6" r="2.0" fill="#873998"/><circle cx="197.0" cy="499.9" r="2.0" fill="#8c82bc"/><circle cx="204.4" cy="517.7" r="2.0" fill="#cadbeb"/><circle cx="198.1" cy="506.1" r="2.0" fill="#8c6fb3"/><circle cx="191.0" cy="501.6" r="2.0" fill="#c0d4e7"/><circle cx="174.6" cy="486.4" r="2.0" fill="#bcd1e5"/><circle cx="207.3" cy="501.3" r="2.0" fill="#cedfed"/><circle cx="192.6" cy="500.1" r="2.0" fill="#c4d7e8"/><circle cx="189.9" cy="521.7" r="2.0" fill="#b7cde3"/><circle cx="184.1" cy="511.6" r="2.0" fill="#e1edf5"/><circle cx="144.4" cy="501.2" r="2.0" fill="#cadbeb"/><circle cx="142.7" cy="516.9" r="2.0" fill="#b9cfe4"/><circle cx="142.1" cy="495.3" r="2.0" fill="#d1e0ee"/><circle cx="132.4" cy="501.6" r="2.0" fill="#d8e6f1"/><circle cx="168.0" cy="479.2" r="2.0" fill="#adc6df"/><circle cx="203.8" cy="513.2" r="2.0" fill="#b3cae2"/><circle cx="159.9" cy="524.2" r="2.0" fill="#afc8e0"/><circle cx="156.6" cy="510.5" r="2.0" fill="#b1c9e1"/><circle cx="199.0" cy="507.8" r="2.0" fill="#8c82bc"/><circle cx="157.9" cy="494.2" r="2.0" fill="#bdd2e5"/><circle cx="213.5" cy="510.9" r="2.0" fill="#c7d9ea"/><circle cx="140.9" cy="510.1" r="2.0" fill="#d6e4f0"/><circle cx="212.3" cy="500.4" r="2.0" fill="#acc5df"/><circle cx="200.6" cy="510.6" r="2.0" fill="#b3cae2"/><circle cx="134.5" cy="498.6" r="2.0" fill="#c1d4e7"/><circle cx="187.4" cy="505.4" r="2.0" fill="#bacfe4"/><circle cx="146.3" cy="523.3" r="2.0" fill="#aac4de"/><circle cx="101.4" cy="499.0" r="2.0" fill="#8c96c6"/><circle cx="204.5" cy="516.0" r="2.0" fill="#8c7eba"/><circle cx="145.0" cy="514.9" r="2.0" fill="#b2cae1"/><circle cx="190.0" cy="517.9" r="2.0" fill="#b7cde3"/><circle cx="186.9" cy="499.5" r="2.0" fill="#b9cfe4"/><circle cx="132.9" cy="505.7" r="2.0" fill="#c0d4e7"/><circle cx="183.3" cy="505.6" r="2.0" fill="#abc5df"/><circle cx="152.3" cy="518.5" r="2.0" fill="#d7e5f0"/><circle cx="77.7" cy="496.1" r="2.0" fill="#8b5fab"/><circle cx="162.9" cy="503.2" r="2.0" fill="#ccdceb"/><circle cx="185.9" cy="504.4" r="2.0" fill="#8c95c5"/><circle cx="94.6" cy="515.0" r="2.0" fill="#bcd1e5"/><circle cx="155.7" cy="506.1" r="2.0" fill="#c9daea"/><circle cx="154.1" cy="512.9" r="2.0" fill="#b1c9e1"/><circle cx="162.4" cy="499.5" r="2.0" fill="#afc7e0"/><circle cx="140.6" cy="522.6" r="2.0" fill="#bacfe4"/><circle cx="183.7" cy="497.0" r="2.0" fill="#b9cfe4"/><circle cx="150.3" cy="514.8" r="2.0" fill="#bacfe4"/><circle cx="165.0" cy="497.1" r="2.0" fill="#bbd0e4"/><circle cx="158.7" cy="495.1" r="2.0" fill="#b8cee3"/><circle cx="197.3" cy="509.8" r="2.0" fill="#8b61ac"/><circle cx="147.2" cy="507.6" r="2.0" fill="#bcd1e5"/><circle cx="159.6" cy="503.5" r="2.0" fill="#d7e5f0"/><circle cx="126.0" cy="497.0" r="2.0" fill="#8c96c6"/><circle cx="152.4" cy="516.1" r="2.0" fill="#abc5df"/><circle cx="67.3" cy="501.8" r="2.0" fill="#8b5fab"/><circle cx="157.6" cy="518.6" r="2.0" fill="#a0bddb"/><circle cx="153.9" cy="510.8" r="2.0" fill="#d4e3ef"/><circle cx="178.1" cy="500.4" r="2.0" fill="#bdd2e5"/><circle cx="180.8" cy="507.3" r="2.0" fill="#d0e0ed"/><circle cx="178.1" cy="507.2" r="2.0" fill="#b0c8e1"/><circle cx="171.6" cy="516.8" r="2.0" fill="#c1d4e7"/><circle cx="199.1" cy="508.6" r="2.0" fill="#b6cce3"/><circle cx="133.1" cy="503.6" r="2.0" fill="#c4d7e8"/><circle cx="200.9" cy="498.1" r="2.0" fill="#abc5df"/><circle cx="183.1" cy="505.4" r="2.0" fill="#b8cee3"/><circle cx="152.7" cy="520.2" r="2.0" fill="#a3bfdc"/><circle cx="150.9" cy="524.1" r="2.0" fill="#d8e6f1"/><circle cx="102.0" cy="487.6" r="2.0" fill="#8c96c6"/><circle cx="172.9" cy="498.7" r="2.0" fill="#b6cce3"/><circle cx="188.7" cy="515.4" r="2.0" fill="#8c82bc"/><circle cx="180.1" cy="497.1" r="2.0" fill="#d0e0ed"/><circle cx="209.0" cy="502.7" r="2.0" fill="#d2e1ee"/><circle cx="154.6" cy="510.4" r="2.0" fill="#c3d6e8"/><circle cx="157.0" cy="520.7" r="2.0" fill="#b1c9e1"/><circle cx="191.2" cy="513.2" r="2.0" fill="#8b62ad"/><circle cx="134.0" cy="502.3" r="2.0" fill="#c0d4e6"/><circle cx="186.2" cy="517.7" r="2.0" fill="#c0d4e7"/><circle cx="93.4" cy="495.4" r="2.0" fill="#9ab4d6"/><circle cx="203.3" cy="514.3" r="2.0" fill="#894fa4"/><circle cx="209.3" cy="517.3" r="2.0" fill="#bbd0e5"/><circle cx="108.3" cy="491.4" r="2.0" fill="#8b5fab"/><circle cx="203.1" cy="511.1" r="2.0" fill="#bbd0e5"/><circle cx="152.5" cy="519.8" r="2.0" fill="#bfd3e6"/><circle cx="175.4" cy="514.4" r="2.0" fill="#c4d7e8"/><circle cx="203.8" cy="502.1" r="2.0" fill="#acc6df"/><circle cx="160.4" cy="490.1" r="2.0" fill="#bbd0e4"/><circle cx="140.6" cy="490.9" r="2.0" fill="#bbd0e5"/><circle cx="212.9" cy="510.0" r="2.0" fill="#acc6df"/><circle cx="178.8" cy="507.9" r="2.0" fill="#adc6df"/><circle cx="174.8" cy="498.0" r="2.0" fill="#d7e5f0"/><circle cx="194.0" cy="499.0" r="2.0" fill="#8c6ab1"/><circle cx="144.5" cy="508.8" r="2.0" fill="#acc6df"/><circle cx="151.6" cy="515.1" r="2.0" fill="#c2d6e7"/><circle cx="165.9" cy="493.4" r="2.0" fill="#c2d5e7"/><circle cx="204.7" cy="518.4" r="2.0" fill="#c2d5e7"/><circle cx="110.0" cy="521.0" r="2.0" fill="#bcd1e5"/><circle cx="162.3" cy="495.0" r="2.0" fill="#a6c2dd"/><circle cx="215.8" cy="510.4" r="2.0" fill="#abc5df"/><circle cx="191.2" cy="516.3" r="2.0" fill="#97add2"/><circle cx="179.7" cy="498.3" r="2.0" fill="#bacfe4"/><circle cx="126.6" cy="504.0" r="2.0" fill="#bcd1e5"/><circle cx="203.0" cy="499.2" r="2.0" fill="#8a57a7"/><circle cx="162.5" cy="521.7" r="2.0" fill="#c8daea"/><circle cx="176.9" cy="509.4" r="2.0" fill="#ccddec"/><circle cx="162.5" cy="475.0" r="2.0" fill="#bcd1e5"/><circle cx="187.0" cy="526.0" r="2.0" fill="#8c96c6"/><circle cx="176.9" cy="491.8" r="2.0" fill="#a7c2dd"/><circle cx="173.4" cy="500.7" r="2.0" fill="#bcd1e5"/><circle cx="170.8" cy="513.5" r="2.0" fill="#b7cde3"/><circle cx="161.0" cy="501.0" r="2.0" fill="#abc5df"/><circle cx="151.3" cy="446.0" r="2.0" fill="#bcd1e5"/><circle cx="148.0" cy="488.6" r="2.0" fill="#c1d4e7"/><circle cx="140.6" cy="494.1" r="2.0" fill="#b8cee4"/><circle cx="168.3" cy="510.1" r="2.0" fill="#9cb8d8"/><circle cx="189.4" cy="512.6" r="2.0" fill="#bacfe4"/><circle cx="189.7" cy="521.0" r="2.0" fill="#d3e2ee"/><circle cx="136.5" cy="522.2" r="2.0" fill="#a6c2dd"/><circle cx="145.0" cy="468.0" r="2.0" fill="#bcd1e5"/><circle cx="193.4" cy="496.3" r="2.0" fill="#d5e4ef"/><circle cx="161.1" cy="491.0" r="2.0" fill="#b4cbe2"/><circle cx="85.4" cy="508.0" r="2.0" fill="#8c81bc"/><circle cx="208.6" cy="510.4" r="2.0" fill="#8b64ae"/><circle cx="141.2" cy="501.0" r="2.0" fill="#bbd0e5"/><circle cx="190.5" cy="518.8" r="2.0" fill="#bed2e6"/><circle cx="161.6" cy="489.2" r="2.0" fill="#aec7e0"/><circle cx="614.6" cy="86.5" r="2.0" fill="#a4c0dc"/><circle cx="639.6" cy="112.2" r="2.0" fill="#91a0cb"/><circle cx="653.4" cy="118.7" r="2.0" fill="#8c96c6"/><circle cx="600.5" cy="155.5" r="2.0" fill="#afc8e0"/><circle cx="620.5" cy="97.2" r="2.0" fill="#aec7e0"/><circle cx="603.5" cy="101.7" r="2.0" fill="#a8c3de"/><circle cx="629.5" cy="94.3" r="2.0" fill="#93a4cd"/><circle cx="608.1" cy="88.4" r="2.0" fill="#a3bfdc"/><circle cx="619.5" cy="95.4" r="2.0" fill="#a1bedb"/><circle cx="672.0" cy="91.5" r="2.0" fill="#852d90"/><circle cx="600.7" cy="116.7" r="2.0" fill="#b3cae2"/><circle cx="597.5" cy="149.7" r="2.0" fill="#9ebbd9"/><circle cx="626.1" cy="136.4" r="2.0" fill="#a4c0dc"/><circle cx="614.4" cy="94.6" r="2.0" fill="#a1bedb"/><circle cx="610.7" cy="129.3" r="2.0" fill="#abc5df"/><circle cx="604.0" cy="145.6" r="2.0" fill="#b5cce3"/><circle cx="584.6" cy="110.6" r="2.0" fill="#bbd0e4"/><circle cx="600.4" cy="140.4" r="2.0" fill="#cbdceb"/><circle cx="674.0" cy="73.4" r="2.0" fill="#8b5fab"/><circle cx="609.9" cy="139.7" r="2.0" fill="#b8cee3"/><circle cx="603.9" cy="144.7" r="2.0" fill="#b7cde3"/><circle cx="630.5" cy="89.0" r="2.0" fill="#b8cee4"/><circle cx="621.4" cy="78.7" r="2.0" fill="#9fbcda"/><circle cx="635.1" cy="78.7" r="2.0" fill="#9bb5d7"/><circle cx="662.0" cy="50.8" r="2.0" fill="#8f9cc9"/><circle cx="579.9" cy="118.5" r="2.0" fill="#cfdfed"/><circle cx="632.0" cy="108.3" r="2.0" fill="#852d90"/><circle cx="655.0" cy="77.0" r="2.0" fill="#852d90"/><circle cx="577.6" cy="150.7" r="2.0" fill="#bcd1e5"/><circle cx="580.4" cy="123.9" r="2.0" fill="#c9daea"/><circle cx="589.2" cy="135.5" r="2.0" fill="#bdd2e5"/><circle cx="625.1" cy="130.8" r="2.0" fill="#9db9d9"/><circle cx="580.4" cy="116.0" r="2.0" fill="#c1d5e7"/><circle cx="626.7" cy="98.7" r="2.0" fill="#9db9d9"/><circle cx="607.8" cy="120.4" r="2.0" fill="#b6cde3"/><circle cx="679.7" cy="62.8" r="2.0" fill="#852d90"/><circle cx="605.7" cy="92.5" r="2.0" fill="#abc5df"/><circle cx="663.6" cy="58.8" r="2.0" fill="#8c7ab8"/><circle cx="594.5" cy="75.5" r="2.0" fill="#adc6df"/><circle cx="598.2" cy="154.4" r="2.0" fill="#b0c9e1"/><circle cx="633.5" cy="79.7" r="2.0" fill="#a1bedb"/><circle cx="657.0" cy="108.0" r="2.0" fill="#8c96c6"/><circle cx="594.6" cy="128.0" r="2.0" fill="#97add2"/><circle cx="625.5" cy="78.6" r="2.0" fill="#97aed3"/><circle cx="585.6" cy="132.9" r="2.0" fill="#d9e7f1"/><circle cx="606.1" cy="128.7" r="2.0" fill="#c7d9ea"/><circle cx="629.0" cy="79.6" r="2.0" fill="#9cb8d8"/><circle cx="602.4" cy="100.3" r="2.0" fill="#a4c0dc"/><circle cx="625.0" cy="91.1" r="2.0" fill="#a9c4de"/><circle cx="607.6" cy="127.7" r="2.0" fill="#a7c2dd"/><circle cx="658.3" cy="62.7" r="2.0" fill="#8f9dca"/><circle cx="609.9" cy="118.0" r="2.0" fill="#96abd1"/><circle cx="616.4" cy="132.5" r="2.0" fill="#a8c3de"/><circle cx="624.5" cy="139.5" r="2.0" fill="#a4c0dc"/><circle cx="600.0" cy="140.3" r="2.0" fill="#c4d6e8"/><circle cx="607.4" cy="91.3" r="2.0" fill="#b2cae1"/><circle cx="660.0" cy="121.7" r="2.0" fill="#8b5fab"/><circle cx="606.9" cy="120.6" r="2.0" fill="#b2cae1"/><circle cx="597.2" cy="113.9" r="2.0" fill="#b4cbe2"/><circle cx="681.6" cy="49.7" r="2.0" fill="#8949a1"/><circle cx="583.9" cy="126.6" r="2.0" fill="#bcd1e5"/><circle cx="672.3" cy="50.5" r="2.0" fill="#8c88bf"/><circle cx="604.6" cy="122.1" r="2.0" fill="#9cb8d8"/><circle cx="594.7" cy="146.5" r="2.0" fill="#a5c1dc"/><circle cx="622.0" cy="105.0" r="2.0" fill="#a4c0dc"/><circle cx="605.0" cy="127.1" r="2.0" fill="#acc6df"/><circle cx="619.9" cy="136.1" r="2.0" fill="#92a3cd"/><circle cx="602.0" cy="139.1" r="2.0" fill="#d7e5f0"/><circle cx="615.2" cy="108.8" r="2.0" fill="#94a6cf"/><circle cx="676.0" cy="50.0" r="2.0" fill="#8b5fab"/><circle cx="605.2" cy="98.9" r="2.0" fill="#adc6df"/><circle cx="594.9" cy="106.0" r="2.0" fill="#afc8e0"/><circle cx="585.4" cy="153.1" r="2.0" fill="#cedeec"/><circle cx="606.2" cy="114.5" r="2.0" fill="#a7c2dd"/><circle cx="595.1" cy="91.5" r="2.0" fill="#abc5df"/><circle cx="595.1" cy="120.2" r="2.0" fill="#bbd0e4"/><circle cx="622.4" cy="114.0" r="2.0" fill="#99b1d4"/><circle cx="607.6" cy="109.6" r="2.0" fill="#9ab3d5"/><circle cx="598.8" cy="93.4" r="2.0" fill="#c0d4e7"/><circle cx="599.3" cy="90.6" r="2.0" fill="#b4cce2"/><circle cx="606.5" cy="131.2" r="2.0" fill="#a8c3de"/><circle cx="589.4" cy="144.1" r="2.0" fill="#c3d6e8"/><circle cx="619.0" cy="89.1" r="2.0" fill="#93a5ce"/><circle cx="615.8" cy="83.8" r="2.0" fill="#acc5df"/><circle cx="590.4" cy="112.5" r="2.0" fill="#bfd3e6"/><circle cx="620.5" cy="113.1" r="2.0" fill="#8c8fc2"/><circle cx="604.0" cy="91.7" r="2.0" fill="#9ebcda"/><circle cx="614.6" cy="95.5" r="2.0" fill="#b6cde3"/><circle cx="583.5" cy="131.6" r="2.0" fill="#b2c9e1"/><circle cx="589.9" cy="146.1" r="2.0" fill="#b8cee4"/><circle cx="585.4" cy="126.1" r="2.0" fill="#c6d9e9"/><circle cx="647.0" cy="53.4" r="2.0" fill="#8c96c6"/><circle cx="551.3" cy="151.5" r="2.0" fill="#adc6df"/><circle cx="588.6" cy="130.0" r="2.0" fill="#c1d4e7"/><circle cx="591.0" cy="105.1" r="2.0" fill="#cedeec"/><circle cx="600.5" cy="162.8" r="2.0" fill="#aec7e0"/><circle cx="596.3" cy="93.1" r="2.0" fill="#aac4de"/><circle cx="631.2" cy="94.5" r="2.0" fill="#91a1cc"/><circle cx="618.5" cy="68.0" r="2.0" fill="#9ab4d6"/><circle cx="616.8" cy="148.9" r="2.0" fill="#a6c2dd"/><circle cx="625.3" cy="80.7" r="2.0" fill="#97acd2"/><circle cx="600.0" cy="101.0" r="2.0" fill="#a1bedb"/><circle cx="592.7" cy="94.0" r="2.0" fill="#b0c8e0"/><circle cx="588.4" cy="112.8" r="2.0" fill="#bbd0e4"/><circle cx="539.3" cy="160.3" r="2.0" fill="#bcd1e5"/><circle cx="596.3" cy="126.7" r="2.0" fill="#99b2d5"/><circle cx="612.4" cy="111.4" r="2.0" fill="#96abd1"/><circle cx="632.5" cy="116.3" r="2.0" fill="#a2bfdc"/><circle cx="603.3" cy="140.6" r="2.0" fill="#c6d8e9"/><circle cx="682.1" cy="49.6" r="2.0" fill="#8b63ad"/><circle cx="639.5" cy="70.3" r="2.0" fill="#c4d7e8"/><circle cx="583.1" cy="110.3" r="2.0" fill="#c9daea"/><circle cx="580.6" cy="128.2" r="2.0" fill="#bcd1e5"/><circle cx="584.8" cy="101.0" r="2.0" fill="#a9c4de"/><circle cx="596.6" cy="117.5" r="2.0" fill="#b3cbe2"/><circle cx="605.0" cy="94.1" r="2.0" fill="#b5cce2"/><circle cx="578.9" cy="117.2" r="2.0" fill="#b4cce2"/><circle cx="633.0" cy="118.6" r="2.0" fill="#92a2cc"/><circle cx="587.2" cy="155.1" r="2.0" fill="#b5cce2"/><circle cx="596.2" cy="154.2" r="2.0" fill="#9bb6d7"/><circle cx="678.8" cy="50.7" r="2.0" fill="#8c7bb9"/><circle cx="598.5" cy="162.0" r="2.0" fill="#98afd3"/><circle cx="622.0" cy="68.0" r="2.0" fill="#9ab4d6"/><circle cx="639.5" cy="127.0" r="2.0" fill="#96abd1"/><circle cx="617.0" cy="107.3" r="2.0" fill="#a6c2dd"/><circle cx="591.0" cy="137.3" r="2.0" fill="#9bb6d7"/><circle cx="669.0" cy="96.0" r="2.0" fill="#8b5fab"/><circle cx="616.5" cy="108.4" r="2.0" fill="#afc8e0"/><circle cx="646.1" cy="71.9" r="2.0" fill="#9fbdda"/><circle cx="633.0" cy="106.6" r="2.0" fill="#b0c9e1"/><circle cx="614.2" cy="91.8" r="2.0" fill="#cbdceb"/><circle cx="671.3" cy="47.9" r="2.0" fill="#8c8fc3"/><circle cx="576.1" cy="162.9" r="2.0" fill="#adc6df"/><circle cx="583.8" cy="139.3" r="2.0" fill="#b6cde3"/><circle cx="594.8" cy="126.6" r="2.0" fill="#acc6df"/><circle cx="606.9" cy="130.0" r="2.0" fill="#c7d9e9"/><circle cx="601.7" cy="120.8" r="2.0" fill="#b3cae2"/><circle cx="587.6" cy="128.6" r="2.0" fill="#acc6df"/><circle cx="596.4" cy="125.6" r="2.0" fill="#b2cae1"/><circle cx="681.0" cy="73.5" r="2.0" fill="#8b5fab"/><circle cx="666.0" cy="59.5" r="2.0" fill="#8c96c6"/><circle cx="631.0" cy="67.0" r="2.0" fill="#adc6df"/><circle cx="602.1" cy="120.2" r="2.0" fill="#9ebbd9"/><circle cx="596.8" cy="152.9" r="2.0" fill="#bfd3e6"/><circle cx="637.0" cy="69.9" r="2.0" fill="#a6c2dd"/><circle cx="685.0" cy="48.5" r="2.0" fill="#852d90"/><circle cx="582.7" cy="128.2" r="2.0" fill="#b2cae1"/><circle cx="586.0" cy="105.3" r="2.0" fill="#b7cde3"/><circle cx="619.5" cy="98.0" r="2.0" fill="#b5cce2"/><circle cx="609.2" cy="95.0" r="2.0" fill="#adc7e0"/><circle cx="676.6" cy="45.9" r="2.0" fill="#8c8cc1"/><circle cx="621.7" cy="81.4" r="2.0" fill="#99b2d5"/><circle cx="601.8" cy="106.5" r="2.0" fill="#aec7e0"/><circle cx="643.0" cy="97.5" r="2.0" fill="#852d90"/><circle cx="607.0" cy="127.4" r="2.0" fill="#c1d4e7"/><circle cx="604.7" cy="105.9" r="2.0" fill="#aac4de"/><circle cx="626.4" cy="121.8" r="2.0" fill="#aac4de"/><circle cx="593.0" cy="96.1" r="2.0" fill="#b6cde3"/><circle cx="585.6" cy="103.0" r="2.0" fill="#b7cde3"/><circle cx="599.6" cy="135.3" r="2.0" fill="#b7cde3"/><circle cx="637.6" cy="79.7" r="2.0" fill="#b4cbe2"/><circle cx="601.0" cy="135.6" r="2.0" fill="#c4d7e8"/><circle cx="625.7" cy="87.8" r="2.0" fill="#99b0d4"/><circle cx="582.5" cy="117.7" r="2.0" fill="#cddeec"/><circle cx="623.7" cy="97.5" r="2.0" fill="#cadbeb"/><circle cx="583.7" cy="108.2" r="2.0" fill="#c1d4e7"/><circle cx="635.9" cy="84.7" r="2.0" fill="#a6c2dd"/><circle cx="597.9" cy="101.9" r="2.0" fill="#99b2d5"/><circle cx="601.2" cy="148.1" r="2.0" fill="#96aad1"/><circle cx="603.1" cy="154.7" r="2.0" fill="#bacfe4"/><circle cx="633.6" cy="87.7" r="2.0" fill="#9cb7d7"/><circle cx="582.5" cy="158.0" r="2.0" fill="#adc6df"/><circle cx="589.2" cy="119.9" r="2.0" fill="#b9cee4"/><circle cx="606.0" cy="183.0" r="2.0" fill="#8c96c6"/><circle cx="612.4" cy="119.8" r="2.0" fill="#92a2cc"/><circle cx="627.9" cy="132.2" r="2.0" fill="#96abd1"/><circle cx="593.9" cy="98.4" r="2.0" fill="#abc5df"/><circle cx="611.7" cy="103.4" r="2.0" fill="#a1bedb"/><circle cx="545.7" cy="156.1" r="2.0" fill="#adc6df"/><circle cx="588.5" cy="99.0" r="2.0" fill="#a0bddb"/><circle cx="611.0" cy="124.1" r="2.0" fill="#a5c1dd"/><circle cx="666.2" cy="62.9" r="2.0" fill="#8e9ac8"/><circle cx="668.0" cy="56.2" r="2.0" fill="#8f9cc9"/><circle cx="596.4" cy="134.8" r="2.0" fill="#bed2e6"/><circle cx="554.2" cy="162.3" r="2.0" fill="#bcd1e5"/><circle cx="678.4" cy="45.5" r="2.0" fill="#8c80bb"/><circle cx="646.1" cy="62.3" r="2.0" fill="#93a5ce"/><circle cx="604.3" cy="167.9" r="2.0" fill="#afc8e0"/><circle cx="620.0" cy="85.8" r="2.0" fill="#b0c9e1"/><circle cx="645.2" cy="58.8" r="2.0" fill="#a4c0dc"/><circle cx="617.3" cy="87.4" r="2.0" fill="#98afd3"/><circle cx="687.4" cy="47.6" r="2.0" fill="#8c6fb3"/><circle cx="597.0" cy="99.2" r="2.0" fill="#c0d4e6"/><circle cx="585.0" cy="131.9" r="2.0" fill="#b2cae1"/><circle cx="617.0" cy="62.0" r="2.0" fill="#9ab4d6"/><circle cx="607.9" cy="92.3" r="2.0" fill="#a4c0dc"/><circle cx="596.4" cy="106.1" r="2.0" fill="#a6c2dd"/><circle cx="594.3" cy="121.9" r="2.0" fill="#b7cde3"/><circle cx="597.2" cy="92.7" r="2.0" fill="#a8c2dd"/><circle cx="633.0" cy="91.7" r="2.0" fill="#a1bedb"/><circle cx="604.7" cy="103.6" r="2.0" fill="#9bb6d7"/><circle cx="630.8" cy="72.5" r="2.0" fill="#894ca2"/><circle cx="583.1" cy="113.8" r="2.0" fill="#aec7e0"/><circle cx="607.4" cy="122.8" r="2.0" fill="#9ebcda"/><circle cx="663.0" cy="60.4" r="2.0" fill="#8e9bc8"/><circle cx="607.1" cy="98.9" r="2.0" fill="#a7c2dd"/><circle cx="600.1" cy="88.5" r="2.0" fill="#b7cde3"/><circle cx="668.0" cy="87.0" r="2.0" fill="#8b5fab"/><circle cx="579.6" cy="113.4" r="2.0" fill="#bfd3e6"/><circle cx="630.4" cy="128.5" r="2.0" fill="#9db9d8"/><circle cx="604.7" cy="150.3" r="2.0" fill="#c9daea"/><circle cx="660.0" cy="96.0" r="2.0" fill="#8b5fab"/><circle cx="606.4" cy="119.7" r="2.0" fill="#a5c1dd"/><circle cx="608.4" cy="143.6" r="2.0" fill="#adc6e0"/><circle cx="638.0" cy="89.3" r="2.0" fill="#acc5df"/><circle cx="624.9" cy="88.7" r="2.0" fill="#9cb8d8"/><circle cx="633.7" cy="90.3" r="2.0" fill="#a7c2dd"/><circle cx="578.0" cy="132.0" r="2.0" fill="#adc6df"/><circle cx="591.0" cy="137.1" r="2.0" fill="#abc5df"/><circle cx="668.0" cy="96.7" r="2.0" fill="#8b5fab"/><circle cx="597.8" cy="108.8" r="2.0" fill="#b6cde3"/><circle cx="660.0" cy="110.5" r="2.0" fill="#852d90"/><circle cx="614.7" cy="81.8" r="2.0" fill="#9cb8d8"/><circle cx="632.5" cy="76.5" r="2.0" fill="#8c96c6"/><circle cx="633.6" cy="96.7" r="2.0" fill="#8c86be"/><circle cx="618.0" cy="123.6" r="2.0" fill="#b6cde3"/><circle cx="620.0" cy="95.1" r="2.0" fill="#99b1d4"/><circle cx="584.0" cy="128.7" r="2.0" fill="#b2cae1"/><circle cx="689.0" cy="51.0" r="2.0" fill="#852d90"/><circle cx="573.8" cy="155.7" r="2.0" fill="#bcd1e5"/><circle cx="602.4" cy="151.4" r="2.0" fill="#a8c3de"/><circle cx="658.4" cy="51.6" r="2.0" fill="#8c96c6"/><circle cx="606.0" cy="175.1" r="2.0" fill="#93a6ce"/><circle cx="671.1" cy="50.1" r="2.0" fill="#8c8ac0"/><circle cx="647.9" cy="66.7" r="2.0" fill="#909fca"/><circle cx="605.1" cy="87.2" r="2.0" fill="#9ab3d5"/><circle cx="607.8" cy="136.9" r="2.0" fill="#c4d7e8"/><circle cx="649.0" cy="84.0" r="2.0" fill="#8c96c6"/><circle cx="597.1" cy="92.3" r="2.0" fill="#c1d4e7"/><circle cx="648.0" cy="111.6" r="2.0" fill="#8c96c6"/><circle cx="596.9" cy="90.0" r="2.0" fill="#bfd3e6"/><circle cx="629.3" cy="84.4" r="2.0" fill="#cbdceb"/><circle cx="629.6" cy="80.4" r="2.0" fill="#96abd1"/><circle cx="594.1" cy="121.9" r="2.0" fill="#a0bddb"/><circle cx="651.5" cy="131.5" r="2.0" fill="#8c96c6"/><circle cx="635.2" cy="92.1" r="2.0" fill="#92a3cd"/><circle cx="687.0" cy="44.2" r="2.0" fill="#8c78b7"/><circle cx="637.2" cy="83.5" r="2.0" fill="#94a7cf"/><circle cx="675.5" cy="49.8" r="2.0" fill="#84288c"/><circle cx="627.0" cy="78.0" r="2.0" fill="#9ab4d6"/><circle cx="618.3" cy="81.8" r="2.0" fill="#a5c1dd"/><circle cx="644.1" cy="69.9" r="2.0" fill="#8c71b4"/><circle cx="664.0" cy="63.5" r="2.0" fill="#8c96c6"/><circle cx="592.9" cy="156.9" r="2.0" fill="#b9cfe4"/><circle cx="592.5" cy="142.6" r="2.0" fill="#b1c9e1"/><circle cx="606.0" cy="108.6" r="2.0" fill="#a9c4de"/><circle cx="610.9" cy="107.8" r="2.0" fill="#9ab3d5"/><circle cx="638.6" cy="113.5" r="2.0" fill="#b0c9e1"/><circle cx="610.0" cy="83.5" r="2.0" fill="#d3e2ef"/><circle cx="600.9" cy="132.7" r="2.0" fill="#bbd0e5"/><circle cx="603.2" cy="103.4" r="2.0" fill="#a6c2dd"/><circle cx="657.0" cy="65.0" r="2.0" fill="#8b5fab"/><circle cx="560.6" cy="144.9" r="2.0" fill="#bcd1e5"/><circle cx="635.6" cy="85.5" r="2.0" fill="#9bb4d6"/><circle cx="625.1" cy="74.2" r="2.0" fill="#b7cde3"/><circle cx="598.6" cy="109.7" r="2.0" fill="#bbd0e5"/><circle cx="607.0" cy="140.3" r="2.0" fill="#aac4de"/><circle cx="662.0" cy="104.0" r="2.0" fill="#8c96c6"/><circle cx="610.6" cy="167.0" r="2.0" fill="#b0c8e1"/><circle cx="587.8" cy="106.4" r="2.0" fill="#c1d5e7"/><circle cx="627.0" cy="118.0" r="2.0" fill="#9ebbd9"/><circle cx="631.7" cy="88.7" r="2.0" fill="#a3c0dc"/><circle cx="597.3" cy="150.1" r="2.0" fill="#bfd3e6"/><circle cx="600.8" cy="87.5" r="2.0" fill="#a6c1dd"/><circle cx="605.3" cy="137.8" r="2.0" fill="#b4cbe2"/><circle cx="671.5" cy="48.4" r="2.0" fill="#8b5fab"/><circle cx="625.6" cy="92.8" r="2.0" fill="#abc5df"/><circle cx="608.9" cy="116.9" r="2.0" fill="#b4cbe2"/><circle cx="611.5" cy="101.3" r="2.0" fill="#9bb6d7"/><circle cx="579.4" cy="113.0" r="2.0" fill="#c5d7e9"/><circle cx="593.9" cy="138.6" r="2.0" fill="#bed2e6"/><circle cx="626.0" cy="73.0" r="2.0" fill="#9ab4d6"/><circle cx="565.8" cy="132.9" r="2.0" fill="#adc6df"/><circle cx="588.5" cy="114.0" r="2.0" fill="#a1bedb"/><circle cx="646.0" cy="118.0" r="2.0" fill="#8c96c6"/><circle cx="635.2" cy="99.7" r="2.0" fill="#93a5ce"/><circle cx="617.8" cy="86.4" r="2.0" fill="#a3bfdc"/><circle cx="609.4" cy="137.3" r="2.0" fill="#a3c0dc"/><circle cx="593.9" cy="97.6" r="2.0" fill="#d0e0ed"/><circle cx="604.3" cy="150.2" r="2.0" fill="#9fbcda"/><circle cx="603.8" cy="130.9" r="2.0" fill="#b2cae1"/><circle cx="603.0" cy="213.0" r="2.0" fill="#9ab4d6"/><circle cx="586.8" cy="115.2" r="2.0" fill="#c0d3e6"/><circle cx="607.6" cy="89.4" r="2.0" fill="#c0d4e7"/><circle cx="605.2" cy="145.2" r="2.0" fill="#cbdceb"/><circle cx="603.8" cy="134.9" r="2.0" fill="#9fbcda"/><circle cx="678.5" cy="44.0" r="2.0" fill="#8c85be"/><circle cx="633.9" cy="89.2" r="2.0" fill="#a5c1dc"/><circle cx="567.0" cy="136.4" r="2.0" fill="#adc6df"/><circle cx="557.7" cy="141.0" r="2.0" fill="#bcd1e5"/><circle cx="660.0" cy="58.0" r="2.0" fill="#8b5fab"/><circle cx="585.1" cy="149.6" r="2.0" fill="#a6c1dd"/><circle cx="649.4" cy="63.8" r="2.0" fill="#b7cee3"/><circle cx="617.7" cy="89.0" r="2.0" fill="#b8cee4"/><circle cx="612.3" cy="114.9" r="2.0" fill="#8c8cc1"/><circle cx="664.0" cy="89.0" r="2.0" fill="#852d90"/><circle cx="586.6" cy="149.8" r="2.0" fill="#9dbad9"/><circle cx="610.2" cy="98.4" r="2.0" fill="#a1bedb"/><circle cx="586.9" cy="132.4" r="2.0" fill="#c6d9e9"/><circle cx="589.9" cy="145.5" r="2.0" fill="#cedeec"/><circle cx="595.5" cy="108.6" r="2.0" fill="#a3bfdc"/><circle cx="597.1" cy="129.0" r="2.0" fill="#cbdceb"/><circle cx="623.9" cy="80.7" r="2.0" fill="#a0bddb"/><circle cx="630.1" cy="82.9" r="2.0" fill="#b0c9e1"/><circle cx="593.1" cy="136.0" r="2.0" fill="#bcd1e5"/><circle cx="593.5" cy="135.4" r="2.0" fill="#a9c3de"/><circle cx="623.1" cy="118.1" r="2.0" fill="#a5c1dd"/><circle cx="612.8" cy="171.9" r="2.0" fill="#9dbad9"/><circle cx="590.7" cy="147.8" r="2.0" fill="#acc6df"/><circle cx="600.1" cy="161.8" r="2.0" fill="#a1bedb"/><circle cx="646.0" cy="66.0" r="2.0" fill="#8c96c6"/><circle cx="605.0" cy="128.7" r="2.0" fill="#bacfe4"/><circle cx="635.0" cy="60.5" r="2.0" fill="#9ab4d6"/><circle cx="608.8" cy="110.0" r="2.0" fill="#b0c9e1"/><circle cx="586.2" cy="110.2" r="2.0" fill="#abc5df"/><circle cx="652.0" cy="70.0" r="2.0" fill="#8c96c6"/><circle cx="681.0" cy="72.0" r="2.0" fill="#8b5fab"/><circle cx="606.5" cy="91.9" r="2.0" fill="#afc7e0"/><circle cx="613.3" cy="117.9" r="2.0" fill="#b2cae1"/><circle cx="655.0" cy="57.0" r="2.0" fill="#8c96c6"/><circle cx="589.3" cy="98.5" r="2.0" fill="#cadceb"/><circle cx="651.3" cy="63.9" r="2.0" fill="#94a7cf"/><circle cx="580.8" cy="130.3" r="2.0" fill="#b0c9e1"/><circle cx="640.5" cy="55.5" r="2.0" fill="#9ab4d6"/><circle cx="568.7" cy="127.7" r="2.0" fill="#adc6df"/><circle cx="598.7" cy="126.3" r="2.0" fill="#aac5df"/><circle cx="628.4" cy="77.6" r="2.0" fill="#bbd0e5"/><circle cx="666.2" cy="60.7" r="2.0" fill="#8c71b4"/><circle cx="608.3" cy="106.5" r="2.0" fill="#acc6df"/><circle cx="624.0" cy="90.5" r="2.0" fill="#b1c9e1"/><circle cx="604.0" cy="123.8" r="2.0" fill="#a0bddb"/><circle cx="676.0" cy="68.5" r="2.0" fill="#8b5fab"/><circle cx="671.0" cy="63.0" r="2.0" fill="#8b5fab"/><circle cx="596.0" cy="139.6" r="2.0" fill="#bfd3e6"/><circle cx="644.3" cy="70.1" r="2.0" fill="#8c84bd"/><circle cx="593.5" cy="125.3" r="2.0" fill="#b6cce3"/><circle cx="624.4" cy="102.8" r="2.0" fill="#c7d9ea"/><circle cx="610.7" cy="104.6" r="2.0" fill="#a0bddb"/><circle cx="592.6" cy="142.8" r="2.0" fill="#b5cce3"/><circle cx="620.7" cy="80.6" r="2.0" fill="#9ebcda"/><circle cx="649.3" cy="68.8" r="2.0" fill="#9cb8d8"/><circle cx="664.5" cy="95.0" r="2.0" fill="#8b5fab"/><circle cx="625.0" cy="108.2" r="2.0" fill="#9dbad9"/><circle cx="688.3" cy="47.6" r="2.0" fill="#8b62ad"/><circle cx="614.7" cy="112.9" r="2.0" fill="#a5c1dc"/><circle cx="602.9" cy="137.4" r="2.0" fill="#afc8e0"/><circle cx="608.5" cy="126.4" r="2.0" fill="#b5cce2"/><circle cx="606.3" cy="88.5" r="2.0" fill="#99b2d5"/><circle cx="620.0" cy="93.7" r="2.0" fill="#b1c9e1"/><circle cx="597.8" cy="111.6" r="2.0" fill="#9cb8d8"/><circle cx="674.2" cy="52.7" r="2.0" fill="#8c6bb1"/><circle cx="611.8" cy="102.3" r="2.0" fill="#a9c3de"/><circle cx="620.9" cy="90.2" r="2.0" fill="#b3cae2"/><circle cx="597.8" cy="143.7" r="2.0" fill="#c3d6e8"/><circle cx="657.0" cy="103.0" r="2.0" fill="#8c96c6"/><circle cx="684.0" cy="79.0" r="2.0" fill="#852d90"/><circle cx="604.3" cy="169.1" r="2.0" fill="#aec7e0"/><circle cx="603.3" cy="120.2" r="2.0" fill="#abc5df"/><circle cx="615.4" cy="160.6" r="2.0" fill="#8e99c8"/><circle cx="622.9" cy="108.3" r="2.0" fill="#95aad0"/><circle cx="672.0" cy="55.0" r="2.0" fill="#8b5fab"/><circle cx="665.5" cy="47.8" r="2.0" fill="#8b5fab"/><circle cx="599.5" cy="79.0" r="2.0" fill="#adc6df"/><circle cx="590.1" cy="109.3" r="2.0" fill="#adc6df"/><circle cx="609.9" cy="132.1" r="2.0" fill="#9ab3d5"/><circle cx="609.6" cy="138.7" r="2.0" fill="#b7cde3"/><circle cx="615.8" cy="137.6" r="2.0" fill="#a6c1dd"/><circle cx="573.2" cy="122.8" r="2.0" fill="#adc6df"/><circle cx="609.1" cy="141.3" r="2.0" fill="#9fbcda"/><circle cx="579.1" cy="117.7" r="2.0" fill="#b4cce2"/><circle cx="601.1" cy="91.8" r="2.0" fill="#9ab3d5"/><circle cx="598.2" cy="150.5" r="2.0" fill="#98afd3"/><circle cx="582.2" cy="106.6" r="2.0" fill="#9fbdda"/><circle cx="630.4" cy="77.7" r="2.0" fill="#93a4ce"/><circle cx="582.6" cy="112.3" r="2.0" fill="#b0c9e1"/><circle cx="619.7" cy="129.7" r="2.0" fill="#8c89bf"/><circle cx="601.3" cy="137.0" r="2.0" fill="#9dbad9"/><circle cx="654.0" cy="91.5" r="2.0" fill="#852d90"/><circle cx="613.4" cy="118.9" r="2.0" fill="#b4cbe2"/><circle cx="601.9" cy="115.6" r="2.0" fill="#aac4de"/><circle cx="595.0" cy="111.4" r="2.0" fill="#a6c1dd"/><circle cx="599.5" cy="100.9" r="2.0" fill="#c3d6e8"/><circle cx="572.0" cy="114.0" r="2.0" fill="#adc6df"/><circle cx="591.9" cy="108.5" r="2.0" fill="#a1bedb"/><circle cx="631.4" cy="83.5" r="2.0" fill="#99b1d4"/><circle cx="630.0" cy="89.0" r="2.0" fill="#92a3cd"/><circle cx="676.0" cy="88.0" r="2.0" fill="#8b5fab"/><circle cx="640.1" cy="82.0" r="2.0" fill="#9db9d9"/><circle cx="600.0" cy="73.0" r="2.0" fill="#adc6df"/><circle cx="570.7" cy="130.9" r="2.0" fill="#bcd1e5"/><circle cx="650.0" cy="64.0" r="2.0" fill="#8c96c6"/><circle cx="599.1" cy="103.4" r="2.0" fill="#aac4de"/><circle cx="637.8" cy="73.9" r="2.0" fill="#adc6df"/><circle cx="633.6" cy="84.9" r="2.0" fill="#8d98c7"/><circle cx="612.0" cy="115.0" r="2.0" fill="#ccddec"/><circle cx="667.3" cy="60.5" r="2.0" fill="#8c78b7"/><circle cx="632.6" cy="134.5" r="2.0" fill="#8c73b5"/><circle cx="589.2" cy="99.5" r="2.0" fill="#d7e5f0"/><circle cx="595.9" cy="150.0" r="2.0" fill="#a9c4de"/><circle cx="598.0" cy="135.6" r="2.0" fill="#b0c9e1"/><circle cx="636.1" cy="83.0" r="2.0" fill="#91a1cc"/><circle cx="583.8" cy="145.4" r="2.0" fill="#bed2e6"/><circle cx="579.2" cy="124.5" r="2.0" fill="#c0d4e6"/><circle cx="612.9" cy="96.6" r="2.0" fill="#9fbcda"/><circle cx="584.0" cy="109.9" r="2.0" fill="#c1d4e7"/><circle cx="600.7" cy="118.9" r="2.0" fill="#b3cbe2"/><circle cx="584.3" cy="105.1" r="2.0" fill="#cadbeb"/><circle cx="594.4" cy="104.5" r="2.0" fill="#c3d6e8"/><circle cx="581.5" cy="162.3" r="2.0" fill="#adc6df"/><circle cx="568.4" cy="144.1" r="2.0" fill="#bcd1e5"/><circle cx="629.8" cy="125.5" r="2.0" fill="#909fcb"/><circle cx="624.9" cy="81.1" r="2.0" fill="#9dbad9"/><circle cx="643.2" cy="60.3" r="2.0" fill="#93a4cd"/><circle cx="606.1" cy="127.5" r="2.0" fill="#c5d7e8"/><circle cx="678.0" cy="87.0" r="2.0" fill="#8b5fab"/><circle cx="620.8" cy="76.6" r="2.0" fill="#99b1d4"/><circle cx="594.1" cy="154.8" r="2.0" fill="#c5d7e8"/><circle cx="615.9" cy="151.5" r="2.0" fill="#8d97c7"/><circle cx="596.8" cy="138.8" r="2.0" fill="#b4cbe2"/><circle cx="618.0" cy="104.4" r="2.0" fill="#98b0d4"/><circle cx="643.0" cy="71.0" r="2.0" fill="#8c96c6"/><circle cx="608.5" cy="84.1" r="2.0" fill="#c5d8e9"/><circle cx="592.8" cy="154.6" r="2.0" fill="#b9cee4"/><circle cx="602.6" cy="174.7" r="2.0" fill="#9bb5d6"/><circle cx="659.6" cy="99.4" r="2.0" fill="#8c96c6"/><circle cx="619.5" cy="151.1" r="2.0" fill="#99b2d5"/><circle cx="588.9" cy="142.5" r="2.0" fill="#c0d4e7"/><circle cx="567.0" cy="159.6" r="2.0" fill="#adc6df"/><circle cx="579.7" cy="118.1" r="2.0" fill="#bdd1e5"/><circle cx="662.4" cy="58.0" r="2.0" fill="#8c8cc1"/><circle cx="569.9" cy="153.2" r="2.0" fill="#bcd1e5"/><circle cx="654.8" cy="70.1" r="2.0" fill="#96acd1"/><circle cx="579.6" cy="111.6" r="2.0" fill="#c5d7e8"/><circle cx="625.1" cy="77.8" r="2.0" fill="#a6c1dd"/><circle cx="635.6" cy="116.9" r="2.0" fill="#b7cee3"/><circle cx="584.0" cy="116.8" r="2.0" fill="#bdd2e5"/><circle cx="687.4" cy="45.9" r="2.0" fill="#8c7fbb"/><circle cx="556.4" cy="156.7" r="2.0" fill="#adc6df"/><circle cx="600.7" cy="136.6" r="2.0" fill="#bdd2e5"/><circle cx="628.4" cy="105.1" r="2.0" fill="#a8c3de"/><circle cx="649.7" cy="65.0" r="2.0" fill="#8c83bd"/><circle cx="630.5" cy="89.0" r="2.0" fill="#94a6ce"/><circle cx="597.4" cy="95.4" r="2.0" fill="#c0d4e7"/><circle cx="603.9" cy="89.0" r="2.0" fill="#a5c0dc"/><circle cx="597.7" cy="116.7" r="2.0" fill="#d0e0ed"/><circle cx="591.0" cy="116.9" r="2.0" fill="#a9c3de"/><circle cx="583.3" cy="107.6" r="2.0" fill="#cbdceb"/><circle cx="623.0" cy="75.6" r="2.0" fill="#9ab4d6"/><circle cx="612.8" cy="94.8" r="2.0" fill="#9ab3d5"/><circle cx="591.9" cy="160.8" r="2.0" fill="#a0bddb"/><circle cx="599.5" cy="125.4" r="2.0" fill="#9bb5d6"/><circle cx="644.0" cy="60.0" r="2.0" fill="#8c96c6"/><circle cx="575.0" cy="118.0" r="2.0" fill="#adc6df"/><circle cx="610.0" cy="119.2" r="2.0" fill="#a7c2dd"/><circle cx="616.9" cy="103.1" r="2.0" fill="#b6cce3"/><circle cx="615.6" cy="169.6" r="2.0" fill="#9ebcda"/><circle cx="635.5" cy="124.1" r="2.0" fill="#9fbdda"/><circle cx="610.2" cy="125.8" r="2.0" fill="#afc7e0"/><circle cx="583.4" cy="136.2" r="2.0" fill="#cbdceb"/><circle cx="613.2" cy="83.7" r="2.0" fill="#a9c3de"/><circle cx="633.2" cy="70.0" r="2.0" fill="#9ab3d5"/><circle cx="582.7" cy="119.2" r="2.0" fill="#bfd3e6"/><circle cx="589.3" cy="125.1" r="2.0" fill="#c9dbea"/><circle cx="586.5" cy="133.2" r="2.0" fill="#b4cbe2"/><circle cx="642.4" cy="72.5" r="2.0" fill="#aec7e0"/><circle cx="595.1" cy="100.0" r="2.0" fill="#bed2e6"/><circle cx="587.8" cy="109.3" r="2.0" fill="#bdd1e5"/><circle cx="608.0" cy="186.0" r="2.0" fill="#8c96c6"/><circle cx="637.4" cy="83.9" r="2.0" fill="#a0bddb"/><circle cx="623.2" cy="95.1" r="2.0" fill="#9fbcda"/><circle cx="619.3" cy="91.5" r="2.0" fill="#b1c9e1"/><circle cx="559.7" cy="137.3" r="2.0" fill="#adc6df"/><circle cx="638.2" cy="85.5" r="2.0" fill="#a4c0dc"/><circle cx="600.4" cy="126.3" r="2.0" fill="#a5c1dc"/><circle cx="612.2" cy="116.9" r="2.0" fill="#8c8cc1"/><circle cx="551.0" cy="157.4" r="2.0" fill="#adc6df"/><circle cx="614.6" cy="82.4" r="2.0" fill="#b0c8e1"/><circle cx="613.8" cy="110.0" r="2.0" fill="#b4cbe2"/><circle cx="583.1" cy="144.3" r="2.0" fill="#c2d5e7"/><circle cx="620.0" cy="63.0" r="2.0" fill="#9ab4d6"/><circle cx="602.1" cy="104.3" r="2.0" fill="#b1c9e1"/><circle cx="646.0" cy="112.5" r="2.0" fill="#8c96c6"/><circle cx="603.8" cy="115.5" r="2.0" fill="#a8c3de"/><circle cx="575.0" cy="140.0" r="2.0" fill="#bcd1e5"/><circle cx="595.3" cy="104.5" r="2.0" fill="#afc7e0"/><circle cx="583.9" cy="134.7" r="2.0" fill="#aec7e0"/><circle cx="619.8" cy="82.0" r="2.0" fill="#9bb6d7"/><circle cx="682.0" cy="46.5" r="2.0" fill="#8b5fab"/><circle cx="609.9" cy="108.2" r="2.0" fill="#cadbeb"/><circle cx="609.8" cy="138.3" r="2.0" fill="#9ebcda"/><circle cx="606.5" cy="159.6" r="2.0" fill="#b7cde3"/><circle cx="640.6" cy="73.2" r="2.0" fill="#97aed2"/><circle cx="639.9" cy="74.3" r="2.0" fill="#acc5df"/><circle cx="633.9" cy="70.7" r="2.0" fill="#9cb8d8"/><circle cx="618.7" cy="73.6" r="2.0" fill="#adc6df"/><circle cx="604.6" cy="132.3" r="2.0" fill="#c4d6e8"/><circle cx="538.4" cy="167.7" r="2.0" fill="#bcd1e5"/><circle cx="631.5" cy="75.0" r="2.0" fill="#9ab4d6"/><circle cx="618.3" cy="86.0" r="2.0" fill="#a1bedb"/><circle cx="630.0" cy="72.4" r="2.0" fill="#aac5df"/><circle cx="596.5" cy="135.3" r="2.0" fill="#9db9d9"/><circle cx="589.5" cy="98.1" r="2.0" fill="#b3cbe2"/><circle cx="622.9" cy="101.9" r="2.0" fill="#bdd2e5"/><circle cx="656.0" cy="53.5" r="2.0" fill="#8c95c6"/><circle cx="609.9" cy="108.5" r="2.0" fill="#a3bfdc"/><circle cx="588.5" cy="136.1" r="2.0" fill="#b9cfe4"/><circle cx="591.4" cy="100.0" r="2.0" fill="#a0bddb"/><circle cx="613.3" cy="92.8" r="2.0" fill="#adc6df"/><circle cx="669.0" cy="78.2" r="2.0" fill="#8b5fab"/><circle cx="593.1" cy="136.3" r="2.0" fill="#c5d7e8"/><circle cx="586.1" cy="118.6" r="2.0" fill="#adc7e0"/><circle cx="620.0" cy="66.0" r="2.0" fill="#9ab4d6"/><circle cx="592.8" cy="139.3" r="2.0" fill="#d0e0ed"/><circle cx="592.6" cy="151.6" r="2.0" fill="#a6c2dd"/><circle cx="594.1" cy="113.5" r="2.0" fill="#c2d5e7"/><circle cx="617.1" cy="93.5" r="2.0" fill="#a1bedb"/><circle cx="672.0" cy="67.0" r="2.0" fill="#8c96c6"/><circle cx="622.8" cy="106.0" r="2.0" fill="#95a9d0"/><circle cx="593.3" cy="118.9" r="2.0" fill="#c6d8e9"/><circle cx="586.2" cy="129.7" r="2.0" fill="#cadbea"/><circle cx="593.6" cy="125.4" r="2.0" fill="#a6c1dd"/><circle cx="597.5" cy="139.1" r="2.0" fill="#c0d4e6"/><circle cx="586.2" cy="131.0" r="2.0" fill="#b6cce3"/><circle cx="684.0" cy="71.5" r="2.0" fill="#8b5fab"/><circle cx="591.4" cy="123.0" r="2.0" fill="#bed2e6"/><circle cx="577.0" cy="126.0" r="2.0" fill="#bcd1e5"/><circle cx="610.8" cy="131.1" r="2.0" fill="#9bb5d6"/><circle cx="554.4" cy="142.9" r="2.0" fill="#adc6df"/><circle cx="682.0" cy="85.0" r="2.0" fill="#852d90"/><circle cx="601.1" cy="123.2" r="2.0" fill="#a0bddb"/><circle cx="600.2" cy="136.2" r="2.0" fill="#bcd1e5"/><circle cx="678.0" cy="54.5" r="2.0" fill="#8b5fab"/><circle cx="593.3" cy="134.1" r="2.0" fill="#b5cce2"/><circle cx="628.4" cy="89.4" r="2.0" fill="#b1c9e1"/><circle cx="621.9" cy="79.5" r="2.0" fill="#a6c2dd"/><circle cx="622.0" cy="62.0" r="2.0" fill="#adc6df"/><circle cx="650.0" cy="55.0" r="2.0" fill="#8c96c6"/><circle cx="583.0" cy="129.4" r="2.0" fill="#a6c2dd"/><circle cx="582.7" cy="109.5" r="2.0" fill="#d8e6f1"/><circle cx="644.6" cy="64.9" r="2.0" fill="#9cb8d8"/><circle cx="612.4" cy="323.3" r="2.0" fill="#b3cae2"/><circle cx="592.1" cy="358.2" r="2.0" fill="#a5c0dc"/><circle cx="635.7" cy="285.9" r="2.0" fill="#9cb8d8"/><circle cx="621.5" cy="300.4" r="2.0" fill="#96acd1"/><circle cx="612.0" cy="380.0" r="2.0" fill="#9ab4d6"/><circle cx="599.8" cy="348.9" r="2.0" fill="#b5cce2"/><circle cx="606.7" cy="372.1" r="2.0" fill="#adc6df"/><circle cx="573.6" cy="308.8" r="2.0" fill="#b4cce2"/><circle cx="608.2" cy="289.5" r="2.0" fill="#bdd1e5"/><circle cx="576.2" cy="334.2" r="2.0" fill="#a5c1dd"/><circle cx="560.0" cy="330.0" r="2.0" fill="#adc6df"/><circle cx="621.2" cy="368.8" r="2.0" fill="#adc6df"/><circle cx="623.6" cy="296.6" r="2.0" fill="#9bb5d6"/><circle cx="595.2" cy="345.7" r="2.0" fill="#a5c0dc"/><circle cx="594.2" cy="300.4" r="2.0" fill="#b7cde3"/><circle cx="667.3" cy="302.1" r="2.0" fill="#852d90"/><circle cx="604.0" cy="361.6" r="2.0" fill="#c8daea"/><circle cx="633.6" cy="269.8" r="2.0" fill="#8c83bd"/><circle cx="581.6" cy="347.0" r="2.0" fill="#cfdfed"/><circle cx="619.1" cy="304.2" r="2.0" fill="#a6c2dd"/><circle cx="576.4" cy="318.8" r="2.0" fill="#abc5df"/><circle cx="584.9" cy="337.7" r="2.0" fill="#a0bddb"/><circle cx="600.6" cy="316.4" r="2.0" fill="#c3d6e8"/><circle cx="592.1" cy="342.8" r="2.0" fill="#b9cfe4"/><circle cx="584.8" cy="321.1" r="2.0" fill="#a5c1dc"/><circle cx="607.2" cy="349.4" r="2.0" fill="#b5cce2"/><circle cx="648.2" cy="350.4" r="2.0" fill="#8c96c6"/><circle cx="618.7" cy="306.9" r="2.0" fill="#9fbcda"/><circle cx="594.8" cy="329.9" r="2.0" fill="#bfd3e6"/><circle cx="600.2" cy="310.3" r="2.0" fill="#bbd0e4"/><circle cx="633.3" cy="289.7" r="2.0" fill="#a9c4de"/><circle cx="599.3" cy="310.5" r="2.0" fill="#b3cbe2"/><circle cx="673.3" cy="317.0" r="2.0" fill="#8b5fab"/><circle cx="581.5" cy="336.2" r="2.0" fill="#cbdceb"/><circle cx="658.4" cy="321.5" r="2.0" fill="#852d90"/><circle cx="579.4" cy="307.9" r="2.0" fill="#b0c8e1"/><circle cx="578.4" cy="303.0" r="2.0" fill="#adc6e0"/><circle cx="600.5" cy="348.8" r="2.0" fill="#9db9d9"/><circle cx="617.3" cy="340.0" r="2.0" fill="#b7cde3"/><circle cx="651.1" cy="273.5" r="2.0" fill="#9bb6d7"/><circle cx="600.8" cy="341.2" r="2.0" fill="#aac4de"/><circle cx="623.9" cy="280.5" r="2.0" fill="#b8cee4"/><circle cx="645.5" cy="374.7" r="2.0" fill="#8c96c6"/><circle cx="583.2" cy="322.6" r="2.0" fill="#aec7e0"/><circle cx="598.8" cy="349.2" r="2.0" fill="#aec7e0"/><circle cx="573.3" cy="308.2" r="2.0" fill="#9fbdda"/><circle cx="599.8" cy="362.7" r="2.0" fill="#d3e2ef"/><circle cx="588.6" cy="313.4" r="2.0" fill="#b6cce3"/><circle cx="554.7" cy="343.3" r="2.0" fill="#b1c9e1"/><circle cx="597.6" cy="329.7" r="2.0" fill="#b8cee3"/><circle cx="625.1" cy="287.0" r="2.0" fill="#8c92c4"/><circle cx="619.2" cy="362.9" r="2.0" fill="#9ab4d6"/><circle cx="601.3" cy="354.2" r="2.0" fill="#a1bedb"/><circle cx="586.4" cy="342.3" r="2.0" fill="#a2bfdb"/><circle cx="614.7" cy="281.9" r="2.0" fill="#c5d7e8"/><circle cx="577.5" cy="321.2" r="2.0" fill="#d3e2ef"/><circle cx="595.8" cy="321.6" r="2.0" fill="#bcd1e5"/><circle cx="614.0" cy="370.8" r="2.0" fill="#adc6df"/><circle cx="611.8" cy="301.3" r="2.0" fill="#acc6df"/><circle cx="610.0" cy="302.7" r="2.0" fill="#aac4de"/><circle cx="663.7" cy="260.4" r="2.0" fill="#8c87be"/><circle cx="603.2" cy="324.7" r="2.0" fill="#adc6df"/><circle cx="607.2" cy="340.5" r="2.0" fill="#95a9d0"/><circle cx="598.0" cy="304.0" r="2.0" fill="#bbd0e5"/><circle cx="616.1" cy="320.1" r="2.0" fill="#b1c9e1"/><circle cx="538.0" cy="364.0" r="2.0" fill="#bcd1e5"/><circle cx="638.8" cy="280.5" r="2.0" fill="#9cb7d7"/><circle cx="597.1" cy="289.4" r="2.0" fill="#b6cde3"/><circle cx="655.4" cy="288.7" r="2.0" fill="#8b5fab"/><circle cx="552.0" cy="352.0" r="2.0" fill="#bcd1e5"/><circle cx="595.0" cy="310.3" r="2.0" fill="#97add2"/><circle cx="620.7" cy="330.6" r="2.0" fill="#909eca"/><circle cx="597.9" cy="309.3" r="2.0" fill="#b5cce2"/><circle cx="591.1" cy="297.8" r="2.0" fill="#a4c0dc"/><circle cx="619.3" cy="277.4" r="2.0" fill="#9fbddb"/><circle cx="582.0" cy="331.4" r="2.0" fill="#b3cbe2"/><circle cx="647.5" cy="372.1" r="2.0" fill="#8c96c6"/><circle cx="592.0" cy="329.9" r="2.0" fill="#c3d6e8"/><circle cx="564.6" cy="342.7" r="2.0" fill="#b2cae1"/><circle cx="592.9" cy="296.5" r="2.0" fill="#bed2e6"/><circle cx="582.4" cy="366.8" r="2.0" fill="#9ab4d6"/><circle cx="580.3" cy="319.7" r="2.0" fill="#bbd0e5"/><circle cx="640.6" cy="338.7" r="2.0" fill="#a0bddb"/><circle cx="574.0" cy="333.6" r="2.0" fill="#cadceb"/><circle cx="610.4" cy="326.1" r="2.0" fill="#b6cde3"/><circle cx="646.4" cy="263.3" r="2.0" fill="#99b1d4"/><circle cx="615.0" cy="298.0" r="2.0" fill="#a2bedb"/><circle cx="606.6" cy="289.9" r="2.0" fill="#afc8e0"/><circle cx="607.8" cy="343.9" r="2.0" fill="#b4cbe2"/><circle cx="594.7" cy="362.5" r="2.0" fill="#9ab3d5"/><circle cx="627.2" cy="300.8" r="2.0" fill="#9fbdda"/><circle cx="629.0" cy="288.5" r="2.0" fill="#a1bedb"/><circle cx="621.9" cy="289.2" r="2.0" fill="#c7d9e9"/><circle cx="607.0" cy="310.9" r="2.0" fill="#c5d7e8"/><circle cx="579.4" cy="309.9" r="2.0" fill="#b7cde3"/><circle cx="597.1" cy="360.6" r="2.0" fill="#b0c8e0"/><circle cx="611.2" cy="288.1" r="2.0" fill="#9dbad9"/><circle cx="586.3" cy="323.3" r="2.0" fill="#c4d7e8"/><circle cx="636.2" cy="331.6" r="2.0" fill="#94a6cf"/><circle cx="615.8" cy="339.9" r="2.0" fill="#a5c1dd"/><circle cx="581.5" cy="312.1" r="2.0" fill="#9bb4d6"/><circle cx="607.8" cy="356.1" r="2.0" fill="#abc5df"/><circle cx="623.3" cy="310.5" r="2.0" fill="#acc6df"/><circle cx="610.2" cy="278.4" r="2.0" fill="#9bb5d6"/><circle cx="611.3" cy="323.8" r="2.0" fill="#96abd1"/><circle cx="604.3" cy="359.1" r="2.0" fill="#ccdceb"/><circle cx="618.5" cy="318.3" r="2.0" fill="#a8c3de"/><circle cx="599.6" cy="318.2" r="2.0" fill="#b7cde3"/><circle cx="631.9" cy="283.4" r="2.0" fill="#a0bedb"/><circle cx="593.8" cy="355.8" r="2.0" fill="#a4c0dc"/><circle cx="558.0" cy="338.0" r="2.0" fill="#bcd1e5"/><circle cx="602.0" cy="284.4" r="2.0" fill="#a6c1dd"/><circle cx="613.3" cy="300.0" r="2.0" fill="#96aad1"/><circle cx="564.6" cy="361.9" r="2.0" fill="#b1c9e1"/><circle cx="641.4" cy="272.6" r="2.0" fill="#93a5ce"/><circle cx="547.4" cy="371.5" r="2.0" fill="#a6c1dd"/><circle cx="578.0" cy="315.4" r="2.0" fill="#c1d5e7"/><circle cx="626.0" cy="286.1" r="2.0" fill="#a5c1dc"/><circle cx="629.6" cy="278.0" r="2.0" fill="#9bb6d7"/><circle cx="647.8" cy="273.7" r="2.0" fill="#8c83bd"/><circle cx="609.4" cy="285.6" r="2.0" fill="#95aad0"/><circle cx="585.3" cy="304.5" r="2.0" fill="#a6c2dd"/><circle cx="597.5" cy="345.7" r="2.0" fill="#c3d6e8"/><circle cx="600.6" cy="331.0" r="2.0" fill="#ccddec"/><circle cx="653.9" cy="357.3" r="2.0" fill="#8c96c6"/><circle cx="630.5" cy="276.7" r="2.0" fill="#98afd3"/><circle cx="649.6" cy="273.8" r="2.0" fill="#94a6cf"/><circle cx="585.1" cy="303.4" r="2.0" fill="#a8c3de"/><circle cx="611.1" cy="306.2" r="2.0" fill="#afc8e0"/><circle cx="608.3" cy="342.0" r="2.0" fill="#b8cee4"/><circle cx="622.3" cy="287.5" r="2.0" fill="#96abd1"/><circle cx="605.4" cy="386.6" r="2.0" fill="#adc6df"/><circle cx="611.1" cy="294.6" r="2.0" fill="#9dbad9"/><circle cx="575.3" cy="315.8" r="2.0" fill="#d3e2ef"/><circle cx="603.4" cy="369.5" r="2.0" fill="#adc6df"/><circle cx="634.1" cy="288.2" r="2.0" fill="#a5c1dd"/><circle cx="642.0" cy="305.1" r="2.0" fill="#8b5fab"/><circle cx="656.9" cy="342.4" r="2.0" fill="#8b5fab"/><circle cx="609.5" cy="344.9" r="2.0" fill="#8e9ac8"/><circle cx="580.7" cy="300.3" r="2.0" fill="#b2cae1"/><circle cx="680.7" cy="285.1" r="2.0" fill="#852d90"/><circle cx="655.1" cy="270.4" r="2.0" fill="#8c6bb1"/><circle cx="678.0" cy="259.1" r="2.0" fill="#8c67af"/><circle cx="607.2" cy="312.0" r="2.0" fill="#c1d5e7"/><circle cx="559.8" cy="374.8" r="2.0" fill="#bad0e4"/><circle cx="637.1" cy="278.7" r="2.0" fill="#9cb7d8"/><circle cx="609.7" cy="280.3" r="2.0" fill="#b3cbe2"/><circle cx="602.4" cy="297.3" r="2.0" fill="#a5c1dd"/><circle cx="579.2" cy="325.4" r="2.0" fill="#bed2e6"/><circle cx="572.7" cy="330.1" r="2.0" fill="#afc7e0"/><circle cx="630.9" cy="300.4" r="2.0" fill="#acc5df"/><circle cx="645.3" cy="273.5" r="2.0" fill="#a0bddb"/><circle cx="596.9" cy="289.9" r="2.0" fill="#a0bddb"/><circle cx="590.6" cy="299.7" r="2.0" fill="#a5c0dc"/><circle cx="638.1" cy="335.8" r="2.0" fill="#91a1cc"/><circle cx="645.1" cy="271.3" r="2.0" fill="#8c7eba"/><circle cx="676.3" cy="308.1" r="2.0" fill="#8b5fab"/><circle cx="609.8" cy="314.0" r="2.0" fill="#b8cee3"/><circle cx="636.8" cy="297.0" r="2.0" fill="#98b0d4"/><circle cx="624.4" cy="299.4" r="2.0" fill="#aac4de"/><circle cx="586.3" cy="353.0" r="2.0" fill="#adc6df"/><circle cx="580.1" cy="328.8" r="2.0" fill="#bcd1e5"/><circle cx="639.0" cy="385.9" r="2.0" fill="#9ab4d6"/><circle cx="637.1" cy="292.5" r="2.0" fill="#abc5df"/><circle cx="599.1" cy="289.7" r="2.0" fill="#a4c0dc"/><circle cx="618.2" cy="290.4" r="2.0" fill="#a9c4de"/><circle cx="597.5" cy="292.1" r="2.0" fill="#a9c3de"/><circle cx="599.8" cy="357.4" r="2.0" fill="#a2bfdb"/><circle cx="604.8" cy="289.4" r="2.0" fill="#cedfed"/><circle cx="646.2" cy="360.9" r="2.0" fill="#8c96c6"/><circle cx="624.2" cy="299.9" r="2.0" fill="#bad0e4"/><circle cx="630.6" cy="298.6" r="2.0" fill="#8d98c7"/><circle cx="606.8" cy="287.2" r="2.0" fill="#91a0cb"/><circle cx="650.0" cy="264.8" r="2.0" fill="#8c7db9"/><circle cx="636.5" cy="323.7" r="2.0" fill="#93a5ce"/><circle cx="617.5" cy="332.4" r="2.0" fill="#bfd3e6"/><circle cx="618.6" cy="288.0" r="2.0" fill="#9ebbda"/><circle cx="584.8" cy="300.6" r="2.0" fill="#b7cde3"/><circle cx="658.2" cy="260.7" r="2.0" fill="#8c7eba"/><circle cx="588.2" cy="356.1" r="2.0" fill="#c8daea"/><circle cx="673.3" cy="278.2" r="2.0" fill="#8b5fab"/><circle cx="673.5" cy="257.6" r="2.0" fill="#8c6bb1"/><circle cx="599.5" cy="384.0" r="2.0" fill="#9ab4d6"/><circle cx="548.4" cy="365.0" r="2.0" fill="#aec7e0"/><circle cx="616.3" cy="279.0" r="2.0" fill="#b9cfe4"/><circle cx="630.7" cy="278.1" r="2.0" fill="#98afd3"/><circle cx="601.4" cy="320.2" r="2.0" fill="#adc7e0"/><circle cx="555.5" cy="371.7" r="2.0" fill="#bad0e4"/><circle cx="575.8" cy="347.1" r="2.0" fill="#bcd1e5"/><circle cx="602.4" cy="294.9" r="2.0" fill="#a6c2dd"/><circle cx="582.8" cy="321.8" r="2.0" fill="#a2bfdb"/><circle cx="564.9" cy="350.7" r="2.0" fill="#bcd1e5"/><circle cx="605.6" cy="291.9" r="2.0" fill="#b9cee4"/><circle cx="601.5" cy="285.6" r="2.0" fill="#9cb8d8"/><circle cx="598.3" cy="289.4" r="2.0" fill="#bcd0e5"/><circle cx="594.4" cy="341.7" r="2.0" fill="#cddeec"/><circle cx="574.3" cy="317.3" r="2.0" fill="#e1ecf4"/><circle cx="631.4" cy="336.9" r="2.0" fill="#a0bddb"/><circle cx="567.0" cy="319.1" r="2.0" fill="#cedfed"/><circle cx="600.7" cy="341.0" r="2.0" fill="#a2bfdc"/><circle cx="656.7" cy="339.9" r="2.0" fill="#8b5fab"/><circle cx="592.5" cy="359.8" r="2.0" fill="#bfd3e6"/><circle cx="630.0" cy="282.0" r="2.0" fill="#a1bedb"/><circle cx="671.2" cy="255.8" r="2.0" fill="#8c80bb"/><circle cx="646.4" cy="372.3" r="2.0" fill="#8c96c6"/><circle cx="615.0" cy="281.6" r="2.0" fill="#99b1d4"/><circle cx="610.7" cy="311.8" r="2.0" fill="#afc7e0"/><circle cx="591.4" cy="324.8" r="2.0" fill="#c6d8e9"/><circle cx="599.1" cy="296.4" r="2.0" fill="#a9c3de"/><circle cx="596.1" cy="320.8" r="2.0" fill="#b5cce2"/><circle cx="643.5" cy="276.7" r="2.0" fill="#8e9ac8"/><circle cx="596.1" cy="310.4" r="2.0" fill="#adc6df"/><circle cx="625.0" cy="283.5" r="2.0" fill="#a6c2dd"/><circle cx="620.8" cy="311.5" r="2.0" fill="#a4c0dc"/><circle cx="609.0" cy="332.6" r="2.0" fill="#a2bfdb"/><circle cx="626.4" cy="398.4" r="2.0" fill="#adc6df"/><circle cx="536.0" cy="366.0" r="2.0" fill="#bcd1e5"/><circle cx="606.1" cy="320.7" r="2.0" fill="#abc5df"/><circle cx="601.4" cy="358.5" r="2.0" fill="#b1c9e1"/><circle cx="603.0" cy="309.1" r="2.0" fill="#bad0e4"/><circle cx="648.6" cy="270.9" r="2.0" fill="#91a1cc"/><circle cx="573.0" cy="321.8" r="2.0" fill="#bfd3e6"/><circle cx="654.1" cy="261.4" r="2.0" fill="#92a3cd"/><circle cx="621.0" cy="301.8" r="2.0" fill="#9ab3d5"/><circle cx="604.6" cy="283.4" r="2.0" fill="#b8cee4"/><circle cx="605.5" cy="308.7" r="2.0" fill="#9bb6d7"/><circle cx="626.1" cy="279.6" r="2.0" fill="#8d97c7"/><circle cx="579.4" cy="321.7" r="2.0" fill="#d5e4ef"/><circle cx="567.2" cy="364.9" r="2.0" fill="#bcd1e5"/><circle cx="635.4" cy="277.5" r="2.0" fill="#9ab3d5"/><circle cx="598.4" cy="356.2" r="2.0" fill="#b7cde3"/><circle cx="556.9" cy="371.1" r="2.0" fill="#c6d9e9"/><circle cx="614.6" cy="293.1" r="2.0" fill="#b2cae1"/><circle cx="606.5" cy="289.8" r="2.0" fill="#a4c0dc"/><circle cx="625.0" cy="320.6" r="2.0" fill="#a1bedb"/><circle cx="606.6" cy="345.7" r="2.0" fill="#b0c8e1"/><circle cx="604.6" cy="351.3" r="2.0" fill="#aac4de"/><circle cx="586.8" cy="324.4" r="2.0" fill="#c6d8e9"/><circle cx="636.3" cy="304.5" r="2.0" fill="#93a4cd"/><circle cx="569.9" cy="363.6" r="2.0" fill="#bcd1e5"/><circle cx="634.8" cy="311.2" r="2.0" fill="#9bb6d7"/><circle cx="594.2" cy="329.4" r="2.0" fill="#bdd2e5"/><circle cx="603.7" cy="308.8" r="2.0" fill="#b0c9e1"/><circle cx="610.9" cy="301.6" r="2.0" fill="#abc5df"/><circle cx="599.4" cy="356.1" r="2.0" fill="#c1d4e7"/><circle cx="583.7" cy="298.1" r="2.0" fill="#aec7e0"/><circle cx="617.4" cy="321.9" r="2.0" fill="#9cb7d7"/><circle cx="615.3" cy="368.2" r="2.0" fill="#adc6df"/><circle cx="571.9" cy="324.4" r="2.0" fill="#c0d4e6"/><circle cx="596.3" cy="353.3" r="2.0" fill="#b3cbe2"/><circle cx="584.3" cy="303.6" r="2.0" fill="#c4d7e8"/><circle cx="678.6" cy="259.6" r="2.0" fill="#8c8dc2"/><circle cx="555.1" cy="349.0" r="2.0" fill="#c5d8e9"/><circle cx="593.4" cy="316.5" r="2.0" fill="#d4e3ef"/><circle cx="582.9" cy="338.7" r="2.0" fill="#b0c9e1"/><circle cx="576.4" cy="342.5" r="2.0" fill="#bcd1e5"/><circle cx="627.1" cy="341.2" r="2.0" fill="#9ab4d6"/><circle cx="610.6" cy="342.8" r="2.0" fill="#94a6ce"/><circle cx="616.7" cy="316.3" r="2.0" fill="#a5c1dc"/><circle cx="610.2" cy="336.8" r="2.0" fill="#9fbdda"/><circle cx="581.8" cy="311.6" r="2.0" fill="#a7c2dd"/><circle cx="665.8" cy="326.0" r="2.0" fill="#8b5fab"/><circle cx="603.8" cy="355.4" r="2.0" fill="#9ab4d6"/><circle cx="561.2" cy="357.9" r="2.0" fill="#ccddec"/><circle cx="611.3" cy="376.7" r="2.0" fill="#9ab4d6"/><circle cx="569.7" cy="320.6" r="2.0" fill="#ccddec"/><circle cx="574.2" cy="331.9" r="2.0" fill="#b9cfe4"/><circle cx="618.1" cy="282.2" r="2.0" fill="#909fcb"/><circle cx="593.9" cy="350.1" r="2.0" fill="#c0d4e7"/><circle cx="583.5" cy="346.4" r="2.0" fill="#bdd2e5"/><circle cx="607.9" cy="321.6" r="2.0" fill="#adc6df"/><circle cx="595.3" cy="315.2" r="2.0" fill="#bacfe4"/><circle cx="622.0" cy="312.1" r="2.0" fill="#909eca"/><circle cx="623.0" cy="285.2" r="2.0" fill="#9db9d8"/><circle cx="553.0" cy="364.1" r="2.0" fill="#ebf4f8"/><circle cx="575.8" cy="326.9" r="2.0" fill="#c6d8e9"/><circle cx="617.9" cy="302.7" r="2.0" fill="#b5cce2"/><circle cx="622.1" cy="277.3" r="2.0" fill="#abc5df"/><circle cx="622.4" cy="288.9" r="2.0" fill="#98b0d3"/><circle cx="593.9" cy="314.6" r="2.0" fill="#c8daea"/><circle cx="626.4" cy="387.2" r="2.0" fill="#adc6df"/><circle cx="632.4" cy="279.7" r="2.0" fill="#99b1d4"/><circle cx="607.7" cy="311.0" r="2.0" fill="#9fbdda"/><circle cx="602.0" cy="286.3" r="2.0" fill="#a8c3de"/><circle cx="662.9" cy="267.5" r="2.0" fill="#8e9ac8"/><circle cx="570.5" cy="332.3" r="2.0" fill="#bcd1e5"/><circle cx="628.1" cy="298.5" r="2.0" fill="#97aed2"/><circle cx="658.4" cy="352.9" r="2.0" fill="#8b5fab"/><circle cx="643.4" cy="373.7" r="2.0" fill="#8c96c6"/><circle cx="601.1" cy="343.3" r="2.0" fill="#b0c8e0"/><circle cx="617.9" cy="366.2" r="2.0" fill="#adc6df"/><circle cx="600.3" cy="336.0" r="2.0" fill="#d1e1ee"/><circle cx="627.5" cy="287.4" r="2.0" fill="#9db9d8"/><circle cx="662.8" cy="306.6" r="2.0" fill="#852d90"/><circle cx="588.6" cy="334.7" r="2.0" fill="#a1bedb"/><circle cx="578.8" cy="315.0" r="2.0" fill="#b6cde3"/><circle cx="610.5" cy="321.5" r="2.0" fill="#bdd1e5"/><circle cx="581.0" cy="340.4" r="2.0" fill="#d3e2ef"/><circle cx="638.7" cy="336.5" r="2.0" fill="#93a4cd"/><circle cx="575.1" cy="383.3" r="2.0" fill="#bcd1e5"/><circle cx="581.2" cy="346.7" r="2.0" fill="#aec7e0"/><circle cx="633.8" cy="337.3" r="2.0" fill="#a5c1dd"/><circle cx="584.0" cy="320.1" r="2.0" fill="#b5cce2"/><circle cx="611.4" cy="336.3" r="2.0" fill="#c5d7e8"/><circle cx="588.4" cy="330.0" r="2.0" fill="#c9daea"/><circle cx="575.7" cy="327.8" r="2.0" fill="#cdddec"/><circle cx="570.4" cy="323.4" r="2.0" fill="#cbdceb"/><circle cx="606.1" cy="291.2" r="2.0" fill="#9dbad9"/><circle cx="599.6" cy="329.8" r="2.0" fill="#96acd1"/><circle cx="580.5" cy="311.9" r="2.0" fill="#c7d9e9"/><circle cx="573.8" cy="368.2" r="2.0" fill="#bcd1e5"/><circle cx="579.1" cy="335.8" r="2.0" fill="#a2bfdc"/><circle cx="626.4" cy="287.9" r="2.0" fill="#bacfe4"/><circle cx="593.1" cy="301.2" r="2.0" fill="#b4cce2"/><circle cx="608.1" cy="284.8" r="2.0" fill="#aac4de"/><circle cx="618.0" cy="285.3" r="2.0" fill="#aec7e0"/><circle cx="643.2" cy="269.5" r="2.0" fill="#94a7cf"/><circle cx="627.0" cy="297.7" r="2.0" fill="#a3c0dc"/><circle cx="587.4" cy="305.5" r="2.0" fill="#a7c2dd"/><circle cx="592.7" cy="290.9" r="2.0" fill="#b4cbe2"/><circle cx="653.9" cy="348.4" r="2.0" fill="#8b5fab"/><circle cx="586.8" cy="299.4" r="2.0" fill="#bfd3e6"/><circle cx="604.4" cy="294.6" r="2.0" fill="#a3bfdc"/><circle cx="593.2" cy="321.6" r="2.0" fill="#b5cce2"/><circle cx="638.5" cy="275.5" r="2.0" fill="#9bb5d6"/><circle cx="658.4" cy="332.0" r="2.0" fill="#8b5fab"/><circle cx="608.5" cy="302.2" r="2.0" fill="#acc6df"/><circle cx="655.4" cy="339.4" r="2.0" fill="#8b5fab"/><circle cx="617.8" cy="284.0" r="2.0" fill="#a2bedb"/><circle cx="598.5" cy="322.1" r="2.0" fill="#a9c3de"/><circle cx="660.7" cy="264.1" r="2.0" fill="#8c7cb9"/><circle cx="621.8" cy="279.0" r="2.0" fill="#abc5df"/><circle cx="625.6" cy="302.0" r="2.0" fill="#a5c1dd"/><circle cx="570.7" cy="320.1" r="2.0" fill="#b0c8e1"/><circle cx="667.0" cy="262.3" r="2.0" fill="#8c89bf"/><circle cx="609.9" cy="344.6" r="2.0" fill="#a4c0dc"/><circle cx="684.0" cy="300.0" r="2.0" fill="#8b5fab"/><circle cx="599.5" cy="368.2" r="2.0" fill="#adc6df"/><circle cx="572.7" cy="315.8" r="2.0" fill="#c6d8e9"/><circle cx="611.4" cy="289.2" r="2.0" fill="#b2cae1"/><circle cx="687.4" cy="254.9" r="2.0" fill="#8a55a6"/><circle cx="604.6" cy="280.4" r="2.0" fill="#a1bedb"/><circle cx="624.5" cy="368.2" r="2.0" fill="#adc6df"/><circle cx="612.7" cy="321.6" r="2.0" fill="#9ab3d6"/><circle cx="633.0" cy="311.0" r="2.0" fill="#852d90"/><circle cx="612.0" cy="352.6" r="2.0" fill="#9dbad9"/><circle cx="567.9" cy="376.7" r="2.0" fill="#bcd1e5"/><circle cx="682.2" cy="296.1" r="2.0" fill="#8b5fab"/><circle cx="688.5" cy="255.0" r="2.0" fill="#8b61ac"/><circle cx="585.5" cy="308.1" r="2.0" fill="#c4d7e8"/><circle cx="575.1" cy="305.9" r="2.0" fill="#adc6df"/><circle cx="537.9" cy="370.1" r="2.0" fill="#e4eff6"/><circle cx="627.9" cy="271.5" r="2.0" fill="#abc5df"/><circle cx="609.9" cy="331.9" r="2.0" fill="#bbd0e4"/><circle cx="608.7" cy="300.0" r="2.0" fill="#afc8e0"/><circle cx="611.9" cy="337.7" r="2.0" fill="#a5c0dc"/><circle cx="629.2" cy="284.8" r="2.0" fill="#a3c0dc"/><circle cx="603.5" cy="343.2" r="2.0" fill="#96acd2"/><circle cx="616.3" cy="337.0" r="2.0" fill="#9ab3d5"/><circle cx="623.8" cy="319.0" r="2.0" fill="#97add2"/><circle cx="595.8" cy="323.3" r="2.0" fill="#a4c0dc"/><circle cx="600.6" cy="304.5" r="2.0" fill="#bbd0e5"/><circle cx="646.1" cy="272.9" r="2.0" fill="#91a0cb"/><circle cx="640.0" cy="340.3" r="2.0" fill="#9ab3d5"/><circle cx="600.5" cy="289.1" r="2.0" fill="#b3cbe2"/><circle cx="659.9" cy="329.0" r="2.0" fill="#8b5fab"/><circle cx="633.4" cy="331.2" r="2.0" fill="#bdd2e5"/><circle cx="612.3" cy="286.3" r="2.0" fill="#b4cbe2"/><circle cx="602.4" cy="292.7" r="2.0" fill="#a4c0dc"/><circle cx="654.0" cy="262.5" r="2.0" fill="#8c6bb1"/><circle cx="590.6" cy="341.3" r="2.0" fill="#e1ecf4"/><circle cx="641.0" cy="269.7" r="2.0" fill="#95aad0"/><circle cx="604.3" cy="309.4" r="2.0" fill="#cbdceb"/><circle cx="601.2" cy="295.2" r="2.0" fill="#d5e3ef"/><circle cx="589.8" cy="301.9" r="2.0" fill="#99b0d4"/><circle cx="611.2" cy="289.3" r="2.0" fill="#aec7e0"/><circle cx="577.2" cy="311.8" r="2.0" fill="#c4d7e8"/><circle cx="596.8" cy="295.3" r="2.0" fill="#b2cae1"/><circle cx="640.4" cy="385.7" r="2.0" fill="#8c96c6"/><circle cx="614.4" cy="347.3" r="2.0" fill="#a5c1dd"/><circle cx="581.2" cy="306.2" r="2.0" fill="#d0e0ed"/><circle cx="552.3" cy="338.2" r="2.0" fill="#eff7fa"/><circle cx="625.6" cy="295.7" r="2.0" fill="#c2d5e7"/><circle cx="583.0" cy="308.2" r="2.0" fill="#acc6df"/><circle cx="605.8" cy="293.9" r="2.0" fill="#a7c2dd"/><circle cx="584.5" cy="295.9" r="2.0" fill="#afc8e0"/><circle cx="622.9" cy="301.7" r="2.0" fill="#b8cee3"/><circle cx="600.8" cy="382.6" r="2.0" fill="#9ab4d6"/><circle cx="673.3" cy="297.6" r="2.0" fill="#8b5fab"/><circle cx="641.6" cy="348.4" r="2.0" fill="#8c96c6"/><circle cx="569.1" cy="327.1" r="2.0" fill="#b5cce2"/><circle cx="632.7" cy="273.4" r="2.0" fill="#aac4de"/><circle cx="619.0" cy="316.7" r="2.0" fill="#8c94c5"/><circle cx="575.8" cy="324.3" r="2.0" fill="#b8cee3"/><circle cx="688.3" cy="254.1" r="2.0" fill="#8b61ac"/><circle cx="677.8" cy="282.7" r="2.0" fill="#8b5fab"/><circle cx="610.3" cy="310.6" r="2.0" fill="#9bb5d7"/><circle cx="676.3" cy="291.7" r="2.0" fill="#8b5fab"/><circle cx="577.7" cy="314.2" r="2.0" fill="#c1d4e7"/><circle cx="630.7" cy="297.4" r="2.0" fill="#b8cee4"/><circle cx="657.4" cy="266.6" r="2.0" fill="#8e9ac8"/><circle cx="636.5" cy="276.1" r="2.0" fill="#b1c9e1"/><circle cx="579.0" cy="302.7" r="2.0" fill="#a3bfdc"/><circle cx="639.4" cy="290.4" r="2.0" fill="#9ab3d6"/><circle cx="628.9" cy="281.2" r="2.0" fill="#a3bfdc"/><circle cx="583.4" cy="314.6" r="2.0" fill="#c2d5e7"/><circle cx="547.3" cy="364.7" r="2.0" fill="#deeaf3"/><circle cx="604.9" cy="321.2" r="2.0" fill="#93a5ce"/><circle cx="608.0" cy="332.9" r="2.0" fill="#b6cde3"/><circle cx="548.1" cy="373.3" r="2.0" fill="#c7d9e9"/><circle cx="610.9" cy="295.4" r="2.0" fill="#b4cbe2"/><circle cx="590.2" cy="304.2" r="2.0" fill="#b7cde3"/><circle cx="576.3" cy="337.9" r="2.0" fill="#c2d6e7"/><circle cx="556.3" cy="335.7" r="2.0" fill="#bbd0e4"/><circle cx="630.5" cy="290.0" r="2.0" fill="#8c90c3"/><circle cx="606.7" cy="331.8" r="2.0" fill="#b5cce3"/><circle cx="664.1" cy="262.0" r="2.0" fill="#8c80bb"/><circle cx="639.7" cy="289.7" r="2.0" fill="#9cb8d8"/><circle cx="610.8" cy="314.6" r="2.0" fill="#bed2e6"/><circle cx="655.3" cy="262.1" r="2.0" fill="#8c83bd"/><circle cx="617.0" cy="280.3" r="2.0" fill="#a6c1dd"/><circle cx="606.2" cy="283.7" r="2.0" fill="#a1bedb"/><circle cx="635.5" cy="288.4" r="2.0" fill="#b5cce2"/><circle cx="575.2" cy="314.1" r="2.0" fill="#b9cee4"/><circle cx="568.0" cy="351.1" r="2.0" fill="#e1edf4"/><circle cx="622.7" cy="313.0" r="2.0" fill="#99b0d4"/><circle cx="604.1" cy="283.5" r="2.0" fill="#aac4de"/><circle cx="605.7" cy="292.2" r="2.0" fill="#adc7e0"/><circle cx="639.6" cy="344.8" r="2.0" fill="#94a8cf"/><circle cx="639.8" cy="323.4" r="2.0" fill="#b9cee4"/><circle cx="635.7" cy="280.5" r="2.0" fill="#a3c0dc"/><circle cx="685.0" cy="255.2" r="2.0" fill="#8c6bb1"/><circle cx="629.2" cy="272.8" r="2.0" fill="#adc6df"/><circle cx="637.9" cy="287.2" r="2.0" fill="#98b0d4"/><circle cx="598.0" cy="315.1" r="2.0" fill="#a6c1dd"/><circle cx="592.9" cy="349.2" r="2.0" fill="#b5cce2"/><circle cx="609.6" cy="315.7" r="2.0" fill="#a9c4de"/><circle cx="606.0" cy="402.4" r="2.0" fill="#adc6df"/><circle cx="603.2" cy="301.3" r="2.0" fill="#b8cee3"/><circle cx="587.1" cy="338.1" r="2.0" fill="#aac4de"/><circle cx="614.7" cy="330.5" r="2.0" fill="#a6c2dd"/><circle cx="655.8" cy="266.6" r="2.0" fill="#96abd1"/><circle cx="619.1" cy="333.5" r="2.0" fill="#9cb7d7"/><circle cx="674.8" cy="264.7" r="2.0" fill="#894da3"/><circle cx="675.9" cy="260.7" r="2.0" fill="#8c8fc3"/><circle cx="605.4" cy="304.2" r="2.0" fill="#abc5df"/><circle cx="631.8" cy="296.3" r="2.0" fill="#97add2"/><circle cx="588.9" cy="307.1" r="2.0" fill="#dbe8f2"/><circle cx="613.1" cy="302.6" r="2.0" fill="#dae7f1"/><circle cx="563.1" cy="371.1" r="2.0" fill="#9ebbda"/><circle cx="659.3" cy="362.2" r="2.0" fill="#8b5fab"/><circle cx="613.4" cy="327.8" r="2.0" fill="#a1bedb"/><circle cx="594.2" cy="352.7" r="2.0" fill="#a5c0dc"/><circle cx="635.5" cy="322.1" r="2.0" fill="#97aed3"/><circle cx="607.2" cy="340.3" r="2.0" fill="#b1c9e1"/><circle cx="607.0" cy="345.1" r="2.0" fill="#b3cae2"/><circle cx="592.3" cy="327.0" r="2.0" fill="#afc8e0"/><circle cx="623.3" cy="283.1" r="2.0" fill="#c4d7e8"/><circle cx="613.0" cy="283.2" r="2.0" fill="#9ebcda"/><circle cx="581.5" cy="339.0" r="2.0" fill="#bfd3e6"/><circle cx="581.5" cy="317.8" r="2.0" fill="#bfd3e6"/><circle cx="583.9" cy="298.6" r="2.0" fill="#b1c9e1"/><circle cx="658.7" cy="353.0" r="2.0" fill="#8b5fab"/><circle cx="667.4" cy="267.1" r="2.0" fill="#8c85be"/><circle cx="592.4" cy="331.4" r="2.0" fill="#cddeec"/><circle cx="618.9" cy="302.8" r="2.0" fill="#a0bddb"/><circle cx="584.5" cy="349.0" r="2.0" fill="#c2d5e7"/><circle cx="631.3" cy="285.7" r="2.0" fill="#96abd1"/><circle cx="634.2" cy="282.4" r="2.0" fill="#94a7cf"/><circle cx="599.0" cy="327.2" r="2.0" fill="#b9cee4"/><circle cx="626.4" cy="351.0" r="2.0" fill="#9ab4d6"/><circle cx="636.9" cy="284.6" r="2.0" fill="#a1bedb"/><circle cx="596.0" cy="308.8" r="2.0" fill="#c4d6e8"/><circle cx="597.5" cy="356.9" r="2.0" fill="#b5cce2"/><circle cx="638.6" cy="272.7" r="2.0" fill="#9ebbda"/><circle cx="623.9" cy="286.0" r="2.0" fill="#a6c1dd"/><circle cx="608.5" cy="323.9" r="2.0" fill="#9ab2d5"/><circle cx="570.6" cy="316.1" r="2.0" fill="#a3bfdc"/><circle cx="659.3" cy="261.4" r="2.0" fill="#8c8dc1"/><circle cx="605.8" cy="282.2" r="2.0" fill="#a5c1dd"/><circle cx="602.8" cy="398.4" r="2.0" fill="#9ab4d6"/><circle cx="628.8" cy="285.9" r="2.0" fill="#8c89c0"/><circle cx="589.8" cy="336.7" r="2.0" fill="#acc5df"/><circle cx="602.9" cy="344.8" r="2.0" fill="#c0d4e7"/><circle cx="593.7" cy="324.4" r="2.0" fill="#b8cee4"/><circle cx="637.6" cy="350.4" r="2.0" fill="#9ab4d6"/><circle cx="647.2" cy="269.3" r="2.0" fill="#8e9ac8"/><circle cx="609.6" cy="332.0" r="2.0" fill="#9ebbda"/><circle cx="649.4" cy="357.3" r="2.0" fill="#8c96c6"/><circle cx="623.2" cy="347.8" r="2.0" fill="#9ab4d6"/><circle cx="633.0" cy="374.1" r="2.0" fill="#8c96c6"/><circle cx="602.6" cy="281.2" r="2.0" fill="#acc5df"/><circle cx="644.2" cy="273.2" r="2.0" fill="#92a2cc"/><circle cx="610.0" cy="405.4" r="2.0" fill="#9ab4d6"/><circle cx="601.3" cy="361.9" r="2.0" fill="#abc5df"/><circle cx="589.9" cy="339.5" r="2.0" fill="#9bb4d6"/><circle cx="680.3" cy="262.1" r="2.0" fill="#8c6cb1"/><circle cx="583.7" cy="380.0" r="2.0" fill="#adc6df"/><circle cx="583.0" cy="397.8" r="2.0" fill="#bcd1e5"/><circle cx="662.4" cy="265.8" r="2.0" fill="#8c7eba"/><circle cx="618.8" cy="287.1" r="2.0" fill="#abc5df"/><circle cx="581.6" cy="303.1" r="2.0" fill="#a2bfdb"/><circle cx="591.3" cy="345.1" r="2.0" fill="#adc6e0"/><circle cx="612.5" cy="315.4" r="2.0" fill="#a4c0dc"/><circle cx="614.7" cy="301.0" r="2.0" fill="#a6c1dd"/><circle cx="604.2" cy="344.3" r="2.0" fill="#c7d9e9"/><circle cx="587.8" cy="338.4" r="2.0" fill="#b1c9e1"/><circle cx="603.3" cy="344.3" r="2.0" fill="#a5c1dd"/><circle cx="609.1" cy="292.7" r="2.0" fill="#bfd3e6"/><circle cx="629.5" cy="323.0" r="2.0" fill="#b2cae1"/><circle cx="575.8" cy="408.3" r="2.0" fill="#bcd1e5"/><circle cx="586.5" cy="304.1" r="2.0" fill="#b3cae1"/><circle cx="585.3" cy="313.7" r="2.0" fill="#c4d7e8"/><circle cx="630.2" cy="289.7" r="2.0" fill="#9cb8d8"/><circle cx="618.1" cy="322.3" r="2.0" fill="#94a6ce"/><circle cx="661.3" cy="324.5" r="2.0" fill="#8b5fab"/><circle cx="646.2" cy="263.7" r="2.0" fill="#97acd2"/><circle cx="610.6" cy="339.6" r="2.0" fill="#a9c4de"/><circle cx="633.4" cy="278.7" r="2.0" fill="#96aad1"/><circle cx="595.3" cy="331.1" r="2.0" fill="#a8c3de"/><circle cx="603.1" cy="310.9" r="2.0" fill="#aec7e0"/><circle cx="568.2" cy="360.6" r="2.0" fill="#9bb6d7"/><circle cx="632.2" cy="272.6" r="2.0" fill="#97aed3"/><circle cx="627.1" cy="345.8" r="2.0" fill="#9ab4d6"/><circle cx="613.8" cy="293.1" r="2.0" fill="#b4cbe2"/><circle cx="630.4" cy="280.2" r="2.0" fill="#95a9d0"/><circle cx="587.6" cy="373.4" r="2.0" fill="#adc6df"/><circle cx="629.9" cy="296.4" r="2.0" fill="#99b2d5"/><circle cx="610.8" cy="306.0" r="2.0" fill="#aac4de"/><circle cx="632.4" cy="361.6" r="2.0" fill="#9ab4d6"/><circle cx="592.0" cy="356.2" r="2.0" fill="#d0e0ed"/><circle cx="614.5" cy="316.5" r="2.0" fill="#909eca"/><circle cx="575.9" cy="322.2" r="2.0" fill="#9db9d9"/><circle cx="612.1" cy="286.7" r="2.0" fill="#c9dbea"/><circle cx="571.9" cy="353.2" r="2.0" fill="#9ebcda"/><circle cx="608.5" cy="341.3" r="2.0" fill="#a5c1dd"/><circle cx="605.4" cy="375.4" r="2.0" fill="#adc6df"/><circle cx="662.7" cy="260.9" r="2.0" fill="#96acd1"/><circle cx="612.6" cy="342.1" r="2.0" fill="#b1c9e1"/><circle cx="615.4" cy="289.5" r="2.0" fill="#c7d9e9"/><circle cx="550.0" cy="359.0" r="2.0" fill="#b9cfe4"/><circle cx="653.7" cy="269.6" r="2.0" fill="#8c90c3"/><circle cx="630.6" cy="272.3" r="2.0" fill="#93a5ce"/><circle cx="598.4" cy="290.5" r="2.0" fill="#b8cee3"/><circle cx="637.4" cy="323.2" r="2.0" fill="#8c8fc3"/><circle cx="598.4" cy="296.7" r="2.0" fill="#b0c9e1"/><circle cx="590.6" cy="360.3" r="2.0" fill="#b5cce2"/><circle cx="582.2" cy="331.0" r="2.0" fill="#a2bedb"/><circle cx="572.3" cy="317.7" r="2.0" fill="#b0c9e1"/><circle cx="608.2" cy="356.0" r="2.0" fill="#b0c8e0"/><circle cx="596.6" cy="290.2" r="2.0" fill="#b2c9e1"/><circle cx="587.5" cy="321.5" r="2.0" fill="#c4d7e8"/><circle cx="585.6" cy="345.0" r="2.0" fill="#b2c9e1"/><circle cx="604.5" cy="278.7" r="2.0" fill="#b0c8e0"/><circle cx="615.1" cy="285.6" r="2.0" fill="#aec7e0"/><circle cx="638.8" cy="291.8" r="2.0" fill="#a2bfdc"/><circle cx="646.4" cy="275.1" r="2.0" fill="#8d99c7"/><circle cx="593.3" cy="339.9" r="2.0" fill="#aec7e0"/><circle cx="644.2" cy="275.2" r="2.0" fill="#8c7ab8"/><circle cx="611.5" cy="279.7" r="2.0" fill="#adc7e0"/><circle cx="652.2" cy="273.0" r="2.0" fill="#8c77b7"/><circle cx="553.2" cy="351.4" r="2.0" fill="#acc5df"/><circle cx="555.1" cy="362.3" r="2.0" fill="#dfecf4"/><circle cx="636.8" cy="278.5" r="2.0" fill="#9ab2d5"/><circle cx="636.3" cy="357.0" r="2.0" fill="#9ab4d6"/><circle cx="622.9" cy="276.3" r="2.0" fill="#b4cbe2"/><circle cx="598.3" cy="299.1" r="2.0" fill="#a6c2dd"/><circle cx="610.7" cy="285.8" r="2.0" fill="#a3c0dc"/><circle cx="637.2" cy="336.2" r="2.0" fill="#abc5df"/><circle cx="583.5" cy="348.1" r="2.0" fill="#bcd1e5"/><circle cx="676.0" cy="256.5" r="2.0" fill="#8c67af"/><circle cx="575.5" cy="318.7" r="2.0" fill="#b4cbe2"/><circle cx="638.0" cy="304.4" r="2.0" fill="#99b0d4"/><circle cx="662.6" cy="261.5" r="2.0" fill="#909fcb"/><circle cx="670.3" cy="309.6" r="2.0" fill="#8b5fab"/><circle cx="631.3" cy="291.5" r="2.0" fill="#99b1d4"/><circle cx="555.0" cy="345.0" r="2.0" fill="#bcd1e5"/><circle cx="573.8" cy="317.5" r="2.0" fill="#bfd3e6"/><circle cx="591.9" cy="306.0" r="2.0" fill="#b2cae1"/><circle cx="615.8" cy="315.9" r="2.0" fill="#b9cfe4"/><circle cx="623.1" cy="295.6" r="2.0" fill="#b6cce3"/><circle cx="595.5" cy="364.9" r="2.0" fill="#adc6df"/><circle cx="605.2" cy="313.4" r="2.0" fill="#b6cce3"/><circle cx="669.7" cy="256.6" r="2.0" fill="#8c72b5"/><circle cx="624.9" cy="299.9" r="2.0" fill="#aac4de"/><circle cx="650.1" cy="357.6" r="2.0" fill="#8c96c6"/><circle cx="577.1" cy="303.3" r="2.0" fill="#94a7cf"/><circle cx="646.5" cy="265.0" r="2.0" fill="#8f9cc9"/><circle cx="588.9" cy="385.3" r="2.0" fill="#adc6df"/><circle cx="627.6" cy="302.5" r="2.0" fill="#a7c2dd"/><circle cx="667.3" cy="279.7" r="2.0" fill="#8b5fab"/><circle cx="632.3" cy="297.5" r="2.0" fill="#91a1cc"/><circle cx="616.1" cy="329.8" r="2.0" fill="#9bb6d7"/><circle cx="632.5" cy="294.7" r="2.0" fill="#aec7e0"/><circle cx="608.3" cy="331.7" r="2.0" fill="#a0bddb"/><circle cx="593.9" cy="326.4" r="2.0" fill="#aac4de"/><circle cx="619.2" cy="293.0" r="2.0" fill="#a7c2dd"/><circle cx="608.9" cy="306.7" r="2.0" fill="#a7c2dd"/><circle cx="585.4" cy="336.8" r="2.0" fill="#cbdceb"/><circle cx="571.8" cy="332.8" r="2.0" fill="#c7d9ea"/><circle cx="615.4" cy="320.6" r="2.0" fill="#b0c8e1"/><circle cx="600.4" cy="303.0" r="2.0" fill="#a2bfdc"/><circle cx="632.1" cy="335.4" r="2.0" fill="#92a2cc"/><circle cx="586.6" cy="331.1" r="2.0" fill="#b9cfe4"/><circle cx="558.4" cy="377.1" r="2.0" fill="#dce9f3"/><circle cx="545.7" cy="372.4" r="2.0" fill="#b1c9e1"/><circle cx="686.0" cy="287.0" r="2.0" fill="#8b5fab"/><circle cx="593.6" cy="296.7" r="2.0" fill="#a5c1dd"/><circle cx="574.9" cy="337.6" r="2.0" fill="#cedeec"/><circle cx="570.1" cy="315.9" r="2.0" fill="#c9daea"/><circle cx="612.8" cy="300.5" r="2.0" fill="#aec7e0"/><circle cx="647.9" cy="363.3" r="2.0" fill="#8c96c6"/><circle cx="593.0" cy="338.1" r="2.0" fill="#bacfe4"/><circle cx="621.1" cy="338.8" r="2.0" fill="#9dbad9"/><circle cx="656.9" cy="279.1" r="2.0" fill="#8b5fab"/><circle cx="614.6" cy="315.7" r="2.0" fill="#aac4de"/><circle cx="662.8" cy="275.2" r="2.0" fill="#8c96c6"/><circle cx="614.0" cy="345.5" r="2.0" fill="#8e9bc9"/><circle cx="581.0" cy="389.9" r="2.0" fill="#adc6df"/><circle cx="613.3" cy="280.0" r="2.0" fill="#cbdceb"/><circle cx="577.7" cy="324.7" r="2.0" fill="#dae8f2"/><circle cx="593.2" cy="304.4" r="2.0" fill="#c3d6e8"/><circle cx="581.8" cy="306.8" r="2.0" fill="#b6cce3"/><circle cx="606.0" cy="354.0" r="2.0" fill="#c2d5e7"/><circle cx="682.7" cy="254.8" r="2.0" fill="#8a57a8"/><circle cx="679.3" cy="294.6" r="2.0" fill="#8b5fab"/><circle cx="593.5" cy="357.5" r="2.0" fill="#abc5df"/><circle cx="627.0" cy="279.6" r="2.0" fill="#a4c0dc"/><circle cx="616.3" cy="299.0" r="2.0" fill="#99b0d4"/><circle cx="600.5" cy="327.1" r="2.0" fill="#b1c9e1"/><circle cx="670.3" cy="321.5" r="2.0" fill="#8b5fab"/><circle cx="601.0" cy="302.8" r="2.0" fill="#b0c8e0"/><circle cx="599.3" cy="317.1" r="2.0" fill="#aec7e0"/><circle cx="594.4" cy="292.8" r="2.0" fill="#b7cde3"/><circle cx="580.1" cy="308.3" r="2.0" fill="#c6d8e9"/><circle cx="588.7" cy="317.2" r="2.0" fill="#9ebcda"/><circle cx="655.4" cy="265.9" r="2.0" fill="#8c8bc0"/><circle cx="608.1" cy="321.8" r="2.0" fill="#a8c3de"/><circle cx="612.6" cy="326.5" r="2.0" fill="#8f9cc9"/><circle cx="628.4" cy="363.6" r="2.0" fill="#9ab4d6"/><circle cx="606.7" cy="397.1" r="2.0" fill="#adc6df"/><circle cx="623.4" cy="279.4" r="2.0" fill="#a3bfdc"/><circle cx="673.3" cy="265.0" r="2.0" fill="#8c6ab0"/><circle cx="653.1" cy="263.7" r="2.0" fill="#adc6df"/><circle cx="665.3" cy="258.2" r="2.0" fill="#8c6eb3"/><circle cx="626.4" cy="284.3" r="2.0" fill="#b8cee4"/><circle cx="654.1" cy="357.6" r="2.0" fill="#8c96c6"/><circle cx="634.9" cy="288.2" r="2.0" fill="#8f9bc9"/><circle cx="623.9" cy="305.4" r="2.0" fill="#a3bfdc"/><circle cx="573.7" cy="329.6" r="2.0" fill="#b6cce3"/><circle cx="610.7" cy="394.5" r="2.0" fill="#adc6df"/><circle cx="574.9" cy="333.5" r="2.0" fill="#9ebcda"/><circle cx="608.1" cy="320.8" r="2.0" fill="#9bb5d7"/><circle cx="628.2" cy="284.8" r="2.0" fill="#9ab4d6"/><circle cx="601.6" cy="330.5" r="2.0" fill="#d9e7f1"/><circle cx="592.2" cy="295.8" r="2.0" fill="#adc7e0"/><circle cx="638.6" cy="290.1" r="2.0" fill="#a4c0dc"/><circle cx="662.7" cy="261.6" r="2.0" fill="#8c7fbb"/><circle cx="658.4" cy="297.6" r="2.0" fill="#8b5fab"/><circle cx="566.3" cy="516.7" r="2.0" fill="#b0c8e0"/><circle cx="592.0" cy="486.4" r="2.0" fill="#a6c2dd"/><circle cx="595.2" cy="502.3" r="2.0" fill="#bdd1e5"/><circle cx="575.7" cy="483.6" r="2.0" fill="#c0d3e6"/><circle cx="597.6" cy="479.9" r="2.0" fill="#a7c2dd"/><circle cx="567.8" cy="469.4" r="2.0" fill="#b8cee3"/><circle cx="608.6" cy="502.0" r="2.0" fill="#c8daea"/><circle cx="591.3" cy="512.4" r="2.0" fill="#9ab4d6"/><circle cx="681.2" cy="528.1" r="2.0" fill="#8b65ae"/><circle cx="672.3" cy="528.3" r="2.0" fill="#8c85bd"/><circle cx="601.9" cy="581.9" r="2.0" fill="#a8c3de"/><circle cx="646.0" cy="506.6" r="2.0" fill="#aec7e0"/><circle cx="600.9" cy="504.8" r="2.0" fill="#a9c4de"/><circle cx="620.0" cy="509.2" r="2.0" fill="#b2cae1"/><circle cx="556.7" cy="457.0" r="2.0" fill="#cadbeb"/><circle cx="593.1" cy="510.3" r="2.0" fill="#93a4cd"/><circle cx="598.6" cy="522.8" r="2.0" fill="#a3c0dc"/><circle cx="604.7" cy="502.7" r="2.0" fill="#a1bedb"/><circle cx="622.2" cy="515.6" r="2.0" fill="#b1c9e1"/><circle cx="614.4" cy="531.9" r="2.0" fill="#9ebcda"/><circle cx="662.6" cy="521.2" r="2.0" fill="#8c8fc2"/><circle cx="666.0" cy="527.8" r="2.0" fill="#8c6bb1"/><circle cx="593.2" cy="501.9" r="2.0" fill="#b1c9e1"/><circle cx="656.3" cy="524.7" r="2.0" fill="#99b0d4"/><circle cx="658.0" cy="532.8" r="2.0" fill="#8c86be"/><circle cx="593.8" cy="508.1" r="2.0" fill="#b2cae1"/><circle cx="578.3" cy="468.9" r="2.0" fill="#b6cce3"/><circle cx="671.6" cy="527.9" r="2.0" fill="#8c70b3"/><circle cx="584.9" cy="483.4" r="2.0" fill="#cbdceb"/><circle cx="608.7" cy="526.0" r="2.0" fill="#b7cde3"/><circle cx="631.9" cy="522.5" r="2.0" fill="#97aed2"/><circle cx="640.4" cy="517.6" r="2.0" fill="#92a2cc"/><circle cx="627.4" cy="513.3" r="2.0" fill="#a6c1dd"/><circle cx="596.1" cy="535.6" r="2.0" fill="#b2cae1"/><circle cx="587.0" cy="480.6" r="2.0" fill="#9cb9d8"/><circle cx="597.6" cy="541.3" r="2.0" fill="#afc8e0"/><circle cx="666.8" cy="539.8" r="2.0" fill="#84288c"/><circle cx="605.5" cy="446.0" r="2.0" fill="#9ab4d6"/><circle cx="564.7" cy="491.3" r="2.0" fill="#c8daea"/><circle cx="639.3" cy="534.0" r="2.0" fill="#93a5ce"/><circle cx="615.7" cy="533.7" r="2.0" fill="#c4d6e8"/><circle cx="597.2" cy="516.5" r="2.0" fill="#c6d8e9"/><circle cx="586.0" cy="484.8" r="2.0" fill="#91a0cb"/><circle cx="615.4" cy="488.5" r="2.0" fill="#97aed3"/><circle cx="567.9" cy="507.1" r="2.0" fill="#d4e3ef"/><circle cx="647.6" cy="538.0" r="2.0" fill="#8c66af"/><circle cx="590.2" cy="517.6" r="2.0" fill="#adc6df"/><circle cx="604.4" cy="517.8" r="2.0" fill="#b5cce2"/><circle cx="605.5" cy="533.7" r="2.0" fill="#b9cfe4"/><circle cx="608.1" cy="453.2" r="2.0" fill="#95a8d0"/><circle cx="596.7" cy="500.1" r="2.0" fill="#a4c0dc"/><circle cx="622.7" cy="519.6" r="2.0" fill="#a3bfdc"/><circle cx="590.4" cy="485.4" r="2.0" fill="#b8cee4"/><circle cx="640.0" cy="532.9" r="2.0" fill="#99b1d4"/><circle cx="659.6" cy="529.8" r="2.0" fill="#8c6bb1"/><circle cx="589.0" cy="510.0" r="2.0" fill="#b8cee3"/><circle cx="588.3" cy="488.5" r="2.0" fill="#8d98c7"/><circle cx="617.0" cy="497.9" r="2.0" fill="#c4d7e8"/><circle cx="563.7" cy="472.7" r="2.0" fill="#aec7e0"/><circle cx="624.9" cy="513.4" r="2.0" fill="#d6e4f0"/><circle cx="550.9" cy="453.3" r="2.0" fill="#bcd1e5"/><circle cx="651.5" cy="514.7" r="2.0" fill="#8c84bd"/><circle cx="592.8" cy="513.2" r="2.0" fill="#afc8e0"/><circle cx="649.7" cy="511.9" r="2.0" fill="#8c81bc"/><circle cx="636.1" cy="509.7" r="2.0" fill="#a8c3de"/><circle cx="605.3" cy="532.8" r="2.0" fill="#cadceb"/><circle cx="556.0" cy="475.4" r="2.0" fill="#acc6df"/><circle cx="684.5" cy="521.3" r="2.0" fill="#8b5dab"/><circle cx="579.2" cy="500.7" r="2.0" fill="#d7e5f0"/><circle cx="589.0" cy="499.0" r="2.0" fill="#a5c1dc"/><circle cx="601.1" cy="487.7" r="2.0" fill="#bdd1e5"/><circle cx="640.0" cy="521.5" r="2.0" fill="#98afd3"/><circle cx="591.8" cy="488.2" r="2.0" fill="#b2cae1"/><circle cx="656.8" cy="527.7" r="2.0" fill="#8c8fc2"/><circle cx="589.8" cy="533.0" r="2.0" fill="#95a8cf"/><circle cx="627.1" cy="530.2" r="2.0" fill="#adc7e0"/><circle cx="608.5" cy="500.7" r="2.0" fill="#a8c3dd"/><circle cx="598.4" cy="506.7" r="2.0" fill="#b5cce2"/><circle cx="662.0" cy="525.4" r="2.0" fill="#91a0cb"/><circle cx="609.3" cy="529.9" r="2.0" fill="#99b1d4"/><circle cx="596.5" cy="482.2" r="2.0" fill="#c1d4e7"/><circle cx="585.6" cy="505.0" r="2.0" fill="#9bb6d7"/><circle cx="587.7" cy="504.8" r="2.0" fill="#c2d5e7"/><circle cx="647.8" cy="529.4" r="2.0" fill="#8d99c7"/><circle cx="667.5" cy="526.2" r="2.0" fill="#8d97c7"/><circle cx="590.9" cy="518.5" r="2.0" fill="#a6c1dd"/><circle cx="591.7" cy="522.0" r="2.0" fill="#c4d7e8"/><circle cx="625.2" cy="528.9" r="2.0" fill="#c4d6e8"/><circle cx="675.5" cy="528.3" r="2.0" fill="#894ba2"/><circle cx="606.0" cy="533.1" r="2.0" fill="#c0d4e6"/><circle cx="655.6" cy="519.8" r="2.0" fill="#95a8cf"/><circle cx="604.4" cy="526.8" r="2.0" fill="#9ebbda"/><circle cx="653.1" cy="520.4" r="2.0" fill="#97acd2"/><circle cx="623.3" cy="498.4" r="2.0" fill="#b9cee4"/><circle cx="594.6" cy="487.4" r="2.0" fill="#a2bedb"/><circle cx="622.2" cy="503.8" r="2.0" fill="#b5cce2"/><circle cx="614.3" cy="535.9" r="2.0" fill="#b0c8e1"/><circle cx="664.9" cy="522.8" r="2.0" fill="#8c96c6"/><circle cx="627.1" cy="530.2" r="2.0" fill="#aac4de"/><circle cx="598.9" cy="534.0" r="2.0" fill="#aac4de"/><circle cx="686.0" cy="530.3" r="2.0" fill="#8c67af"/><circle cx="598.5" cy="495.0" r="2.0" fill="#b2cae1"/><circle cx="559.7" cy="473.4" r="2.0" fill="#abc5df"/><circle cx="611.8" cy="492.2" r="2.0" fill="#afc8e0"/><circle cx="682.3" cy="529.4" r="2.0" fill="#8c73b5"/><circle cx="634.4" cy="500.2" r="2.0" fill="#a3bfdc"/><circle cx="586.7" cy="500.2" r="2.0" fill="#c5d7e8"/><circle cx="602.9" cy="486.2" r="2.0" fill="#acc6df"/><circle cx="634.2" cy="527.0" r="2.0" fill="#a4c0dc"/><circle cx="590.2" cy="482.1" r="2.0" fill="#b4cbe2"/><circle cx="594.5" cy="530.0" r="2.0" fill="#9dbad9"/><circle cx="613.0" cy="500.6" r="2.0" fill="#b4cbe2"/><circle cx="598.8" cy="512.5" r="2.0" fill="#b4cbe2"/><circle cx="630.1" cy="498.8" r="2.0" fill="#c1d4e7"/><circle cx="607.4" cy="494.4" r="2.0" fill="#a2bfdc"/><circle cx="614.3" cy="535.4" r="2.0" fill="#bfd3e6"/><circle cx="591.8" cy="506.5" r="2.0" fill="#a0bddb"/><circle cx="609.0" cy="488.3" r="2.0" fill="#a4c0dc"/><circle cx="626.4" cy="500.9" r="2.0" fill="#9ebcda"/><circle cx="632.8" cy="532.7" r="2.0" fill="#9db9d9"/><circle cx="648.5" cy="546.4" r="2.0" fill="#88449e"/><circle cx="595.0" cy="510.1" r="2.0" fill="#ccddeb"/><circle cx="620.3" cy="495.9" r="2.0" fill="#a5c1dc"/><circle cx="587.2" cy="514.1" r="2.0" fill="#b2cae1"/><circle cx="646.3" cy="524.2" r="2.0" fill="#adc6df"/><circle cx="687.0" cy="526.9" r="2.0" fill="#8a5caa"/><circle cx="619.4" cy="529.1" r="2.0" fill="#9ab3d5"/><circle cx="588.9" cy="496.2" r="2.0" fill="#9fbcda"/><circle cx="589.9" cy="507.1" r="2.0" fill="#b8cee3"/><circle cx="599.8" cy="501.2" r="2.0" fill="#9fbdda"/><circle cx="665.9" cy="515.3" r="2.0" fill="#8c79b8"/><circle cx="648.6" cy="534.2" r="2.0" fill="#91a1cc"/><circle cx="608.7" cy="516.5" r="2.0" fill="#b6cce3"/><circle cx="566.8" cy="480.5" r="2.0" fill="#cedfed"/><circle cx="645.7" cy="534.5" r="2.0" fill="#96abd1"/><circle cx="628.9" cy="498.7" r="2.0" fill="#ccddec"/><circle cx="641.3" cy="503.5" r="2.0" fill="#99b1d4"/><circle cx="666.7" cy="513.5" r="2.0" fill="#8b65ae"/><circle cx="638.1" cy="512.8" r="2.0" fill="#96abd1"/><circle cx="629.9" cy="529.5" r="2.0" fill="#b1c9e1"/><circle cx="608.1" cy="523.4" r="2.0" fill="#adc6df"/><circle cx="574.5" cy="476.3" r="2.0" fill="#e4eff6"/><circle cx="643.1" cy="515.9" r="2.0" fill="#8e9ac8"/><circle cx="602.3" cy="486.4" r="2.0" fill="#a2bfdc"/><circle cx="595.6" cy="484.2" r="2.0" fill="#95a9d0"/><circle cx="619.9" cy="567.0" r="2.0" fill="#9db9d9"/><circle cx="631.1" cy="517.3" r="2.0" fill="#c5d7e9"/><circle cx="650.2" cy="528.9" r="2.0" fill="#8c8cc1"/><circle cx="633.0" cy="506.0" r="2.0" fill="#a9c4de"/><circle cx="620.0" cy="533.1" r="2.0" fill="#c1d4e7"/><circle cx="643.6" cy="512.9" r="2.0" fill="#a4c0dc"/><circle cx="570.9" cy="522.3" r="2.0" fill="#b6cce3"/><circle cx="593.7" cy="503.3" r="2.0" fill="#b1c9e1"/><circle cx="650.5" cy="525.5" r="2.0" fill="#91a1cc"/><circle cx="616.8" cy="536.2" r="2.0" fill="#9fbcda"/><circle cx="607.8" cy="485.1" r="2.0" fill="#abc5df"/><circle cx="616.6" cy="572.4" r="2.0" fill="#8f9cc9"/><circle cx="646.3" cy="548.8" r="2.0" fill="#8c7eba"/><circle cx="657.1" cy="512.7" r="2.0" fill="#92a2cc"/><circle cx="687.6" cy="526.2" r="2.0" fill="#8949a1"/><circle cx="606.1" cy="499.0" r="2.0" fill="#c5d8e9"/><circle cx="627.7" cy="534.7" r="2.0" fill="#acc6df"/><circle cx="571.9" cy="514.9" r="2.0" fill="#9bb6d7"/><circle cx="614.3" cy="501.5" r="2.0" fill="#bdd2e5"/><circle cx="677.3" cy="527.6" r="2.0" fill="#8b5daa"/><circle cx="607.4" cy="498.9" r="2.0" fill="#b0c8e0"/><circle cx="607.1" cy="492.1" r="2.0" fill="#99b0d4"/><circle cx="651.2" cy="513.8" r="2.0" fill="#8e9ac8"/><circle cx="655.5" cy="526.3" r="2.0" fill="#8f9cc9"/><circle cx="625.9" cy="517.2" r="2.0" fill="#9ab4d6"/><circle cx="588.5" cy="501.0" r="2.0" fill="#d4e3ef"/><circle cx="639.8" cy="561.9" r="2.0" fill="#a1bedb"/><circle cx="555.0" cy="472.5" r="2.0" fill="#b8cee4"/><circle cx="605.6" cy="536.7" r="2.0" fill="#b8cee3"/><circle cx="630.8" cy="530.7" r="2.0" fill="#a2bfdc"/><circle cx="601.5" cy="528.5" r="2.0" fill="#a2bfdb"/><circle cx="662.4" cy="518.7" r="2.0" fill="#8c8fc3"/><circle cx="647.6" cy="532.4" r="2.0" fill="#8c91c4"/><circle cx="620.2" cy="495.4" r="2.0" fill="#a5c1dd"/><circle cx="604.1" cy="456.0" r="2.0" fill="#9cb7d7"/><circle cx="659.0" cy="529.8" r="2.0" fill="#97add2"/><circle cx="606.5" cy="486.2" r="2.0" fill="#a5c1dd"/><circle cx="602.5" cy="521.6" r="2.0" fill="#9db9d9"/><circle cx="618.0" cy="534.2" r="2.0" fill="#dce9f2"/><circle cx="587.0" cy="525.2" r="2.0" fill="#d1e0ee"/><circle cx="610.8" cy="525.4" r="2.0" fill="#92a3cd"/><circle cx="612.4" cy="511.2" r="2.0" fill="#afc8e0"/><circle cx="586.0" cy="489.8" r="2.0" fill="#a1bedb"/><circle cx="602.8" cy="510.2" r="2.0" fill="#c9daea"/><circle cx="596.2" cy="510.3" r="2.0" fill="#a1bedb"/><circle cx="611.8" cy="522.9" r="2.0" fill="#cadbeb"/><circle cx="613.8" cy="501.9" r="2.0" fill="#a7c2dd"/><circle cx="610.6" cy="460.5" r="2.0" fill="#a0bddb"/><circle cx="603.1" cy="513.8" r="2.0" fill="#aec7e0"/><circle cx="595.7" cy="518.8" r="2.0" fill="#cedeed"/><circle cx="607.7" cy="530.3" r="2.0" fill="#d5e4f0"/><circle cx="567.6" cy="476.1" r="2.0" fill="#ccddec"/><circle cx="627.1" cy="521.7" r="2.0" fill="#9ebcda"/><circle cx="624.6" cy="542.6" r="2.0" fill="#a6c2dd"/><circle cx="616.4" cy="493.4" r="2.0" fill="#a2bfdc"/><circle cx="590.2" cy="485.6" r="2.0" fill="#cedeec"/><circle cx="592.3" cy="528.9" r="2.0" fill="#c5d7e8"/><circle cx="601.6" cy="448.8" r="2.0" fill="#9ab4d6"/><circle cx="600.7" cy="501.0" r="2.0" fill="#b1c9e1"/><circle cx="583.4" cy="496.5" r="2.0" fill="#c9dbea"/><circle cx="569.2" cy="529.4" r="2.0" fill="#d3e2ef"/><circle cx="605.0" cy="496.9" r="2.0" fill="#b5cce2"/><circle cx="680.4" cy="528.4" r="2.0" fill="#8a52a5"/><circle cx="556.1" cy="482.1" r="2.0" fill="#9ebbda"/><circle cx="587.5" cy="501.9" r="2.0" fill="#b6cce3"/><circle cx="637.3" cy="513.7" r="2.0" fill="#92a3cd"/><circle cx="595.0" cy="530.9" r="2.0" fill="#a8c3de"/><circle cx="614.8" cy="517.8" r="2.0" fill="#9fbcda"/><circle cx="603.2" cy="502.3" r="2.0" fill="#acc5df"/><circle cx="649.6" cy="522.2" r="2.0" fill="#909fcb"/><circle cx="671.0" cy="517.0" r="2.0" fill="#8b5daa"/><circle cx="601.7" cy="505.0" r="2.0" fill="#b4cbe2"/><circle cx="553.4" cy="467.7" r="2.0" fill="#bdd2e5"/><circle cx="620.6" cy="570.3" r="2.0" fill="#abc5df"/><circle cx="631.3" cy="509.4" r="2.0" fill="#99b2d5"/><circle cx="674.8" cy="525.4" r="2.0" fill="#93a5ce"/><circle cx="613.5" cy="521.2" r="2.0" fill="#cddeec"/><circle cx="585.6" cy="531.3" r="2.0" fill="#b1c9e1"/><circle cx="603.6" cy="530.4" r="2.0" fill="#b8cee3"/><circle cx="632.2" cy="504.6" r="2.0" fill="#b9cfe4"/><circle cx="611.3" cy="500.9" r="2.0" fill="#92a2cc"/><circle cx="638.1" cy="509.8" r="2.0" fill="#9cb7d8"/><circle cx="584.2" cy="494.2" r="2.0" fill="#cbdceb"/><circle cx="590.9" cy="486.2" r="2.0" fill="#acc6df"/><circle cx="586.2" cy="527.2" r="2.0" fill="#cbdceb"/><circle cx="603.5" cy="572.0" r="2.0" fill="#adc6df"/><circle cx="595.0" cy="482.9" r="2.0" fill="#b7cde3"/><circle cx="644.9" cy="511.3" r="2.0" fill="#9ab3d5"/><circle cx="663.5" cy="520.4" r="2.0" fill="#8c85be"/><circle cx="609.8" cy="528.3" r="2.0" fill="#b3cbe2"/><circle cx="598.6" cy="558.1" r="2.0" fill="#96abd1"/><circle cx="595.8" cy="505.1" r="2.0" fill="#a8c3de"/><circle cx="658.1" cy="535.8" r="2.0" fill="#91a1cc"/><circle cx="657.4" cy="533.7" r="2.0" fill="#97aed3"/><circle cx="679.0" cy="531.5" r="2.0" fill="#8c69b0"/><circle cx="646.0" cy="512.2" r="2.0" fill="#a0bddb"/><circle cx="637.1" cy="524.9" r="2.0" fill="#8c80bb"/><circle cx="587.0" cy="509.7" r="2.0" fill="#d2e1ee"/><circle cx="610.6" cy="492.7" r="2.0" fill="#b1c9e1"/><circle cx="588.6" cy="499.9" r="2.0" fill="#a1bedb"/><circle cx="578.7" cy="505.5" r="2.0" fill="#bfd3e6"/><circle cx="588.6" cy="499.8" r="2.0" fill="#c2d5e7"/><circle cx="584.2" cy="525.4" r="2.0" fill="#b8cee3"/><circle cx="677.1" cy="541.7" r="2.0" fill="#8c8ec2"/><circle cx="599.6" cy="500.6" r="2.0" fill="#d0dfed"/><circle cx="613.1" cy="564.5" r="2.0" fill="#d4e3ef"/><circle cx="619.1" cy="511.0" r="2.0" fill="#9ebbd9"/><circle cx="587.4" cy="512.6" r="2.0" fill="#a3bfdc"/><circle cx="587.5" cy="513.5" r="2.0" fill="#a1bedb"/><circle cx="621.8" cy="531.8" r="2.0" fill="#c5d7e8"/><circle cx="572.4" cy="477.7" r="2.0" fill="#aac4de"/><circle cx="650.9" cy="546.0" r="2.0" fill="#8c90c3"/><circle cx="642.0" cy="524.8" r="2.0" fill="#96acd2"/><circle cx="673.0" cy="520.2" r="2.0" fill="#8846a0"/><circle cx="625.0" cy="523.4" r="2.0" fill="#a7c2dd"/><circle cx="664.8" cy="524.6" r="2.0" fill="#8c94c5"/><circle cx="621.7" cy="554.0" r="2.0" fill="#a6c2dd"/><circle cx="612.4" cy="518.2" r="2.0" fill="#9db9d9"/><circle cx="612.6" cy="501.5" r="2.0" fill="#a9c4de"/><circle cx="630.4" cy="526.4" r="2.0" fill="#bacfe4"/><circle cx="633.9" cy="533.4" r="2.0" fill="#94a7cf"/><circle cx="657.6" cy="528.3" r="2.0" fill="#8c93c5"/><circle cx="609.4" cy="471.2" r="2.0" fill="#8c86be"/><circle cx="617.0" cy="496.0" r="2.0" fill="#d1e1ee"/><circle cx="620.4" cy="523.6" r="2.0" fill="#d6e5f0"/><circle cx="608.3" cy="527.8" r="2.0" fill="#9bb6d7"/><circle cx="588.5" cy="495.9" r="2.0" fill="#a6c1dd"/><circle cx="627.6" cy="508.2" r="2.0" fill="#e3eef5"/><circle cx="610.5" cy="484.9" r="2.0" fill="#adc6df"/><circle cx="625.6" cy="513.1" r="2.0" fill="#93a5ce"/><circle cx="600.2" cy="522.3" r="2.0" fill="#9ebcda"/><circle cx="593.8" cy="543.0" r="2.0" fill="#9dbad9"/><circle cx="637.1" cy="528.9" r="2.0" fill="#a8c3dd"/><circle cx="604.7" cy="511.4" r="2.0" fill="#9ebbd9"/><circle cx="606.6" cy="500.1" r="2.0" fill="#9fbdda"/><circle cx="651.7" cy="526.9" r="2.0" fill="#97add2"/><circle cx="593.6" cy="509.1" r="2.0" fill="#c0d3e6"/><circle cx="632.9" cy="505.4" r="2.0" fill="#b0c8e0"/><circle cx="618.1" cy="557.7" r="2.0" fill="#9ebbd9"/><circle cx="629.6" cy="522.4" r="2.0" fill="#bacfe4"/><circle cx="649.0" cy="534.4" r="2.0" fill="#8f9cc9"/><circle cx="596.4" cy="515.1" r="2.0" fill="#9cb7d7"/><circle cx="585.8" cy="511.0" r="2.0" fill="#b6cce3"/><circle cx="603.5" cy="510.7" r="2.0" fill="#aec7e0"/><circle cx="598.7" cy="535.3" r="2.0" fill="#98b0d4"/><circle cx="626.3" cy="496.5" r="2.0" fill="#adc7e0"/><circle cx="630.1" cy="517.4" r="2.0" fill="#cdddec"/><circle cx="586.0" cy="498.7" r="2.0" fill="#bfd3e6"/><circle cx="674.5" cy="531.6" r="2.0" fill="#8c72b5"/><circle cx="607.6" cy="500.2" r="2.0" fill="#9cb8d8"/><circle cx="581.6" cy="512.9" r="2.0" fill="#bed2e6"/><circle cx="675.3" cy="520.8" r="2.0" fill="#8951a5"/><circle cx="617.3" cy="536.2" r="2.0" fill="#b2cae1"/><circle cx="616.1" cy="505.4" r="2.0" fill="#a7c2dd"/><circle cx="619.6" cy="532.8" r="2.0" fill="#b1c9e1"/><circle cx="610.9" cy="523.6" r="2.0" fill="#c6d8e9"/><circle cx="613.0" cy="476.4" r="2.0" fill="#afc8e0"/><circle cx="678.6" cy="535.7" r="2.0" fill="#88439e"/><circle cx="621.9" cy="534.8" r="2.0" fill="#a7c2dd"/><circle cx="592.8" cy="534.3" r="2.0" fill="#9fbdda"/><circle cx="626.6" cy="527.5" r="2.0" fill="#a9c3de"/><circle cx="614.8" cy="576.6" r="2.0" fill="#a3c0dc"/><circle cx="666.9" cy="523.0" r="2.0" fill="#8b5fab"/><circle cx="667.8" cy="523.5" r="2.0" fill="#8c6ab1"/><circle cx="673.1" cy="529.3" r="2.0" fill="#99b1d4"/><circle cx="549.1" cy="486.2" r="2.0" fill="#a6c1dd"/><circle cx="612.7" cy="493.4" r="2.0" fill="#9ebcda"/><circle cx="563.9" cy="464.0" r="2.0" fill="#adc6df"/><circle cx="578.9" cy="469.5" r="2.0" fill="#d5e3ef"/><circle cx="580.4" cy="524.6" r="2.0" fill="#aec7e0"/><circle cx="545.3" cy="476.9" r="2.0" fill="#b9cee4"/><circle cx="626.8" cy="534.3" r="2.0" fill="#9fbcda"/><circle cx="612.3" cy="495.8" r="2.0" fill="#9db9d9"/><circle cx="688.8" cy="532.9" r="2.0" fill="#8c88bf"/><circle cx="585.1" cy="484.4" r="2.0" fill="#aac4de"/><circle cx="553.9" cy="446.4" r="2.0" fill="#bcd1e5"/><circle cx="594.0" cy="554.8" r="2.0" fill="#98afd3"/><circle cx="642.5" cy="516.6" r="2.0" fill="#a4c0dc"/><circle cx="608.1" cy="534.8" r="2.0" fill="#a7c2dd"/><circle cx="666.9" cy="527.6" r="2.0" fill="#8c78b7"/><circle cx="617.2" cy="493.7" r="2.0" fill="#bacfe4"/><circle cx="614.3" cy="515.3" r="2.0" fill="#b0c9e1"/><circle cx="570.8" cy="482.0" r="2.0" fill="#cfdfed"/><circle cx="626.5" cy="533.0" r="2.0" fill="#c8daea"/><circle cx="610.3" cy="492.2" r="2.0" fill="#b6cde3"/><circle cx="628.5" cy="499.6" r="2.0" fill="#9bb4d6"/><circle cx="682.0" cy="523.8" r="2.0" fill="#88419d"/><circle cx="608.9" cy="524.6" r="2.0" fill="#bacfe4"/><circle cx="585.4" cy="529.3" r="2.0" fill="#aec7e0"/><circle cx="642.3" cy="518.3" r="2.0" fill="#9ebbd9"/><circle cx="598.6" cy="507.4" r="2.0" fill="#96acd2"/><circle cx="601.9" cy="553.7" r="2.0" fill="#9ebcda"/><circle cx="586.2" cy="486.5" r="2.0" fill="#a7c2dd"/><circle cx="572.6" cy="508.7" r="2.0" fill="#b9cfe4"/><circle cx="583.0" cy="494.6" r="2.0" fill="#b4cce2"/><circle cx="605.8" cy="504.7" r="2.0" fill="#b8cee4"/><circle cx="655.6" cy="533.4" r="2.0" fill="#8c94c5"/><circle cx="658.6" cy="517.9" r="2.0" fill="#8c8ac0"/><circle cx="651.5" cy="534.0" r="2.0" fill="#919fcb"/><circle cx="646.8" cy="540.3" r="2.0" fill="#883f9c"/><circle cx="667.5" cy="523.7" r="2.0" fill="#8c80bb"/><circle cx="630.8" cy="528.9" r="2.0" fill="#aac5df"/><circle cx="673.8" cy="518.0" r="2.0" fill="#8c6bb1"/><circle cx="667.8" cy="515.1" r="2.0" fill="#8c7ab8"/><circle cx="612.6" cy="489.3" r="2.0" fill="#b3cae2"/><circle cx="584.9" cy="526.7" r="2.0" fill="#9fbdda"/><circle cx="616.7" cy="531.7" r="2.0" fill="#aec7e0"/><circle cx="666.7" cy="514.5" r="2.0" fill="#8c7bb9"/><circle cx="587.4" cy="499.5" r="2.0" fill="#c5d7e8"/><circle cx="637.4" cy="519.9" r="2.0" fill="#b3cbe2"/><circle cx="638.4" cy="550.7" r="2.0" fill="#9ab3d5"/><circle cx="627.5" cy="511.0" r="2.0" fill="#bcd1e5"/><circle cx="598.3" cy="486.4" r="2.0" fill="#9dbbd9"/><circle cx="612.8" cy="502.0" r="2.0" fill="#a6c2dd"/><circle cx="561.3" cy="475.8" r="2.0" fill="#9ab4d6"/><circle cx="613.0" cy="531.9" r="2.0" fill="#9ab4d6"/><circle cx="625.5" cy="521.5" r="2.0" fill="#a3bfdc"/><circle cx="623.5" cy="519.0" r="2.0" fill="#9dbbd9"/><circle cx="616.9" cy="515.1" r="2.0" fill="#9ebbda"/><circle cx="676.1" cy="520.0" r="2.0" fill="#8b64ae"/><circle cx="685.2" cy="527.6" r="2.0" fill="#8c76b6"/><circle cx="634.4" cy="512.0" r="2.0" fill="#8c77b7"/><circle cx="558.4" cy="468.1" r="2.0" fill="#cdddec"/><circle cx="646.8" cy="528.1" r="2.0" fill="#8e99c8"/><circle cx="564.4" cy="481.0" r="2.0" fill="#d7e5f0"/><circle cx="596.4" cy="493.4" r="2.0" fill="#b0c8e0"/><circle cx="655.1" cy="523.3" r="2.0" fill="#8c8dc2"/><circle cx="637.2" cy="510.2" r="2.0" fill="#ccddeb"/><circle cx="550.2" cy="479.5" r="2.0" fill="#9ab3d5"/><circle cx="630.3" cy="517.8" r="2.0" fill="#a3bfdc"/><circle cx="618.6" cy="516.8" r="2.0" fill="#9cb8d8"/><circle cx="627.4" cy="515.6" r="2.0" fill="#bfd3e6"/><circle cx="594.3" cy="555.5" r="2.0" fill="#909eca"/><circle cx="619.6" cy="535.7" r="2.0" fill="#a0bddb"/><circle cx="593.5" cy="504.3" r="2.0" fill="#b1c9e1"/><circle cx="642.4" cy="533.0" r="2.0" fill="#8c92c4"/><circle cx="647.6" cy="548.0" r="2.0" fill="#863192"/><circle cx="639.6" cy="522.7" r="2.0" fill="#9bb5d6"/><circle cx="586.6" cy="531.3" r="2.0" fill="#9ab4d6"/><circle cx="613.8" cy="582.3" r="2.0" fill="#9ab2d5"/><circle cx="637.3" cy="519.2" r="2.0" fill="#aac5df"/><circle cx="596.1" cy="517.8" r="2.0" fill="#abc5df"/><circle cx="579.7" cy="498.7" r="2.0" fill="#adc6df"/><circle cx="649.5" cy="529.6" r="2.0" fill="#8d99c7"/><circle cx="627.7" cy="520.4" r="2.0" fill="#a0bddb"/><circle cx="589.2" cy="533.1" r="2.0" fill="#bacfe4"/><circle cx="599.0" cy="502.7" r="2.0" fill="#bed2e6"/><circle cx="585.6" cy="479.0" r="2.0" fill="#ccddec"/><circle cx="678.2" cy="524.8" r="2.0" fill="#8c71b4"/><circle cx="592.3" cy="504.8" r="2.0" fill="#b2cae1"/><circle cx="588.7" cy="505.6" r="2.0" fill="#98afd3"/><circle cx="607.7" cy="524.2" r="2.0" fill="#c1d4e7"/><circle cx="594.7" cy="480.2" r="2.0" fill="#a6c1dd"/><circle cx="603.4" cy="506.7" r="2.0" fill="#a4c0dc"/><circle cx="617.3" cy="499.4" r="2.0" fill="#bbd0e4"/><circle cx="596.9" cy="542.1" r="2.0" fill="#bbd0e5"/><circle cx="555.1" cy="473.0" r="2.0" fill="#c0d4e6"/><circle cx="658.8" cy="513.7" r="2.0" fill="#8c80bb"/><circle cx="617.2" cy="554.0" r="2.0" fill="#9ab3d5"/><circle cx="650.5" cy="507.7" r="2.0" fill="#92a2cc"/><circle cx="549.3" cy="470.9" r="2.0" fill="#97add2"/><circle cx="663.2" cy="530.5" r="2.0" fill="#8c8cc1"/><circle cx="594.1" cy="536.6" r="2.0" fill="#b4cbe2"/><circle cx="683.5" cy="529.5" r="2.0" fill="#8b5eab"/><circle cx="609.5" cy="496.5" r="2.0" fill="#d2e1ee"/><circle cx="603.0" cy="530.2" r="2.0" fill="#c4d7e8"/><circle cx="571.1" cy="528.5" r="2.0" fill="#b3cae1"/><circle cx="608.7" cy="476.6" r="2.0" fill="#acc6df"/><circle cx="629.6" cy="527.9" r="2.0" fill="#99b2d5"/><circle cx="584.3" cy="478.3" r="2.0" fill="#a6c1dd"/><circle cx="643.8" cy="531.8" r="2.0" fill="#8d98c7"/><circle cx="550.8" cy="477.7" r="2.0" fill="#a0bddb"/><circle cx="611.8" cy="498.8" r="2.0" fill="#a6c1dd"/><circle cx="634.3" cy="513.7" r="2.0" fill="#93a4cd"/><circle cx="679.6" cy="526.2" r="2.0" fill="#894aa1"/><circle cx="612.9" cy="473.9" r="2.0" fill="#95a8cf"/><circle cx="634.9" cy="528.3" r="2.0" fill="#8e9bc8"/><circle cx="564.0" cy="468.0" r="2.0" fill="#c4d7e8"/><circle cx="618.5" cy="509.6" r="2.0" fill="#c3d6e8"/><circle cx="603.9" cy="519.8" r="2.0" fill="#a0bddb"/><circle cx="594.4" cy="479.6" r="2.0" fill="#abc5df"/><circle cx="588.5" cy="481.5" r="2.0" fill="#a7c2dd"/><circle cx="600.7" cy="523.4" r="2.0" fill="#97aed2"/><circle cx="623.1" cy="512.8" r="2.0" fill="#adc7e0"/><circle cx="607.6" cy="516.8" r="2.0" fill="#acc6df"/><circle cx="639.1" cy="505.9" r="2.0" fill="#96abd1"/><circle cx="619.2" cy="500.1" r="2.0" fill="#95a8cf"/><circle cx="624.9" cy="514.7" r="2.0" fill="#b7cde3"/><circle cx="584.7" cy="496.4" r="2.0" fill="#a5c1dd"/><circle cx="595.8" cy="569.8" r="2.0" fill="#8c70b3"/><circle cx="623.6" cy="497.2" r="2.0" fill="#dce9f2"/><circle cx="588.7" cy="565.9" r="2.0" fill="#98b0d4"/><circle cx="609.6" cy="490.9" r="2.0" fill="#afc7e0"/><circle cx="603.0" cy="469.5" r="2.0" fill="#9ebbd9"/><circle cx="589.1" cy="532.1" r="2.0" fill="#a6c2dd"/><circle cx="670.5" cy="530.9" r="2.0" fill="#8c70b3"/><circle cx="636.1" cy="531.5" r="2.0" fill="#a2bfdb"/><circle cx="604.7" cy="513.6" r="2.0" fill="#a0bddb"/><circle cx="655.6" cy="534.2" r="2.0" fill="#8f9dca"/><circle cx="595.8" cy="501.9" r="2.0" fill="#a0bddb"/><circle cx="615.1" cy="516.8" r="2.0" fill="#adc6e0"/><circle cx="665.8" cy="515.6" r="2.0" fill="#8c93c5"/><circle cx="595.6" cy="486.6" r="2.0" fill="#b0c9e1"/><circle cx="669.0" cy="519.2" r="2.0" fill="#8d98c7"/><circle cx="684.1" cy="527.4" r="2.0" fill="#8a58a8"/><circle cx="595.6" cy="526.4" r="2.0" fill="#acc6df"/><circle cx="603.0" cy="533.8" r="2.0" fill="#b1c9e1"/><circle cx="602.0" cy="560.0" r="2.0" fill="#8f9cc9"/><circle cx="663.7" cy="518.3" r="2.0" fill="#8c82bc"/><circle cx="614.1" cy="475.5" r="2.0" fill="#909fcb"/><circle cx="644.4" cy="511.4" r="2.0" fill="#98afd3"/><circle cx="584.4" cy="498.9" r="2.0" fill="#c7d9e9"/><circle cx="600.0" cy="501.8" r="2.0" fill="#b2cae1"/><circle cx="616.0" cy="502.1" r="2.0" fill="#b0c8e1"/><circle cx="681.7" cy="530.9" r="2.0" fill="#894ea3"/><circle cx="626.7" cy="544.0" r="2.0" fill="#95aad0"/><circle cx="638.2" cy="511.2" r="2.0" fill="#9ebcda"/><circle cx="670.0" cy="528.9" r="2.0" fill="#8c86be"/><circle cx="587.6" cy="529.6" r="2.0" fill="#8c90c3"/><circle cx="595.7" cy="513.9" r="2.0" fill="#9bb5d6"/><circle cx="610.8" cy="534.4" r="2.0" fill="#a5c0dc"/><circle cx="681.1" cy="530.2" r="2.0" fill="#8c76b6"/><circle cx="615.4" cy="523.4" r="2.0" fill="#b3cae2"/><circle cx="598.4" cy="531.8" r="2.0" fill="#c5d8e9"/><circle cx="640.6" cy="508.3" r="2.0" fill="#bbd0e4"/><circle cx="596.2" cy="501.8" r="2.0" fill="#95a9d0"/><circle cx="562.5" cy="477.1" r="2.0" fill="#a4c0dc"/><circle cx="624.2" cy="527.6" r="2.0" fill="#abc5df"/><circle cx="671.0" cy="522.5" r="2.0" fill="#8c7dba"/><circle cx="589.4" cy="523.9" r="2.0" fill="#aec7e0"/><circle cx="621.2" cy="528.0" r="2.0" fill="#99b2d5"/><circle cx="590.8" cy="502.6" r="2.0" fill="#a7c2dd"/><circle cx="606.6" cy="530.5" r="2.0" fill="#99b1d4"/><circle cx="600.2" cy="476.0" r="2.0" fill="#a5c1dc"/><circle cx="668.4" cy="517.6" r="2.0" fill="#8c75b6"/><circle cx="611.4" cy="526.4" r="2.0" fill="#a5c0dc"/><circle cx="589.9" cy="530.5" r="2.0" fill="#b2cae1"/><circle cx="633.3" cy="555.1" r="2.0" fill="#a7c2dd"/><circle cx="551.9" cy="474.1" r="2.0" fill="#b9cfe4"/><circle cx="657.6" cy="529.1" r="2.0" fill="#92a2cc"/><circle cx="628.2" cy="535.5" r="2.0" fill="#8c92c4"/><circle cx="599.1" cy="486.6" r="2.0" fill="#9cb8d8"/><circle cx="601.3" cy="502.6" r="2.0" fill="#b3cbe2"/><circle cx="667.3" cy="523.4" r="2.0" fill="#8c76b7"/><circle cx="613.7" cy="501.8" r="2.0" fill="#a4c0dc"/><circle cx="628.8" cy="525.8" r="2.0" fill="#b8cee3"/><circle cx="646.8" cy="531.4" r="2.0" fill="#92a3cd"/><circle cx="618.1" cy="492.7" r="2.0" fill="#adc6df"/><circle cx="613.5" cy="538.7" r="2.0" fill="#a7c2dd"/><circle cx="621.8" cy="522.0" r="2.0" fill="#a1bedb"/><circle cx="665.5" cy="530.1" r="2.0" fill="#8c8ac0"/><circle cx="639.0" cy="562.1" r="2.0" fill="#8c6bb1"/><circle cx="650.7" cy="510.6" r="2.0" fill="#a2bfdb"/><circle cx="621.5" cy="526.8" r="2.0" fill="#a6c1dd"/><circle cx="618.8" cy="502.8" r="2.0" fill="#b7cde3"/><circle cx="544.3" cy="487.7" r="2.0" fill="#aec7e0"/><circle cx="603.6" cy="517.5" r="2.0" fill="#abc5df"/><circle cx="598.9" cy="481.6" r="2.0" fill="#9dbbd9"/><circle cx="603.1" cy="504.0" r="2.0" fill="#a6c1dd"/><circle cx="682.8" cy="528.5" r="2.0" fill="#8b60ac"/><circle cx="612.4" cy="509.1" r="2.0" fill="#9bb5d6"/><circle cx="596.3" cy="495.6" r="2.0" fill="#b8cee3"/><circle cx="609.2" cy="516.5" r="2.0" fill="#cbdceb"/><circle cx="592.9" cy="522.4" r="2.0" fill="#b6cde3"/><circle cx="600.8" cy="516.4" r="2.0" fill="#9fbdda"/><circle cx="587.2" cy="508.6" r="2.0" fill="#96acd2"/><circle cx="600.0" cy="529.1" r="2.0" fill="#8c8ec2"/><circle cx="612.9" cy="529.1" r="2.0" fill="#8f9bc9"/><circle cx="606.8" cy="516.0" r="2.0" fill="#bcd1e5"/><circle cx="594.6" cy="519.4" r="2.0" fill="#c7d9e9"/><circle cx="659.5" cy="530.9" r="2.0" fill="#91a0cb"/><circle cx="626.1" cy="518.0" r="2.0" fill="#9fbcda"/><circle cx="614.6" cy="487.3" r="2.0" fill="#a6c1dd"/><circle cx="621.5" cy="515.2" r="2.0" fill="#a5c1dd"/><circle cx="620.7" cy="535.4" r="2.0" fill="#b2cae1"/><circle cx="628.1" cy="521.2" r="2.0" fill="#99b2d5"/><circle cx="556.3" cy="475.5" r="2.0" fill="#b5cce2"/><circle cx="613.3" cy="536.6" r="2.0" fill="#cbdceb"/><circle cx="620.3" cy="490.6" r="2.0" fill="#a3bfdc"/><circle cx="618.9" cy="500.1" r="2.0" fill="#a6c2dd"/><circle cx="588.3" cy="499.4" r="2.0" fill="#aec7e0"/><circle cx="618.4" cy="528.6" r="2.0" fill="#abc5df"/><circle cx="604.3" cy="536.2" r="2.0" fill="#98b0d4"/><circle cx="602.8" cy="509.1" r="2.0" fill="#9bb6d7"/><circle cx="609.3" cy="490.5" r="2.0" fill="#bfd3e6"/><circle cx="626.7" cy="503.2" r="2.0" fill="#b2cae1"/><circle cx="611.0" cy="518.8" r="2.0" fill="#a3bfdc"/><circle cx="631.9" cy="514.0" r="2.0" fill="#a6c2dd"/><circle cx="611.1" cy="532.8" r="2.0" fill="#9bb5d6"/><circle cx="623.9" cy="520.4" r="2.0" fill="#b1c9e1"/><circle cx="640.6" cy="529.3" r="2.0" fill="#8c94c5"/><circle cx="663.4" cy="543.8" r="2.0" fill="#873c99"/><circle cx="603.0" cy="447.0" r="2.0" fill="#9ab4d6"/><circle cx="594.9" cy="535.3" r="2.0" fill="#a5c1dd"/></g>
<polygon points="98.5,84.0 131.5,80.2 150.4,77.0 215.0,62.0 215.0,76.0 185.0,98.0 152.9,115.4 98.5,119.6" fill="#808080" fill-opacity="0.2"/>
<polygon points="98.7,284.3 150.0,278.3 215.0,267.0 215.0,290.0 180.0,302.0 140.0,314.0 98.7,324.2" fill="#808080" fill-opacity="0.2"/>
<polygon points="93.1,487.3 156.0,485.5 176.0,492.0 207.0,508.0 207.0,518.0 156.0,550.7 93.1,516.7" fill="#808080" fill-opacity="0.2"/>
<polygon points="574.2,107.6 604.6,94.5 637.0,79.0 643.4,76.0 664.3,62.9 695.7,45.0 695.7,61.4 664.3,101.7 643.4,119.6 631.5,128.5 604.6,143.4 574.2,156.9" fill="#808080" fill-opacity="0.2"/>
<polygon points="574.2,309.6 620.0,291.7 643.0,279.7 660.0,267.8 695.7,251.4 695.7,276.7 660.0,303.6 643.0,321.5 630.0,348.4 610.0,363.3 574.2,384.2" fill="#808080" fill-opacity="0.2"/>
<polygon points="586.4,480.6 638.0,506.0 686.0,523.0 686.0,530.0 638.0,536.2 586.4,539.0" fill="#808080" fill-opacity="0.2"/>
<polyline points="98.5,96.6 151.6,90.9 215.0,71.4" fill="none" stroke="#707070" stroke-width="1.5"/>
<polyline points="98.5,299.2 150.6,292.4 215.0,276.2" fill="none" stroke="#707070" stroke-width="1.5"/>
<polyline points="93.1,499.0 150.0,502.8 175.0,505.6 207.0,514.9" fill="none" stroke="#707070" stroke-width="1.5"/>
<polyline points="574.2,122.6 600.0,112.1 630.5,98.7 640.0,90.0 655.0,77.1 670.0,65.8 695.6,50.7" fill="none" stroke="#707070" stroke-width="1.5"/>
<polyline points="574.2,329.0 628.5,303.6 639.0,294.6 665.8,276.7 695.7,260.3" fill="none" stroke="#707070" stroke-width="1.5"/>
<polyline points="586.4,498.5 638.0,516.4 665.0,525.8 686.0,525.8" fill="none" stroke="#707070" stroke-width="1.5"/>
<line x1="245.2" y1="33" x2="245.2" y2="603" stroke="#111" stroke-width="1.3" stroke-dasharray="4.1 2.1" stroke-dashoffset="1.2"/>
<line x1="638.4" y1="33" x2="638.4" y2="603" stroke="#111" stroke-width="1.3" stroke-dasharray="4.1 2.1" stroke-dashoffset="1.2"/>
<line x1="51.6" y1="484.0" x2="313.5" y2="519.4" stroke="#e8a33c" stroke-width="1.6" stroke-dasharray="5 3"/>
<line x1="51.6" y1="499.7" x2="313.5" y2="535.2" stroke="#a3222a" stroke-width="1.6" stroke-dasharray="5 3"/>
<line x1="444.8" y1="484.0" x2="706.7" y2="519.4" stroke="#e8a33c" stroke-width="1.6" stroke-dasharray="5 3"/>
<line x1="444.8" y1="499.7" x2="706.7" y2="535.2" stroke="#a3222a" stroke-width="1.6" stroke-dasharray="5 3"/>
<text transform="translate(257.70,206.70) scale(0.8964,1)" font-size="11.06" fill="#6a6a6a" stroke="#6a6a6a" stroke-width="0.000">AGN (BPT)</text>
<text transform="translate(257.70,396.70) scale(0.8964,1)" font-size="11.06" fill="#6a6a6a" stroke="#6a6a6a" stroke-width="0.000">AGN (BPT)</text>
<text transform="translate(257.70,586.70) scale(0.8964,1)" font-size="11.06" fill="#6a6a6a" stroke="#6a6a6a" stroke-width="0.000">AGN (BPT)</text>
<text transform="translate(650.90,206.70) scale(0.8964,1)" font-size="11.06" fill="#6a6a6a" stroke="#6a6a6a" stroke-width="0.000">AGN (BPT)</text>
<text transform="translate(650.90,396.70) scale(0.8964,1)" font-size="11.06" fill="#6a6a6a" stroke="#6a6a6a" stroke-width="0.000">AGN (BPT)</text>
<text transform="translate(650.90,586.70) scale(0.8964,1)" font-size="11.06" fill="#6a6a6a" stroke="#6a6a6a" stroke-width="0.000">AGN (BPT)</text>
<line x1="80.54" y1="223.00" x2="80.54" y2="218.70" stroke="#1a1a1a" stroke-width="1.0"/>
<line x1="137.29" y1="223.00" x2="137.29" y2="218.70" stroke="#1a1a1a" stroke-width="1.0"/>
<line x1="194.04" y1="223.00" x2="194.04" y2="218.70" stroke="#1a1a1a" stroke-width="1.0"/>
<line x1="250.79" y1="223.00" x2="250.79" y2="218.70" stroke="#1a1a1a" stroke-width="1.0"/>
<line x1="307.54" y1="223.00" x2="307.54" y2="218.70" stroke="#1a1a1a" stroke-width="1.0"/>
<line x1="117.34" y1="33.00" x2="117.34" y2="37.30" stroke="#1a1a1a" stroke-width="1.0"/>
<line x1="196.27" y1="33.00" x2="196.27" y2="37.30" stroke="#1a1a1a" stroke-width="1.0"/>
<line x1="242.44" y1="33.00" x2="242.44" y2="37.30" stroke="#1a1a1a" stroke-width="1.0"/>
<line x1="275.20" y1="33.00" x2="275.20" y2="37.30" stroke="#1a1a1a" stroke-width="1.0"/>
<line x1="51.60" y1="223.00" x2="55.90" y2="223.00" stroke="#1a1a1a" stroke-width="1.0"/>
<line x1="51.60" y1="205.68" x2="54.20" y2="205.68" stroke="#1a1a1a" stroke-width="0.65"/>
<line x1="51.60" y1="195.54" x2="54.20" y2="195.54" stroke="#1a1a1a" stroke-width="0.65"/>
<line x1="51.60" y1="188.35" x2="54.20" y2="188.35" stroke="#1a1a1a" stroke-width="0.65"/>
<line x1="51.60" y1="182.77" x2="54.20" y2="182.77" stroke="#1a1a1a" stroke-width="0.65"/>
<line x1="51.60" y1="178.22" x2="54.20" y2="178.22" stroke="#1a1a1a" stroke-width="0.65"/>
<line x1="51.60" y1="174.36" x2="54.20" y2="174.36" stroke="#1a1a1a" stroke-width="0.65"/>
<line x1="51.60" y1="171.03" x2="54.20" y2="171.03" stroke="#1a1a1a" stroke-width="0.65"/>
<line x1="51.60" y1="168.08" x2="54.20" y2="168.08" stroke="#1a1a1a" stroke-width="0.65"/>
<line x1="51.60" y1="165.45" x2="55.90" y2="165.45" stroke="#1a1a1a" stroke-width="1.0"/>
<line x1="51.60" y1="148.13" x2="54.20" y2="148.13" stroke="#1a1a1a" stroke-width="0.65"/>
<line x1="51.60" y1="137.99" x2="54.20" y2="137.99" stroke="#1a1a1a" stroke-width="0.65"/>
<line x1="51.60" y1="130.80" x2="54.20" y2="130.80" stroke="#1a1a1a" stroke-width="0.65"/>
<line x1="51.60" y1="125.22" x2="54.20" y2="125.22" stroke="#1a1a1a" stroke-width="0.65"/>
<line x1="51.60" y1="120.67" x2="54.20" y2="120.67" stroke="#1a1a1a" stroke-width="0.65"/>
<line x1="51.60" y1="116.81" x2="54.20" y2="116.81" stroke="#1a1a1a" stroke-width="0.65"/>
<line x1="51.60" y1="113.48" x2="54.20" y2="113.48" stroke="#1a1a1a" stroke-width="0.65"/>
<line x1="51.60" y1="110.53" x2="54.20" y2="110.53" stroke="#1a1a1a" stroke-width="0.65"/>
<line x1="51.60" y1="107.90" x2="55.90" y2="107.90" stroke="#1a1a1a" stroke-width="1.0"/>
<line x1="51.60" y1="90.58" x2="54.20" y2="90.58" stroke="#1a1a1a" stroke-width="0.65"/>
<line x1="51.60" y1="80.44" x2="54.20" y2="80.44" stroke="#1a1a1a" stroke-width="0.65"/>
<line x1="51.60" y1="73.25" x2="54.20" y2="73.25" stroke="#1a1a1a" stroke-width="0.65"/>
<line x1="51.60" y1="67.67" x2="54.20" y2="67.67" stroke="#1a1a1a" stroke-width="0.65"/>
<line x1="51.60" y1="63.12" x2="54.20" y2="63.12" stroke="#1a1a1a" stroke-width="0.65"/>
<line x1="51.60" y1="59.26" x2="54.20" y2="59.26" stroke="#1a1a1a" stroke-width="0.65"/>
<line x1="51.60" y1="55.93" x2="54.20" y2="55.93" stroke="#1a1a1a" stroke-width="0.65"/>
<line x1="51.60" y1="52.98" x2="54.20" y2="52.98" stroke="#1a1a1a" stroke-width="0.65"/>
<line x1="51.60" y1="50.35" x2="55.90" y2="50.35" stroke="#1a1a1a" stroke-width="1.0"/>
<line x1="51.60" y1="33.03" x2="54.20" y2="33.03" stroke="#1a1a1a" stroke-width="0.65"/>
<line x1="313.50" y1="222.40" x2="310.90" y2="222.40" stroke="#1a1a1a" stroke-width="0.65"/>
<line x1="313.50" y1="216.82" x2="310.90" y2="216.82" stroke="#1a1a1a" stroke-width="0.65"/>
<line x1="313.50" y1="212.27" x2="310.90" y2="212.27" stroke="#1a1a1a" stroke-width="0.65"/>
<line x1="313.50" y1="208.41" x2="310.90" y2="208.41" stroke="#1a1a1a" stroke-width="0.65"/>
<line x1="313.50" y1="205.08" x2="310.90" y2="205.08" stroke="#1a1a1a" stroke-width="0.65"/>
<line x1="313.50" y1="202.13" x2="310.90" y2="202.13" stroke="#1a1a1a" stroke-width="0.65"/>
<line x1="313.50" y1="199.50" x2="309.20" y2="199.50" stroke="#1a1a1a" stroke-width="1.0"/>
<line x1="313.50" y1="182.18" x2="310.90" y2="182.18" stroke="#1a1a1a" stroke-width="0.65"/>
<line x1="313.50" y1="172.04" x2="310.90" y2="172.04" stroke="#1a1a1a" stroke-width="0.65"/>
<line x1="313.50" y1="164.85" x2="310.90" y2="164.85" stroke="#1a1a1a" stroke-width="0.65"/>
<line x1="313.50" y1="159.27" x2="310.90" y2="159.27" stroke="#1a1a1a" stroke-width="0.65"/>
<line x1="313.50" y1="154.72" x2="310.90" y2="154.72" stroke="#1a1a1a" stroke-width="0.65"/>
<line x1="313.50" y1="150.86" x2="310.90" y2="150.86" stroke="#1a1a1a" stroke-width="0.65"/>
<line x1="313.50" y1="147.53" x2="310.90" y2="147.53" stroke="#1a1a1a" stroke-width="0.65"/>
<line x1="313.50" y1="144.58" x2="310.90" y2="144.58" stroke="#1a1a1a" stroke-width="0.65"/>
<line x1="313.50" y1="141.95" x2="309.20" y2="141.95" stroke="#1a1a1a" stroke-width="1.0"/>
<line x1="313.50" y1="124.63" x2="310.90" y2="124.63" stroke="#1a1a1a" stroke-width="0.65"/>
<line x1="313.50" y1="114.49" x2="310.90" y2="114.49" stroke="#1a1a1a" stroke-width="0.65"/>
<line x1="313.50" y1="107.30" x2="310.90" y2="107.30" stroke="#1a1a1a" stroke-width="0.65"/>
<line x1="313.50" y1="101.72" x2="310.90" y2="101.72" stroke="#1a1a1a" stroke-width="0.65"/>
<line x1="313.50" y1="97.17" x2="310.90" y2="97.17" stroke="#1a1a1a" stroke-width="0.65"/>
<line x1="313.50" y1="93.31" x2="310.90" y2="93.31" stroke="#1a1a1a" stroke-width="0.65"/>
<line x1="313.50" y1="89.98" x2="310.90" y2="89.98" stroke="#1a1a1a" stroke-width="0.65"/>
<line x1="313.50" y1="87.03" x2="310.90" y2="87.03" stroke="#1a1a1a" stroke-width="0.65"/>
<line x1="313.50" y1="84.40" x2="309.20" y2="84.40" stroke="#1a1a1a" stroke-width="1.0"/>
<line x1="313.50" y1="67.08" x2="310.90" y2="67.08" stroke="#1a1a1a" stroke-width="0.65"/>
<line x1="313.50" y1="56.94" x2="310.90" y2="56.94" stroke="#1a1a1a" stroke-width="0.65"/>
<line x1="313.50" y1="49.75" x2="310.90" y2="49.75" stroke="#1a1a1a" stroke-width="0.65"/>
<line x1="313.50" y1="44.17" x2="310.90" y2="44.17" stroke="#1a1a1a" stroke-width="0.65"/>
<line x1="313.50" y1="39.62" x2="310.90" y2="39.62" stroke="#1a1a1a" stroke-width="0.65"/>
<line x1="313.50" y1="35.76" x2="310.90" y2="35.76" stroke="#1a1a1a" stroke-width="0.65"/>
<line x1="80.54" y1="413.00" x2="80.54" y2="408.70" stroke="#1a1a1a" stroke-width="1.0"/>
<line x1="137.29" y1="413.00" x2="137.29" y2="408.70" stroke="#1a1a1a" stroke-width="1.0"/>
<line x1="194.04" y1="413.00" x2="194.04" y2="408.70" stroke="#1a1a1a" stroke-width="1.0"/>
<line x1="250.79" y1="413.00" x2="250.79" y2="408.70" stroke="#1a1a1a" stroke-width="1.0"/>
<line x1="307.54" y1="413.00" x2="307.54" y2="408.70" stroke="#1a1a1a" stroke-width="1.0"/>
<line x1="117.34" y1="223.00" x2="117.34" y2="227.30" stroke="#1a1a1a" stroke-width="1.0"/>
<line x1="196.27" y1="223.00" x2="196.27" y2="227.30" stroke="#1a1a1a" stroke-width="1.0"/>
<line x1="242.44" y1="223.00" x2="242.44" y2="227.30" stroke="#1a1a1a" stroke-width="1.0"/>
<line x1="275.20" y1="223.00" x2="275.20" y2="227.30" stroke="#1a1a1a" stroke-width="1.0"/>
<line x1="51.60" y1="413.00" x2="55.90" y2="413.00" stroke="#1a1a1a" stroke-width="1.0"/>
<line x1="51.60" y1="389.91" x2="54.20" y2="389.91" stroke="#1a1a1a" stroke-width="0.65"/>
<line x1="51.60" y1="376.40" x2="54.20" y2="376.40" stroke="#1a1a1a" stroke-width="0.65"/>
<line x1="51.60" y1="366.82" x2="54.20" y2="366.82" stroke="#1a1a1a" stroke-width="0.65"/>
<line x1="51.60" y1="359.39" x2="54.20" y2="359.39" stroke="#1a1a1a" stroke-width="0.65"/>
<line x1="51.60" y1="353.32" x2="54.20" y2="353.32" stroke="#1a1a1a" stroke-width="0.65"/>
<line x1="51.60" y1="348.18" x2="54.20" y2="348.18" stroke="#1a1a1a" stroke-width="0.65"/>
<line x1="51.60" y1="343.73" x2="54.20" y2="343.73" stroke="#1a1a1a" stroke-width="0.65"/>
<line x1="51.60" y1="339.81" x2="54.20" y2="339.81" stroke="#1a1a1a" stroke-width="0.65"/>
<line x1="51.60" y1="336.30" x2="55.90" y2="336.30" stroke="#1a1a1a" stroke-width="1.0"/>
<line x1="51.60" y1="313.21" x2="54.20" y2="313.21" stroke="#1a1a1a" stroke-width="0.65"/>
<line x1="51.60" y1="299.70" x2="54.20" y2="299.70" stroke="#1a1a1a" stroke-width="0.65"/>
<line x1="51.60" y1="290.12" x2="54.20" y2="290.12" stroke="#1a1a1a" stroke-width="0.65"/>
<line x1="51.60" y1="282.69" x2="54.20" y2="282.69" stroke="#1a1a1a" stroke-width="0.65"/>
<line x1="51.60" y1="276.62" x2="54.20" y2="276.62" stroke="#1a1a1a" stroke-width="0.65"/>
<line x1="51.60" y1="271.48" x2="54.20" y2="271.48" stroke="#1a1a1a" stroke-width="0.65"/>
<line x1="51.60" y1="267.03" x2="54.20" y2="267.03" stroke="#1a1a1a" stroke-width="0.65"/>
<line x1="51.60" y1="263.11" x2="54.20" y2="263.11" stroke="#1a1a1a" stroke-width="0.65"/>
<line x1="51.60" y1="259.60" x2="55.90" y2="259.60" stroke="#1a1a1a" stroke-width="1.0"/>
<line x1="51.60" y1="236.51" x2="54.20" y2="236.51" stroke="#1a1a1a" stroke-width="0.65"/>
<line x1="51.60" y1="223.00" x2="54.20" y2="223.00" stroke="#1a1a1a" stroke-width="0.65"/>
<line x1="313.50" y1="404.71" x2="310.90" y2="404.71" stroke="#1a1a1a" stroke-width="0.65"/>
<line x1="313.50" y1="391.20" x2="310.90" y2="391.20" stroke="#1a1a1a" stroke-width="0.65"/>
<line x1="313.50" y1="381.62" x2="310.90" y2="381.62" stroke="#1a1a1a" stroke-width="0.65"/>
<line x1="313.50" y1="374.19" x2="310.90" y2="374.19" stroke="#1a1a1a" stroke-width="0.65"/>
<line x1="313.50" y1="368.12" x2="310.90" y2="368.12" stroke="#1a1a1a" stroke-width="0.65"/>
<line x1="313.50" y1="362.98" x2="310.90" y2="362.98" stroke="#1a1a1a" stroke-width="0.65"/>
<line x1="313.50" y1="358.53" x2="310.90" y2="358.53" stroke="#1a1a1a" stroke-width="0.65"/>
<line x1="313.50" y1="354.61" x2="310.90" y2="354.61" stroke="#1a1a1a" stroke-width="0.65"/>
<line x1="313.50" y1="351.10" x2="309.20" y2="351.10" stroke="#1a1a1a" stroke-width="1.0"/>
<line x1="313.50" y1="328.01" x2="310.90" y2="328.01" stroke="#1a1a1a" stroke-width="0.65"/>
<line x1="313.50" y1="314.50" x2="310.90" y2="314.50" stroke="#1a1a1a" stroke-width="0.65"/>
<line x1="313.50" y1="304.92" x2="310.90" y2="304.92" stroke="#1a1a1a" stroke-width="0.65"/>
<line x1="313.50" y1="297.49" x2="310.90" y2="297.49" stroke="#1a1a1a" stroke-width="0.65"/>
<line x1="313.50" y1="291.42" x2="310.90" y2="291.42" stroke="#1a1a1a" stroke-width="0.65"/>
<line x1="313.50" y1="286.28" x2="310.90" y2="286.28" stroke="#1a1a1a" stroke-width="0.65"/>
<line x1="313.50" y1="281.83" x2="310.90" y2="281.83" stroke="#1a1a1a" stroke-width="0.65"/>
<line x1="313.50" y1="277.91" x2="310.90" y2="277.91" stroke="#1a1a1a" stroke-width="0.65"/>
<line x1="313.50" y1="274.40" x2="309.20" y2="274.40" stroke="#1a1a1a" stroke-width="1.0"/>
<line x1="313.50" y1="251.31" x2="310.90" y2="251.31" stroke="#1a1a1a" stroke-width="0.65"/>
<line x1="313.50" y1="237.80" x2="310.90" y2="237.80" stroke="#1a1a1a" stroke-width="0.65"/>
<line x1="313.50" y1="228.22" x2="310.90" y2="228.22" stroke="#1a1a1a" stroke-width="0.65"/>
<line x1="80.54" y1="603.00" x2="80.54" y2="598.70" stroke="#1a1a1a" stroke-width="1.0"/>
<line x1="137.29" y1="603.00" x2="137.29" y2="598.70" stroke="#1a1a1a" stroke-width="1.0"/>
<line x1="194.04" y1="603.00" x2="194.04" y2="598.70" stroke="#1a1a1a" stroke-width="1.0"/>
<line x1="250.79" y1="603.00" x2="250.79" y2="598.70" stroke="#1a1a1a" stroke-width="1.0"/>
<line x1="307.54" y1="603.00" x2="307.54" y2="598.70" stroke="#1a1a1a" stroke-width="1.0"/>
<line x1="117.34" y1="413.00" x2="117.34" y2="417.30" stroke="#1a1a1a" stroke-width="1.0"/>
<line x1="196.27" y1="413.00" x2="196.27" y2="417.30" stroke="#1a1a1a" stroke-width="1.0"/>
<line x1="242.44" y1="413.00" x2="242.44" y2="417.30" stroke="#1a1a1a" stroke-width="1.0"/>
<line x1="275.20" y1="413.00" x2="275.20" y2="417.30" stroke="#1a1a1a" stroke-width="1.0"/>
<line x1="51.60" y1="603.00" x2="55.90" y2="603.00" stroke="#1a1a1a" stroke-width="1.0"/>
<line x1="51.60" y1="579.90" x2="54.20" y2="579.90" stroke="#1a1a1a" stroke-width="0.65"/>
<line x1="51.60" y1="566.38" x2="54.20" y2="566.38" stroke="#1a1a1a" stroke-width="0.65"/>
<line x1="51.60" y1="556.79" x2="54.20" y2="556.79" stroke="#1a1a1a" stroke-width="0.65"/>
<line x1="51.60" y1="549.35" x2="54.20" y2="549.35" stroke="#1a1a1a" stroke-width="0.65"/>
<line x1="51.60" y1="543.28" x2="54.20" y2="543.28" stroke="#1a1a1a" stroke-width="0.65"/>
<line x1="51.60" y1="538.14" x2="54.20" y2="538.14" stroke="#1a1a1a" stroke-width="0.65"/>
<line x1="51.60" y1="533.69" x2="54.20" y2="533.69" stroke="#1a1a1a" stroke-width="0.65"/>
<line x1="51.60" y1="529.76" x2="54.20" y2="529.76" stroke="#1a1a1a" stroke-width="0.65"/>
<line x1="51.60" y1="526.25" x2="55.90" y2="526.25" stroke="#1a1a1a" stroke-width="1.0"/>
<line x1="51.60" y1="503.15" x2="54.20" y2="503.15" stroke="#1a1a1a" stroke-width="0.65"/>
<line x1="51.60" y1="489.63" x2="54.20" y2="489.63" stroke="#1a1a1a" stroke-width="0.65"/>
<line x1="51.60" y1="480.04" x2="54.20" y2="480.04" stroke="#1a1a1a" stroke-width="0.65"/>
<line x1="51.60" y1="472.60" x2="54.20" y2="472.60" stroke="#1a1a1a" stroke-width="0.65"/>
<line x1="51.60" y1="466.53" x2="54.20" y2="466.53" stroke="#1a1a1a" stroke-width="0.65"/>
<line x1="51.60" y1="461.39" x2="54.20" y2="461.39" stroke="#1a1a1a" stroke-width="0.65"/>
<line x1="51.60" y1="456.94" x2="54.20" y2="456.94" stroke="#1a1a1a" stroke-width="0.65"/>
<line x1="51.60" y1="453.01" x2="54.20" y2="453.01" stroke="#1a1a1a" stroke-width="0.65"/>
<line x1="51.60" y1="449.50" x2="55.90" y2="449.50" stroke="#1a1a1a" stroke-width="1.0"/>
<line x1="51.60" y1="426.40" x2="54.20" y2="426.40" stroke="#1a1a1a" stroke-width="0.65"/>
<line x1="313.50" y1="602.59" x2="310.90" y2="602.59" stroke="#1a1a1a" stroke-width="0.65"/>
<line x1="313.50" y1="595.15" x2="310.90" y2="595.15" stroke="#1a1a1a" stroke-width="0.65"/>
<line x1="313.50" y1="589.08" x2="310.90" y2="589.08" stroke="#1a1a1a" stroke-width="0.65"/>
<line x1="313.50" y1="583.94" x2="310.90" y2="583.94" stroke="#1a1a1a" stroke-width="0.65"/>
<line x1="313.50" y1="579.49" x2="310.90" y2="579.49" stroke="#1a1a1a" stroke-width="0.65"/>
<line x1="313.50" y1="575.56" x2="310.90" y2="575.56" stroke="#1a1a1a" stroke-width="0.65"/>
<line x1="313.50" y1="572.05" x2="309.20" y2="572.05" stroke="#1a1a1a" stroke-width="1.0"/>
<line x1="313.50" y1="548.95" x2="310.90" y2="548.95" stroke="#1a1a1a" stroke-width="0.65"/>
<line x1="313.50" y1="535.43" x2="310.90" y2="535.43" stroke="#1a1a1a" stroke-width="0.65"/>
<line x1="313.50" y1="525.84" x2="310.90" y2="525.84" stroke="#1a1a1a" stroke-width="0.65"/>
<line x1="313.50" y1="518.40" x2="310.90" y2="518.40" stroke="#1a1a1a" stroke-width="0.65"/>
<line x1="313.50" y1="512.33" x2="310.90" y2="512.33" stroke="#1a1a1a" stroke-width="0.65"/>
<line x1="313.50" y1="507.19" x2="310.90" y2="507.19" stroke="#1a1a1a" stroke-width="0.65"/>
<line x1="313.50" y1="502.74" x2="310.90" y2="502.74" stroke="#1a1a1a" stroke-width="0.65"/>
<line x1="313.50" y1="498.81" x2="310.90" y2="498.81" stroke="#1a1a1a" stroke-width="0.65"/>
<line x1="313.50" y1="495.30" x2="309.20" y2="495.30" stroke="#1a1a1a" stroke-width="1.0"/>
<line x1="313.50" y1="472.20" x2="310.90" y2="472.20" stroke="#1a1a1a" stroke-width="0.65"/>
<line x1="313.50" y1="458.68" x2="310.90" y2="458.68" stroke="#1a1a1a" stroke-width="0.65"/>
<line x1="313.50" y1="449.09" x2="310.90" y2="449.09" stroke="#1a1a1a" stroke-width="0.65"/>
<line x1="313.50" y1="441.65" x2="310.90" y2="441.65" stroke="#1a1a1a" stroke-width="0.65"/>
<line x1="313.50" y1="435.58" x2="310.90" y2="435.58" stroke="#1a1a1a" stroke-width="0.65"/>
<line x1="313.50" y1="430.44" x2="310.90" y2="430.44" stroke="#1a1a1a" stroke-width="0.65"/>
<line x1="313.50" y1="425.99" x2="310.90" y2="425.99" stroke="#1a1a1a" stroke-width="0.65"/>
<line x1="313.50" y1="422.06" x2="310.90" y2="422.06" stroke="#1a1a1a" stroke-width="0.65"/>
<line x1="313.50" y1="418.55" x2="309.20" y2="418.55" stroke="#1a1a1a" stroke-width="1.0"/>
<rect x="51.6" y="33.0" width="261.9" height="190.0" fill="none" stroke="#1a1a1a" stroke-width="1.5"/>
<rect x="51.6" y="223.0" width="261.9" height="190.0" fill="none" stroke="#1a1a1a" stroke-width="1.5"/>
<rect x="51.6" y="413.0" width="261.9" height="190.0" fill="none" stroke="#1a1a1a" stroke-width="1.5"/>
<line x1="473.74" y1="223.00" x2="473.74" y2="218.70" stroke="#1a1a1a" stroke-width="1.0"/>
<line x1="530.49" y1="223.00" x2="530.49" y2="218.70" stroke="#1a1a1a" stroke-width="1.0"/>
<line x1="587.24" y1="223.00" x2="587.24" y2="218.70" stroke="#1a1a1a" stroke-width="1.0"/>
<line x1="643.99" y1="223.00" x2="643.99" y2="218.70" stroke="#1a1a1a" stroke-width="1.0"/>
<line x1="700.74" y1="223.00" x2="700.74" y2="218.70" stroke="#1a1a1a" stroke-width="1.0"/>
<line x1="510.54" y1="33.00" x2="510.54" y2="37.30" stroke="#1a1a1a" stroke-width="1.0"/>
<line x1="589.47" y1="33.00" x2="589.47" y2="37.30" stroke="#1a1a1a" stroke-width="1.0"/>
<line x1="635.64" y1="33.00" x2="635.64" y2="37.30" stroke="#1a1a1a" stroke-width="1.0"/>
<line x1="668.40" y1="33.00" x2="668.40" y2="37.30" stroke="#1a1a1a" stroke-width="1.0"/>
<line x1="444.80" y1="223.00" x2="449.10" y2="223.00" stroke="#1a1a1a" stroke-width="1.0"/>
<line x1="444.80" y1="205.68" x2="447.40" y2="205.68" stroke="#1a1a1a" stroke-width="0.65"/>
<line x1="444.80" y1="195.54" x2="447.40" y2="195.54" stroke="#1a1a1a" stroke-width="0.65"/>
<line x1="444.80" y1="188.35" x2="447.40" y2="188.35" stroke="#1a1a1a" stroke-width="0.65"/>
<line x1="444.80" y1="182.77" x2="447.40" y2="182.77" stroke="#1a1a1a" stroke-width="0.65"/>
<line x1="444.80" y1="178.22" x2="447.40" y2="178.22" stroke="#1a1a1a" stroke-width="0.65"/>
<line x1="444.80" y1="174.36" x2="447.40" y2="174.36" stroke="#1a1a1a" stroke-width="0.65"/>
<line x1="444.80" y1="171.03" x2="447.40" y2="171.03" stroke="#1a1a1a" stroke-width="0.65"/>
<line x1="444.80" y1="168.08" x2="447.40" y2="168.08" stroke="#1a1a1a" stroke-width="0.65"/>
<line x1="444.80" y1="165.45" x2="449.10" y2="165.45" stroke="#1a1a1a" stroke-width="1.0"/>
<line x1="444.80" y1="148.13" x2="447.40" y2="148.13" stroke="#1a1a1a" stroke-width="0.65"/>
<line x1="444.80" y1="137.99" x2="447.40" y2="137.99" stroke="#1a1a1a" stroke-width="0.65"/>
<line x1="444.80" y1="130.80" x2="447.40" y2="130.80" stroke="#1a1a1a" stroke-width="0.65"/>
<line x1="444.80" y1="125.22" x2="447.40" y2="125.22" stroke="#1a1a1a" stroke-width="0.65"/>
<line x1="444.80" y1="120.67" x2="447.40" y2="120.67" stroke="#1a1a1a" stroke-width="0.65"/>
<line x1="444.80" y1="116.81" x2="447.40" y2="116.81" stroke="#1a1a1a" stroke-width="0.65"/>
<line x1="444.80" y1="113.48" x2="447.40" y2="113.48" stroke="#1a1a1a" stroke-width="0.65"/>
<line x1="444.80" y1="110.53" x2="447.40" y2="110.53" stroke="#1a1a1a" stroke-width="0.65"/>
<line x1="444.80" y1="107.90" x2="449.10" y2="107.90" stroke="#1a1a1a" stroke-width="1.0"/>
<line x1="444.80" y1="90.58" x2="447.40" y2="90.58" stroke="#1a1a1a" stroke-width="0.65"/>
<line x1="444.80" y1="80.44" x2="447.40" y2="80.44" stroke="#1a1a1a" stroke-width="0.65"/>
<line x1="444.80" y1="73.25" x2="447.40" y2="73.25" stroke="#1a1a1a" stroke-width="0.65"/>
<line x1="444.80" y1="67.67" x2="447.40" y2="67.67" stroke="#1a1a1a" stroke-width="0.65"/>
<line x1="444.80" y1="63.12" x2="447.40" y2="63.12" stroke="#1a1a1a" stroke-width="0.65"/>
<line x1="444.80" y1="59.26" x2="447.40" y2="59.26" stroke="#1a1a1a" stroke-width="0.65"/>
<line x1="444.80" y1="55.93" x2="447.40" y2="55.93" stroke="#1a1a1a" stroke-width="0.65"/>
<line x1="444.80" y1="52.98" x2="447.40" y2="52.98" stroke="#1a1a1a" stroke-width="0.65"/>
<line x1="444.80" y1="50.35" x2="449.10" y2="50.35" stroke="#1a1a1a" stroke-width="1.0"/>
<line x1="444.80" y1="33.03" x2="447.40" y2="33.03" stroke="#1a1a1a" stroke-width="0.65"/>
<line x1="706.70" y1="220.27" x2="704.10" y2="220.27" stroke="#1a1a1a" stroke-width="0.65"/>
<line x1="706.70" y1="216.41" x2="704.10" y2="216.41" stroke="#1a1a1a" stroke-width="0.65"/>
<line x1="706.70" y1="213.08" x2="704.10" y2="213.08" stroke="#1a1a1a" stroke-width="0.65"/>
<line x1="706.70" y1="210.13" x2="704.10" y2="210.13" stroke="#1a1a1a" stroke-width="0.65"/>
<line x1="706.70" y1="207.50" x2="702.40" y2="207.50" stroke="#1a1a1a" stroke-width="1.0"/>
<line x1="706.70" y1="190.18" x2="704.10" y2="190.18" stroke="#1a1a1a" stroke-width="0.65"/>
<line x1="706.70" y1="180.04" x2="704.10" y2="180.04" stroke="#1a1a1a" stroke-width="0.65"/>
<line x1="706.70" y1="172.85" x2="704.10" y2="172.85" stroke="#1a1a1a" stroke-width="0.65"/>
<line x1="706.70" y1="167.27" x2="704.10" y2="167.27" stroke="#1a1a1a" stroke-width="0.65"/>
<line x1="706.70" y1="162.72" x2="704.10" y2="162.72" stroke="#1a1a1a" stroke-width="0.65"/>
<line x1="706.70" y1="158.86" x2="704.10" y2="158.86" stroke="#1a1a1a" stroke-width="0.65"/>
<line x1="706.70" y1="155.53" x2="704.10" y2="155.53" stroke="#1a1a1a" stroke-width="0.65"/>
<line x1="706.70" y1="152.58" x2="704.10" y2="152.58" stroke="#1a1a1a" stroke-width="0.65"/>
<line x1="706.70" y1="149.95" x2="702.40" y2="149.95" stroke="#1a1a1a" stroke-width="1.0"/>
<line x1="706.70" y1="132.63" x2="704.10" y2="132.63" stroke="#1a1a1a" stroke-width="0.65"/>
<line x1="706.70" y1="122.49" x2="704.10" y2="122.49" stroke="#1a1a1a" stroke-width="0.65"/>
<line x1="706.70" y1="115.30" x2="704.10" y2="115.30" stroke="#1a1a1a" stroke-width="0.65"/>
<line x1="706.70" y1="109.72" x2="704.10" y2="109.72" stroke="#1a1a1a" stroke-width="0.65"/>
<line x1="706.70" y1="105.17" x2="704.10" y2="105.17" stroke="#1a1a1a" stroke-width="0.65"/>
<line x1="706.70" y1="101.31" x2="704.10" y2="101.31" stroke="#1a1a1a" stroke-width="0.65"/>
<line x1="706.70" y1="97.98" x2="704.10" y2="97.98" stroke="#1a1a1a" stroke-width="0.65"/>
<line x1="706.70" y1="95.03" x2="704.10" y2="95.03" stroke="#1a1a1a" stroke-width="0.65"/>
<line x1="706.70" y1="92.40" x2="702.40" y2="92.40" stroke="#1a1a1a" stroke-width="1.0"/>
<line x1="706.70" y1="75.08" x2="704.10" y2="75.08" stroke="#1a1a1a" stroke-width="0.65"/>
<line x1="706.70" y1="64.94" x2="704.10" y2="64.94" stroke="#1a1a1a" stroke-width="0.65"/>
<line x1="706.70" y1="57.75" x2="704.10" y2="57.75" stroke="#1a1a1a" stroke-width="0.65"/>
<line x1="706.70" y1="52.17" x2="704.10" y2="52.17" stroke="#1a1a1a" stroke-width="0.65"/>
<line x1="706.70" y1="47.62" x2="704.10" y2="47.62" stroke="#1a1a1a" stroke-width="0.65"/>
<line x1="706.70" y1="43.76" x2="704.10" y2="43.76" stroke="#1a1a1a" stroke-width="0.65"/>
<line x1="706.70" y1="40.43" x2="704.10" y2="40.43" stroke="#1a1a1a" stroke-width="0.65"/>
<line x1="706.70" y1="37.48" x2="704.10" y2="37.48" stroke="#1a1a1a" stroke-width="0.65"/>
<line x1="706.70" y1="34.85" x2="702.40" y2="34.85" stroke="#1a1a1a" stroke-width="1.0"/>
<line x1="473.74" y1="413.00" x2="473.74" y2="408.70" stroke="#1a1a1a" stroke-width="1.0"/>
<line x1="530.49" y1="413.00" x2="530.49" y2="408.70" stroke="#1a1a1a" stroke-width="1.0"/>
<line x1="587.24" y1="413.00" x2="587.24" y2="408.70" stroke="#1a1a1a" stroke-width="1.0"/>
<line x1="643.99" y1="413.00" x2="643.99" y2="408.70" stroke="#1a1a1a" stroke-width="1.0"/>
<line x1="700.74" y1="413.00" x2="700.74" y2="408.70" stroke="#1a1a1a" stroke-width="1.0"/>
<line x1="510.54" y1="223.00" x2="510.54" y2="227.30" stroke="#1a1a1a" stroke-width="1.0"/>
<line x1="589.47" y1="223.00" x2="589.47" y2="227.30" stroke="#1a1a1a" stroke-width="1.0"/>
<line x1="635.64" y1="223.00" x2="635.64" y2="227.30" stroke="#1a1a1a" stroke-width="1.0"/>
<line x1="668.40" y1="223.00" x2="668.40" y2="227.30" stroke="#1a1a1a" stroke-width="1.0"/>
<line x1="444.80" y1="413.00" x2="449.10" y2="413.00" stroke="#1a1a1a" stroke-width="1.0"/>
<line x1="444.80" y1="389.91" x2="447.40" y2="389.91" stroke="#1a1a1a" stroke-width="0.65"/>
<line x1="444.80" y1="376.40" x2="447.40" y2="376.40" stroke="#1a1a1a" stroke-width="0.65"/>
<line x1="444.80" y1="366.82" x2="447.40" y2="366.82" stroke="#1a1a1a" stroke-width="0.65"/>
<line x1="444.80" y1="359.39" x2="447.40" y2="359.39" stroke="#1a1a1a" stroke-width="0.65"/>
<line x1="444.80" y1="353.32" x2="447.40" y2="353.32" stroke="#1a1a1a" stroke-width="0.65"/>
<line x1="444.80" y1="348.18" x2="447.40" y2="348.18" stroke="#1a1a1a" stroke-width="0.65"/>
<line x1="444.80" y1="343.73" x2="447.40" y2="343.73" stroke="#1a1a1a" stroke-width="0.65"/>
<line x1="444.80" y1="339.81" x2="447.40" y2="339.81" stroke="#1a1a1a" stroke-width="0.65"/>
<line x1="444.80" y1="336.30" x2="449.10" y2="336.30" stroke="#1a1a1a" stroke-width="1.0"/>
<line x1="444.80" y1="313.21" x2="447.40" y2="313.21" stroke="#1a1a1a" stroke-width="0.65"/>
<line x1="444.80" y1="299.70" x2="447.40" y2="299.70" stroke="#1a1a1a" stroke-width="0.65"/>
<line x1="444.80" y1="290.12" x2="447.40" y2="290.12" stroke="#1a1a1a" stroke-width="0.65"/>
<line x1="444.80" y1="282.69" x2="447.40" y2="282.69" stroke="#1a1a1a" stroke-width="0.65"/>
<line x1="444.80" y1="276.62" x2="447.40" y2="276.62" stroke="#1a1a1a" stroke-width="0.65"/>
<line x1="444.80" y1="271.48" x2="447.40" y2="271.48" stroke="#1a1a1a" stroke-width="0.65"/>
<line x1="444.80" y1="267.03" x2="447.40" y2="267.03" stroke="#1a1a1a" stroke-width="0.65"/>
<line x1="444.80" y1="263.11" x2="447.40" y2="263.11" stroke="#1a1a1a" stroke-width="0.65"/>
<line x1="444.80" y1="259.60" x2="449.10" y2="259.60" stroke="#1a1a1a" stroke-width="1.0"/>
<line x1="444.80" y1="236.51" x2="447.40" y2="236.51" stroke="#1a1a1a" stroke-width="0.65"/>
<line x1="444.80" y1="223.00" x2="447.40" y2="223.00" stroke="#1a1a1a" stroke-width="0.65"/>
<line x1="706.70" y1="400.30" x2="704.10" y2="400.30" stroke="#1a1a1a" stroke-width="0.65"/>
<line x1="706.70" y1="390.72" x2="704.10" y2="390.72" stroke="#1a1a1a" stroke-width="0.65"/>
<line x1="706.70" y1="383.29" x2="704.10" y2="383.29" stroke="#1a1a1a" stroke-width="0.65"/>
<line x1="706.70" y1="377.22" x2="704.10" y2="377.22" stroke="#1a1a1a" stroke-width="0.65"/>
<line x1="706.70" y1="372.08" x2="704.10" y2="372.08" stroke="#1a1a1a" stroke-width="0.65"/>
<line x1="706.70" y1="367.63" x2="704.10" y2="367.63" stroke="#1a1a1a" stroke-width="0.65"/>
<line x1="706.70" y1="363.71" x2="704.10" y2="363.71" stroke="#1a1a1a" stroke-width="0.65"/>
<line x1="706.70" y1="360.20" x2="702.40" y2="360.20" stroke="#1a1a1a" stroke-width="1.0"/>
<line x1="706.70" y1="337.11" x2="704.10" y2="337.11" stroke="#1a1a1a" stroke-width="0.65"/>
<line x1="706.70" y1="323.60" x2="704.10" y2="323.60" stroke="#1a1a1a" stroke-width="0.65"/>
<line x1="706.70" y1="314.02" x2="704.10" y2="314.02" stroke="#1a1a1a" stroke-width="0.65"/>
<line x1="706.70" y1="306.59" x2="704.10" y2="306.59" stroke="#1a1a1a" stroke-width="0.65"/>
<line x1="706.70" y1="300.52" x2="704.10" y2="300.52" stroke="#1a1a1a" stroke-width="0.65"/>
<line x1="706.70" y1="295.38" x2="704.10" y2="295.38" stroke="#1a1a1a" stroke-width="0.65"/>
<line x1="706.70" y1="290.93" x2="704.10" y2="290.93" stroke="#1a1a1a" stroke-width="0.65"/>
<line x1="706.70" y1="287.01" x2="704.10" y2="287.01" stroke="#1a1a1a" stroke-width="0.65"/>
<line x1="706.70" y1="283.50" x2="702.40" y2="283.50" stroke="#1a1a1a" stroke-width="1.0"/>
<line x1="706.70" y1="260.41" x2="704.10" y2="260.41" stroke="#1a1a1a" stroke-width="0.65"/>
<line x1="706.70" y1="246.90" x2="704.10" y2="246.90" stroke="#1a1a1a" stroke-width="0.65"/>
<line x1="706.70" y1="237.32" x2="704.10" y2="237.32" stroke="#1a1a1a" stroke-width="0.65"/>
<line x1="706.70" y1="229.89" x2="704.10" y2="229.89" stroke="#1a1a1a" stroke-width="0.65"/>
<line x1="706.70" y1="223.82" x2="704.10" y2="223.82" stroke="#1a1a1a" stroke-width="0.65"/>
<line x1="473.74" y1="603.00" x2="473.74" y2="598.70" stroke="#1a1a1a" stroke-width="1.0"/>
<line x1="530.49" y1="603.00" x2="530.49" y2="598.70" stroke="#1a1a1a" stroke-width="1.0"/>
<line x1="587.24" y1="603.00" x2="587.24" y2="598.70" stroke="#1a1a1a" stroke-width="1.0"/>
<line x1="643.99" y1="603.00" x2="643.99" y2="598.70" stroke="#1a1a1a" stroke-width="1.0"/>
<line x1="700.74" y1="603.00" x2="700.74" y2="598.70" stroke="#1a1a1a" stroke-width="1.0"/>
<line x1="510.54" y1="413.00" x2="510.54" y2="417.30" stroke="#1a1a1a" stroke-width="1.0"/>
<line x1="589.47" y1="413.00" x2="589.47" y2="417.30" stroke="#1a1a1a" stroke-width="1.0"/>
<line x1="635.64" y1="413.00" x2="635.64" y2="417.30" stroke="#1a1a1a" stroke-width="1.0"/>
<line x1="668.40" y1="413.00" x2="668.40" y2="417.30" stroke="#1a1a1a" stroke-width="1.0"/>
<line x1="444.80" y1="603.00" x2="449.10" y2="603.00" stroke="#1a1a1a" stroke-width="1.0"/>
<line x1="444.80" y1="579.90" x2="447.40" y2="579.90" stroke="#1a1a1a" stroke-width="0.65"/>
<line x1="444.80" y1="566.38" x2="447.40" y2="566.38" stroke="#1a1a1a" stroke-width="0.65"/>
<line x1="444.80" y1="556.79" x2="447.40" y2="556.79" stroke="#1a1a1a" stroke-width="0.65"/>
<line x1="444.80" y1="549.35" x2="447.40" y2="549.35" stroke="#1a1a1a" stroke-width="0.65"/>
<line x1="444.80" y1="543.28" x2="447.40" y2="543.28" stroke="#1a1a1a" stroke-width="0.65"/>
<line x1="444.80" y1="538.14" x2="447.40" y2="538.14" stroke="#1a1a1a" stroke-width="0.65"/>
<line x1="444.80" y1="533.69" x2="447.40" y2="533.69" stroke="#1a1a1a" stroke-width="0.65"/>
<line x1="444.80" y1="529.76" x2="447.40" y2="529.76" stroke="#1a1a1a" stroke-width="0.65"/>
<line x1="444.80" y1="526.25" x2="449.10" y2="526.25" stroke="#1a1a1a" stroke-width="1.0"/>
<line x1="444.80" y1="503.15" x2="447.40" y2="503.15" stroke="#1a1a1a" stroke-width="0.65"/>
<line x1="444.80" y1="489.63" x2="447.40" y2="489.63" stroke="#1a1a1a" stroke-width="0.65"/>
<line x1="444.80" y1="480.04" x2="447.40" y2="480.04" stroke="#1a1a1a" stroke-width="0.65"/>
<line x1="444.80" y1="472.60" x2="447.40" y2="472.60" stroke="#1a1a1a" stroke-width="0.65"/>
<line x1="444.80" y1="466.53" x2="447.40" y2="466.53" stroke="#1a1a1a" stroke-width="0.65"/>
<line x1="444.80" y1="461.39" x2="447.40" y2="461.39" stroke="#1a1a1a" stroke-width="0.65"/>
<line x1="444.80" y1="456.94" x2="447.40" y2="456.94" stroke="#1a1a1a" stroke-width="0.65"/>
<line x1="444.80" y1="453.01" x2="447.40" y2="453.01" stroke="#1a1a1a" stroke-width="0.65"/>
<line x1="444.80" y1="449.50" x2="449.10" y2="449.50" stroke="#1a1a1a" stroke-width="1.0"/>
<line x1="444.80" y1="426.40" x2="447.40" y2="426.40" stroke="#1a1a1a" stroke-width="0.65"/>
<line x1="706.70" y1="601.49" x2="704.10" y2="601.49" stroke="#1a1a1a" stroke-width="0.65"/>
<line x1="706.70" y1="594.05" x2="704.10" y2="594.05" stroke="#1a1a1a" stroke-width="0.65"/>
<line x1="706.70" y1="587.98" x2="704.10" y2="587.98" stroke="#1a1a1a" stroke-width="0.65"/>
<line x1="706.70" y1="582.84" x2="704.10" y2="582.84" stroke="#1a1a1a" stroke-width="0.65"/>
<line x1="706.70" y1="578.39" x2="704.10" y2="578.39" stroke="#1a1a1a" stroke-width="0.65"/>
<line x1="706.70" y1="574.46" x2="704.10" y2="574.46" stroke="#1a1a1a" stroke-width="0.65"/>
<line x1="706.70" y1="570.95" x2="702.40" y2="570.95" stroke="#1a1a1a" stroke-width="1.0"/>
<line x1="706.70" y1="547.85" x2="704.10" y2="547.85" stroke="#1a1a1a" stroke-width="0.65"/>
<line x1="706.70" y1="534.33" x2="704.10" y2="534.33" stroke="#1a1a1a" stroke-width="0.65"/>
<line x1="706.70" y1="524.74" x2="704.10" y2="524.74" stroke="#1a1a1a" stroke-width="0.65"/>
<line x1="706.70" y1="517.30" x2="704.10" y2="517.30" stroke="#1a1a1a" stroke-width="0.65"/>
<line x1="706.70" y1="511.23" x2="704.10" y2="511.23" stroke="#1a1a1a" stroke-width="0.65"/>
<line x1="706.70" y1="506.09" x2="704.10" y2="506.09" stroke="#1a1a1a" stroke-width="0.65"/>
<line x1="706.70" y1="501.64" x2="704.10" y2="501.64" stroke="#1a1a1a" stroke-width="0.65"/>
<line x1="706.70" y1="497.71" x2="704.10" y2="497.71" stroke="#1a1a1a" stroke-width="0.65"/>
<line x1="706.70" y1="494.20" x2="702.40" y2="494.20" stroke="#1a1a1a" stroke-width="1.0"/>
<line x1="706.70" y1="471.10" x2="704.10" y2="471.10" stroke="#1a1a1a" stroke-width="0.65"/>
<line x1="706.70" y1="457.58" x2="704.10" y2="457.58" stroke="#1a1a1a" stroke-width="0.65"/>
<line x1="706.70" y1="447.99" x2="704.10" y2="447.99" stroke="#1a1a1a" stroke-width="0.65"/>
<line x1="706.70" y1="440.55" x2="704.10" y2="440.55" stroke="#1a1a1a" stroke-width="0.65"/>
<line x1="706.70" y1="434.48" x2="704.10" y2="434.48" stroke="#1a1a1a" stroke-width="0.65"/>
<line x1="706.70" y1="429.34" x2="704.10" y2="429.34" stroke="#1a1a1a" stroke-width="0.65"/>
<line x1="706.70" y1="424.89" x2="704.10" y2="424.89" stroke="#1a1a1a" stroke-width="0.65"/>
<line x1="706.70" y1="420.96" x2="704.10" y2="420.96" stroke="#1a1a1a" stroke-width="0.65"/>
<line x1="706.70" y1="417.45" x2="702.40" y2="417.45" stroke="#1a1a1a" stroke-width="1.0"/>
<rect x="444.8" y="33.0" width="261.9" height="190.0" fill="none" stroke="#1a1a1a" stroke-width="1.5"/>
<rect x="444.8" y="223.0" width="261.9" height="190.0" fill="none" stroke="#1a1a1a" stroke-width="1.5"/>
<rect x="444.8" y="413.0" width="261.9" height="190.0" fill="none" stroke="#1a1a1a" stroke-width="1.5"/>
<text transform="translate(71.24,614.50) scale(1.1864,1)" font-size="12.33" fill="#111" stroke="#111" stroke-width="0.118">8.4</text>
<text transform="translate(127.97,614.50) scale(1.2101,1)" font-size="12.33" fill="#111" stroke="#111" stroke-width="0.116">8.5</text>
<text transform="translate(184.73,614.50) scale(1.2006,1)" font-size="12.33" fill="#111" stroke="#111" stroke-width="0.117">8.6</text>
<text transform="translate(241.48,614.50) scale(1.1996,1)" font-size="12.33" fill="#111" stroke="#111" stroke-width="0.117">8.7</text>
<text transform="translate(298.22,614.50) scale(1.2091,1)" font-size="12.33" fill="#111" stroke="#111" stroke-width="0.116">8.8</text>
<text transform="translate(104.38,28.40) scale(1.1737,1)" font-size="12.63" fill="#111" stroke="#111" stroke-width="0.119">0.25</text>
<text transform="translate(183.31,28.40) scale(1.1730,1)" font-size="12.63" fill="#111" stroke="#111" stroke-width="0.119">0.50</text>
<text transform="translate(229.47,28.40) scale(1.1737,1)" font-size="12.63" fill="#111" stroke="#111" stroke-width="0.119">0.75</text>
<text transform="translate(261.45,28.40) scale(1.2090,1)" font-size="12.63" fill="#111" stroke="#111" stroke-width="0.116">1.00</text>
<text transform="translate(28.29,227.60) scale(1.1502,1)" font-size="12.93" fill="#111" stroke="#111" stroke-width="0.122">10</text>
<text transform="translate(43.02,223.30) scale(1.1937,1)" font-size="9.77" fill="#111" stroke="#111" stroke-width="0.117">5</text>
<text transform="translate(28.29,170.05) scale(1.1502,1)" font-size="12.93" fill="#111" stroke="#111" stroke-width="0.122">10</text>
<text transform="translate(43.23,165.75) scale(1.1381,1)" font-size="9.67" fill="#111" stroke="#111" stroke-width="0.123">6</text>
<text transform="translate(28.29,112.50) scale(1.1502,1)" font-size="12.93" fill="#111" stroke="#111" stroke-width="0.122">10</text>
<text transform="translate(42.94,108.20) scale(1.1865,1)" font-size="9.77" fill="#111" stroke="#111" stroke-width="0.118">7</text>
<text transform="translate(28.29,54.95) scale(1.1502,1)" font-size="12.93" fill="#111" stroke="#111" stroke-width="0.122">10</text>
<text transform="translate(43.28,50.65) scale(1.1523,1)" font-size="9.62" fill="#111" stroke="#111" stroke-width="0.121">8</text>
<text transform="translate(315.79,204.10) scale(1.1502,1)" font-size="12.93" fill="#111" stroke="#111" stroke-width="0.122">10</text>
<rect x="331.20" y="196.77" width="5.20" height="0.85" fill="#111"/>
<text transform="translate(336.74,199.80) scale(1.1865,1)" font-size="9.77" fill="#111" stroke="#111" stroke-width="0.118">7</text>
<text transform="translate(315.79,146.55) scale(1.1502,1)" font-size="12.93" fill="#111" stroke="#111" stroke-width="0.122">10</text>
<rect x="331.20" y="139.22" width="5.20" height="0.85" fill="#111"/>
<text transform="translate(337.03,142.25) scale(1.1381,1)" font-size="9.67" fill="#111" stroke="#111" stroke-width="0.123">6</text>
<text transform="translate(315.79,89.00) scale(1.1502,1)" font-size="12.93" fill="#111" stroke="#111" stroke-width="0.122">10</text>
<rect x="331.20" y="81.68" width="5.20" height="0.85" fill="#111"/>
<text transform="translate(336.82,84.70) scale(1.1937,1)" font-size="9.77" fill="#111" stroke="#111" stroke-width="0.117">5</text>
<text transform="translate(28.29,417.60) scale(1.1502,1)" font-size="12.93" fill="#111" stroke="#111" stroke-width="0.122">10</text>
<text transform="translate(43.28,413.30) scale(1.1523,1)" font-size="9.62" fill="#111" stroke="#111" stroke-width="0.121">8</text>
<text transform="translate(28.29,340.90) scale(1.1502,1)" font-size="12.93" fill="#111" stroke="#111" stroke-width="0.122">10</text>
<text transform="translate(43.35,336.60) scale(1.1394,1)" font-size="9.67" fill="#111" stroke="#111" stroke-width="0.123">9</text>
<text transform="translate(22.99,264.20) scale(1.1502,1)" font-size="12.93" fill="#111" stroke="#111" stroke-width="0.122">10</text>
<text transform="translate(37.39,259.90) scale(1.1889,1)" font-size="9.62" fill="#111" stroke="#111" stroke-width="0.118">10</text>
<text transform="translate(315.79,355.70) scale(1.1502,1)" font-size="12.93" fill="#111" stroke="#111" stroke-width="0.122">10</text>
<rect x="331.20" y="348.37" width="5.20" height="0.85" fill="#111"/>
<text transform="translate(336.96,351.40) scale(1.1771,1)" font-size="9.67" fill="#111" stroke="#111" stroke-width="0.119">3</text>
<text transform="translate(315.79,279.00) scale(1.1502,1)" font-size="12.93" fill="#111" stroke="#111" stroke-width="0.122">10</text>
<rect x="331.20" y="271.67" width="5.20" height="0.85" fill="#111"/>
<text transform="translate(336.98,274.70) scale(1.2129,1)" font-size="9.67" fill="#111" stroke="#111" stroke-width="0.115">2</text>
<text transform="translate(28.29,607.60) scale(1.1502,1)" font-size="12.93" fill="#111" stroke="#111" stroke-width="0.122">10</text>
<text transform="translate(42.53,603.30) scale(1.3771,1)" font-size="9.69" fill="#111" stroke="#111" stroke-width="0.102">1</text>
<text transform="translate(28.29,530.85) scale(1.1502,1)" font-size="12.93" fill="#111" stroke="#111" stroke-width="0.122">10</text>
<text transform="translate(43.18,526.55) scale(1.2129,1)" font-size="9.67" fill="#111" stroke="#111" stroke-width="0.115">2</text>
<text transform="translate(28.29,454.10) scale(1.1502,1)" font-size="12.93" fill="#111" stroke="#111" stroke-width="0.122">10</text>
<text transform="translate(43.16,449.80) scale(1.1771,1)" font-size="9.67" fill="#111" stroke="#111" stroke-width="0.119">3</text>
<text transform="translate(315.79,576.65) scale(1.1502,1)" font-size="12.93" fill="#111" stroke="#111" stroke-width="0.122">10</text>
<text transform="translate(330.68,572.35) scale(1.2129,1)" font-size="9.67" fill="#111" stroke="#111" stroke-width="0.115">2</text>
<text transform="translate(315.79,499.90) scale(1.1502,1)" font-size="12.93" fill="#111" stroke="#111" stroke-width="0.122">10</text>
<text transform="translate(330.66,495.60) scale(1.1771,1)" font-size="9.67" fill="#111" stroke="#111" stroke-width="0.119">3</text>
<text transform="translate(315.79,423.15) scale(1.1502,1)" font-size="12.93" fill="#111" stroke="#111" stroke-width="0.122">10</text>
<text transform="translate(331.00,418.85) scale(1.0399,1)" font-size="9.72" fill="#111" stroke="#111" stroke-width="0.135">4</text>
<text transform="translate(464.44,614.50) scale(1.1864,1)" font-size="12.33" fill="#111" stroke="#111" stroke-width="0.118">8.4</text>
<text transform="translate(521.17,614.50) scale(1.2101,1)" font-size="12.33" fill="#111" stroke="#111" stroke-width="0.116">8.5</text>
<text transform="translate(577.93,614.50) scale(1.2006,1)" font-size="12.33" fill="#111" stroke="#111" stroke-width="0.117">8.6</text>
<text transform="translate(634.68,614.50) scale(1.1996,1)" font-size="12.33" fill="#111" stroke="#111" stroke-width="0.117">8.7</text>
<text transform="translate(691.42,614.50) scale(1.2091,1)" font-size="12.33" fill="#111" stroke="#111" stroke-width="0.116">8.8</text>
<text transform="translate(497.58,28.40) scale(1.1737,1)" font-size="12.63" fill="#111" stroke="#111" stroke-width="0.119">0.25</text>
<text transform="translate(576.51,28.40) scale(1.1730,1)" font-size="12.63" fill="#111" stroke="#111" stroke-width="0.119">0.50</text>
<text transform="translate(622.67,28.40) scale(1.1737,1)" font-size="12.63" fill="#111" stroke="#111" stroke-width="0.119">0.75</text>
<text transform="translate(654.65,28.40) scale(1.2090,1)" font-size="12.63" fill="#111" stroke="#111" stroke-width="0.116">1.00</text>
<text transform="translate(421.49,227.60) scale(1.1502,1)" font-size="12.93" fill="#111" stroke="#111" stroke-width="0.122">10</text>
<text transform="translate(436.22,223.30) scale(1.1937,1)" font-size="9.77" fill="#111" stroke="#111" stroke-width="0.117">5</text>
<text transform="translate(421.49,170.05) scale(1.1502,1)" font-size="12.93" fill="#111" stroke="#111" stroke-width="0.122">10</text>
<text transform="translate(436.43,165.75) scale(1.1381,1)" font-size="9.67" fill="#111" stroke="#111" stroke-width="0.123">6</text>
<text transform="translate(421.49,112.50) scale(1.1502,1)" font-size="12.93" fill="#111" stroke="#111" stroke-width="0.122">10</text>
<text transform="translate(436.14,108.20) scale(1.1865,1)" font-size="9.77" fill="#111" stroke="#111" stroke-width="0.118">7</text>
<text transform="translate(421.49,54.95) scale(1.1502,1)" font-size="12.93" fill="#111" stroke="#111" stroke-width="0.122">10</text>
<text transform="translate(436.48,50.65) scale(1.1523,1)" font-size="9.62" fill="#111" stroke="#111" stroke-width="0.121">8</text>
<text transform="translate(708.99,212.10) scale(1.1502,1)" font-size="12.93" fill="#111" stroke="#111" stroke-width="0.122">10</text>
<rect x="724.40" y="204.77" width="5.20" height="0.85" fill="#111"/>
<text transform="translate(729.94,207.80) scale(1.1865,1)" font-size="9.77" fill="#111" stroke="#111" stroke-width="0.118">7</text>
<text transform="translate(708.99,154.55) scale(1.1502,1)" font-size="12.93" fill="#111" stroke="#111" stroke-width="0.122">10</text>
<rect x="724.40" y="147.22" width="5.20" height="0.85" fill="#111"/>
<text transform="translate(730.23,150.25) scale(1.1381,1)" font-size="9.67" fill="#111" stroke="#111" stroke-width="0.123">6</text>
<text transform="translate(708.99,97.00) scale(1.1502,1)" font-size="12.93" fill="#111" stroke="#111" stroke-width="0.122">10</text>
<rect x="724.40" y="89.68" width="5.20" height="0.85" fill="#111"/>
<text transform="translate(730.02,92.70) scale(1.1937,1)" font-size="9.77" fill="#111" stroke="#111" stroke-width="0.117">5</text>
<text transform="translate(708.99,39.45) scale(1.1502,1)" font-size="12.93" fill="#111" stroke="#111" stroke-width="0.122">10</text>
<rect x="724.40" y="32.13" width="5.20" height="0.85" fill="#111"/>
<text transform="translate(730.50,35.15) scale(1.0399,1)" font-size="9.72" fill="#111" stroke="#111" stroke-width="0.135">4</text>
<text transform="translate(421.49,417.60) scale(1.1502,1)" font-size="12.93" fill="#111" stroke="#111" stroke-width="0.122">10</text>
<text transform="translate(436.48,413.30) scale(1.1523,1)" font-size="9.62" fill="#111" stroke="#111" stroke-width="0.121">8</text>
<text transform="translate(421.49,340.90) scale(1.1502,1)" font-size="12.93" fill="#111" stroke="#111" stroke-width="0.122">10</text>
<text transform="translate(436.55,336.60) scale(1.1394,1)" font-size="9.67" fill="#111" stroke="#111" stroke-width="0.123">9</text>
<text transform="translate(416.19,264.20) scale(1.1502,1)" font-size="12.93" fill="#111" stroke="#111" stroke-width="0.122">10</text>
<text transform="translate(430.59,259.90) scale(1.1889,1)" font-size="9.62" fill="#111" stroke="#111" stroke-width="0.118">10</text>
<text transform="translate(708.99,364.80) scale(1.1502,1)" font-size="12.93" fill="#111" stroke="#111" stroke-width="0.122">10</text>
<rect x="724.40" y="357.47" width="5.20" height="0.85" fill="#111"/>
<text transform="translate(730.16,360.50) scale(1.1771,1)" font-size="9.67" fill="#111" stroke="#111" stroke-width="0.119">3</text>
<text transform="translate(708.99,288.10) scale(1.1502,1)" font-size="12.93" fill="#111" stroke="#111" stroke-width="0.122">10</text>
<rect x="724.40" y="280.77" width="5.20" height="0.85" fill="#111"/>
<text transform="translate(730.18,283.80) scale(1.2129,1)" font-size="9.67" fill="#111" stroke="#111" stroke-width="0.115">2</text>
<text transform="translate(421.49,607.60) scale(1.1502,1)" font-size="12.93" fill="#111" stroke="#111" stroke-width="0.122">10</text>
<text transform="translate(435.73,603.30) scale(1.3771,1)" font-size="9.69" fill="#111" stroke="#111" stroke-width="0.102">1</text>
<text transform="translate(421.49,530.85) scale(1.1502,1)" font-size="12.93" fill="#111" stroke="#111" stroke-width="0.122">10</text>
<text transform="translate(436.38,526.55) scale(1.2129,1)" font-size="9.67" fill="#111" stroke="#111" stroke-width="0.115">2</text>
<text transform="translate(421.49,454.10) scale(1.1502,1)" font-size="12.93" fill="#111" stroke="#111" stroke-width="0.122">10</text>
<text transform="translate(436.36,449.80) scale(1.1771,1)" font-size="9.67" fill="#111" stroke="#111" stroke-width="0.119">3</text>
<text transform="translate(708.99,575.55) scale(1.1502,1)" font-size="12.93" fill="#111" stroke="#111" stroke-width="0.122">10</text>
<text transform="translate(723.88,571.25) scale(1.2129,1)" font-size="9.67" fill="#111" stroke="#111" stroke-width="0.115">2</text>
<text transform="translate(708.99,498.80) scale(1.1502,1)" font-size="12.93" fill="#111" stroke="#111" stroke-width="0.122">10</text>
<text transform="translate(723.86,494.50) scale(1.1771,1)" font-size="9.67" fill="#111" stroke="#111" stroke-width="0.119">3</text>
<text transform="translate(708.99,422.05) scale(1.1502,1)" font-size="12.93" fill="#111" stroke="#111" stroke-width="0.122">10</text>
<text transform="translate(724.20,417.75) scale(1.0399,1)" font-size="9.72" fill="#111" stroke="#111" stroke-width="0.135">4</text>
<text transform="translate(55.85,50.00) scale(1.1356,1)" font-size="19.03" fill="#111" stroke="#111" stroke-width="0.123">SPT0418-47</text>
<text transform="translate(449.55,50.00) scale(1.1356,1)" font-size="19.03" fill="#111" stroke="#111" stroke-width="0.123">SPT2147-50</text>
<text transform="translate(144.63,13.80) scale(1.2274,1)" font-size="17.26" fill="#111" stroke="#111" stroke-width="0.114">[NII]/H</text>
<text transform="translate(209.42,13.80) scale(1.1699,1)" font-size="16.54" font-style="italic" fill="#111" stroke="#111" stroke-width="0.120">α</text>
<text transform="translate(112.69,631.00) scale(1.2597,1)" font-size="17.27" fill="#111" stroke="#111" stroke-width="0.111">12+log(O/H)</text>
<text transform="translate(227.84,634.60) scale(1.0467,1)" font-size="12.07" fill="#111" stroke="#111" stroke-width="0.134">M13</text>
<text transform="translate(537.83,13.80) scale(1.2274,1)" font-size="17.26" fill="#111" stroke="#111" stroke-width="0.114">[NII]/H</text>
<text transform="translate(602.62,13.80) scale(1.1699,1)" font-size="16.54" font-style="italic" fill="#111" stroke="#111" stroke-width="0.120">α</text>
<text transform="translate(505.89,631.00) scale(1.2597,1)" font-size="17.27" fill="#111" stroke="#111" stroke-width="0.111">12+log(O/H)</text>
<text transform="translate(621.04,634.60) scale(1.0467,1)" font-size="12.07" fill="#111" stroke="#111" stroke-width="0.134">M13</text>
<g transform="translate(22.10,196.10) rotate(-90)"><text transform="translate(-0.85,0.00) scale(1.1562,1)" font-size="18.78" fill="#111" stroke="#111" stroke-width="0.121">Σ</text><text transform="translate(12.11,2.70) scale(1.1981,1)" font-size="11.30" fill="#111" stroke="#111" stroke-width="0.117">dust</text><text transform="translate(42.10,0.40) scale(0.9315,1)" font-size="20.48" fill="#111" stroke="#111" stroke-width="0.150">/</text><text transform="translate(54.75,0.00) scale(1.0039,1)" font-size="18.94" fill="#111" stroke="#111" stroke-width="0.139">M</text><circle cx="79.50" cy="-0.50" r="3.40" fill="none" stroke="#111" stroke-width="0.9"/><circle cx="79.50" cy="-0.50" r="0.75" fill="#111"/><text transform="translate(88.49,0.00) scale(1.1052,1)" font-size="19.60" fill="#111" stroke="#111" stroke-width="0.127">kpc</text><rect x="122.20" y="-10.93" width="6.30" height="0.85" fill="#111"/><text transform="translate(129.19,-7.40) scale(1.0510,1)" font-size="13.29" fill="#111" stroke="#111" stroke-width="0.133">2</text></g>
<g transform="translate(15.30,382.70) rotate(-90)"><text transform="translate(-0.85,0.00) scale(1.1562,1)" font-size="18.78" fill="#111" stroke="#111" stroke-width="0.121">Σ</text><text transform="translate(12.04,2.70) scale(1.1574,1)" font-size="11.30" fill="#111" stroke="#111" stroke-width="0.121">gas</text><text transform="translate(35.50,0.40) scale(0.9315,1)" font-size="20.48" fill="#111" stroke="#111" stroke-width="0.150">/</text><text transform="translate(48.15,0.00) scale(1.0039,1)" font-size="18.94" fill="#111" stroke="#111" stroke-width="0.139">M</text><circle cx="72.90" cy="-0.50" r="3.40" fill="none" stroke="#111" stroke-width="0.9"/><circle cx="72.90" cy="-0.50" r="0.75" fill="#111"/><text transform="translate(81.59,0.00) scale(1.1052,1)" font-size="19.60" fill="#111" stroke="#111" stroke-width="0.127">kpc</text><rect x="115.30" y="-10.93" width="6.30" height="0.85" fill="#111"/><text transform="translate(122.29,-7.40) scale(1.0510,1)" font-size="13.29" fill="#111" stroke="#111" stroke-width="0.133">2</text></g>
<g transform="translate(22.70,526.50) rotate(-90)"><text transform="translate(-0.60,0.00) scale(1.0691,1)" font-size="19.18" font-style="italic" fill="#111" stroke="#111" stroke-width="0.131">δ</text><text transform="translate(8.47,3.00) scale(1.0601,1)" font-size="12.08" fill="#111" stroke="#111" stroke-width="0.132">GDR</text></g>
<g transform="translate(353.40,62.00) rotate(90)"><text transform="translate(-0.25,0.00) scale(1.1352,1)" font-size="19.03" font-style="italic" fill="#111" stroke="#111" stroke-width="0.123">S</text><text transform="translate(10.01,3.20) scale(0.9803,1)" font-size="12.48" fill="#111" stroke="#111" stroke-width="0.143">380</text><text transform="translate(28.31,3.20) scale(1.2238,1)" font-size="11.67" font-style="italic" fill="#111" stroke="#111" stroke-width="0.114">μm</text><text transform="translate(53.62,0.00) scale(1.0477,1)" font-size="19.17" fill="#111" stroke="#111" stroke-width="0.134">(Jy/pixel)</text></g>
<g transform="translate(351.80,230.30) rotate(90)"><text transform="translate(-0.27,0.00) scale(1.1722,1)" font-size="19.33" font-style="italic" fill="#111" stroke="#111" stroke-width="0.119">S</text><text transform="translate(10.01,3.20) scale(0.9630,1)" font-size="12.38" fill="#111" stroke="#111" stroke-width="0.145">[CI]</text><text transform="translate(37.50,0.00) scale(1.0660,1)" font-size="19.17" fill="#111" stroke="#111" stroke-width="0.131">(Jy/pixel</text><text transform="translate(112.97,0.00) scale(1.1911,1)" font-size="19.17" fill="#111" stroke="#111" stroke-width="0.118">kms</text><rect x="153.00" y="-10.93" width="6.40" height="0.85" fill="#111"/><text transform="translate(160.25,-7.60) scale(1.3394,1)" font-size="10.60" fill="#111" stroke="#111" stroke-width="0.105">1</text><text transform="translate(169.28,0.00) scale(1.1578,1)" font-size="19.17" fill="#111" stroke="#111" stroke-width="0.121">)</text></g>
<g transform="translate(346.60,464.10) rotate(90)"><text transform="translate(-0.27,0.00) scale(1.1722,1)" font-size="19.33" font-style="italic" fill="#111" stroke="#111" stroke-width="0.119">S</text><text transform="translate(9.98,3.20) scale(1.0003,1)" font-size="12.38" fill="#111" stroke="#111" stroke-width="0.140">[CI]</text><text transform="translate(31.30,1.00) scale(1.1784,1)" font-size="22.91" fill="#111" stroke="#111" stroke-width="0.119">/</text><text transform="translate(40.13,0.00) scale(1.1722,1)" font-size="19.33" font-style="italic" fill="#111" stroke="#111" stroke-width="0.119">S</text><text transform="translate(50.93,3.20) scale(0.9576,1)" font-size="12.48" fill="#111" stroke="#111" stroke-width="0.146">380</text><text transform="translate(68.81,3.20) scale(1.2889,1)" font-size="11.67" font-style="italic" fill="#111" stroke="#111" stroke-width="0.109">μm</text></g>
<g transform="translate(415.30,196.10) rotate(-90)"><text transform="translate(-0.85,0.00) scale(1.1562,1)" font-size="18.78" fill="#111" stroke="#111" stroke-width="0.121">Σ</text><text transform="translate(12.11,2.70) scale(1.1981,1)" font-size="11.30" fill="#111" stroke="#111" stroke-width="0.117">dust</text><text transform="translate(42.10,0.40) scale(0.9315,1)" font-size="20.48" fill="#111" stroke="#111" stroke-width="0.150">/</text><text transform="translate(54.75,0.00) scale(1.0039,1)" font-size="18.94" fill="#111" stroke="#111" stroke-width="0.139">M</text><circle cx="79.50" cy="-0.50" r="3.40" fill="none" stroke="#111" stroke-width="0.9"/><circle cx="79.50" cy="-0.50" r="0.75" fill="#111"/><text transform="translate(88.49,0.00) scale(1.1052,1)" font-size="19.60" fill="#111" stroke="#111" stroke-width="0.127">kpc</text><rect x="122.20" y="-10.93" width="6.30" height="0.85" fill="#111"/><text transform="translate(129.19,-7.40) scale(1.0510,1)" font-size="13.29" fill="#111" stroke="#111" stroke-width="0.133">2</text></g>
<g transform="translate(408.50,382.70) rotate(-90)"><text transform="translate(-0.85,0.00) scale(1.1562,1)" font-size="18.78" fill="#111" stroke="#111" stroke-width="0.121">Σ</text><text transform="translate(12.04,2.70) scale(1.1574,1)" font-size="11.30" fill="#111" stroke="#111" stroke-width="0.121">gas</text><text transform="translate(35.50,0.40) scale(0.9315,1)" font-size="20.48" fill="#111" stroke="#111" stroke-width="0.150">/</text><text transform="translate(48.15,0.00) scale(1.0039,1)" font-size="18.94" fill="#111" stroke="#111" stroke-width="0.139">M</text><circle cx="72.90" cy="-0.50" r="3.40" fill="none" stroke="#111" stroke-width="0.9"/><circle cx="72.90" cy="-0.50" r="0.75" fill="#111"/><text transform="translate(81.59,0.00) scale(1.1052,1)" font-size="19.60" fill="#111" stroke="#111" stroke-width="0.127">kpc</text><rect x="115.30" y="-10.93" width="6.30" height="0.85" fill="#111"/><text transform="translate(122.29,-7.40) scale(1.0510,1)" font-size="13.29" fill="#111" stroke="#111" stroke-width="0.133">2</text></g>
<g transform="translate(415.90,526.50) rotate(-90)"><text transform="translate(-0.60,0.00) scale(1.0691,1)" font-size="19.18" font-style="italic" fill="#111" stroke="#111" stroke-width="0.131">δ</text><text transform="translate(8.47,3.00) scale(1.0601,1)" font-size="12.08" fill="#111" stroke="#111" stroke-width="0.132">GDR</text></g>
<g transform="translate(746.60,62.00) rotate(90)"><text transform="translate(-0.25,0.00) scale(1.1352,1)" font-size="19.03" font-style="italic" fill="#111" stroke="#111" stroke-width="0.123">S</text><text transform="translate(10.01,3.20) scale(0.9803,1)" font-size="12.48" fill="#111" stroke="#111" stroke-width="0.143">380</text><text transform="translate(28.31,3.20) scale(1.2238,1)" font-size="11.67" font-style="italic" fill="#111" stroke="#111" stroke-width="0.114">μm</text><text transform="translate(53.62,0.00) scale(1.0477,1)" font-size="19.17" fill="#111" stroke="#111" stroke-width="0.134">(Jy/pixel)</text></g>
<g transform="translate(745.00,230.30) rotate(90)"><text transform="translate(-0.27,0.00) scale(1.1722,1)" font-size="19.33" font-style="italic" fill="#111" stroke="#111" stroke-width="0.119">S</text><text transform="translate(10.01,3.20) scale(0.9630,1)" font-size="12.38" fill="#111" stroke="#111" stroke-width="0.145">[CI]</text><text transform="translate(37.50,0.00) scale(1.0660,1)" font-size="19.17" fill="#111" stroke="#111" stroke-width="0.131">(Jy/pixel</text><text transform="translate(112.97,0.00) scale(1.1911,1)" font-size="19.17" fill="#111" stroke="#111" stroke-width="0.118">kms</text><rect x="153.00" y="-10.93" width="6.40" height="0.85" fill="#111"/><text transform="translate(160.25,-7.60) scale(1.3394,1)" font-size="10.60" fill="#111" stroke="#111" stroke-width="0.105">1</text><text transform="translate(169.28,0.00) scale(1.1578,1)" font-size="19.17" fill="#111" stroke="#111" stroke-width="0.121">)</text></g>
<g transform="translate(739.80,464.10) rotate(90)"><text transform="translate(-0.27,0.00) scale(1.1722,1)" font-size="19.33" font-style="italic" fill="#111" stroke="#111" stroke-width="0.119">S</text><text transform="translate(9.98,3.20) scale(1.0003,1)" font-size="12.38" fill="#111" stroke="#111" stroke-width="0.140">[CI]</text><text transform="translate(31.30,1.00) scale(1.1784,1)" font-size="22.91" fill="#111" stroke="#111" stroke-width="0.119">/</text><text transform="translate(40.13,0.00) scale(1.1722,1)" font-size="19.33" font-style="italic" fill="#111" stroke="#111" stroke-width="0.119">S</text><text transform="translate(50.93,3.20) scale(0.9576,1)" font-size="12.48" fill="#111" stroke="#111" stroke-width="0.146">380</text><text transform="translate(68.81,3.20) scale(1.2889,1)" font-size="11.67" font-style="italic" fill="#111" stroke="#111" stroke-width="0.109">μm</text></g>
<text transform="translate(182.39,202.50) scale(1.2235,1)" font-size="14.36" font-style="italic" fill="#111" stroke="#111" stroke-width="0.114">Z</text>
<rect x="195.00" y="197.25" width="10.20" height="0.90" fill="#111"/>
<rect x="195.00" y="200.75" width="10.20" height="0.90" fill="#111"/>
<text transform="translate(208.57,202.50) scale(1.2866,1)" font-size="14.36" font-style="italic" fill="#111" stroke="#111" stroke-width="0.109">Z</text>
<circle cx="224.00" cy="202.70" r="3.50" fill="none" stroke="#111" stroke-width="0.9"/><circle cx="224.00" cy="202.70" r="0.77" fill="#111"/>
<line x1="228.2" y1="195.6" x2="245.2" y2="182.3" stroke="#111" stroke-width="1.3"/>
<text transform="translate(575.59,202.50) scale(1.2235,1)" font-size="14.36" font-style="italic" fill="#111" stroke="#111" stroke-width="0.114">Z</text>
<rect x="588.20" y="197.25" width="10.20" height="0.90" fill="#111"/>
<rect x="588.20" y="200.75" width="10.20" height="0.90" fill="#111"/>
<text transform="translate(601.77,202.50) scale(1.2866,1)" font-size="14.36" font-style="italic" fill="#111" stroke="#111" stroke-width="0.109">Z</text>
<circle cx="617.20" cy="202.70" r="3.50" fill="none" stroke="#111" stroke-width="0.9"/><circle cx="617.20" cy="202.70" r="0.77" fill="#111"/>
<line x1="621.4" y1="195.6" x2="638.4" y2="182.3" stroke="#111" stroke-width="1.3"/>
<line x1="60.3" y1="571.2" x2="81.6" y2="571.2" stroke="#e8a33c" stroke-width="1.6" stroke-dasharray="4 2.5"/>
<line x1="60.3" y1="587.0" x2="81.6" y2="587.0" stroke="#a3222a" stroke-width="1.6" stroke-dasharray="4 2.5"/>
<text transform="translate(90.14,575.30) scale(1.1034,1)" font-size="11.45" fill="#111" stroke="#111" stroke-width="0.127">Remy-Ruyer+14 fit</text>
<text transform="translate(89.72,590.20) scale(1.3281,1)" font-size="9.73" font-style="italic" fill="#111" stroke="#111" stroke-width="0.105">δ</text>
<text transform="translate(96.22,592.60) scale(0.8058,1)" font-size="8.46" fill="#111" stroke="#111" stroke-width="0.174">GDR</text>
<rect x="112.10" y="585.35" width="6.50" height="0.90" fill="#111"/>
<rect x="112.10" y="587.85" width="6.50" height="0.90" fill="#111"/>
<text transform="translate(119.23,590.40) scale(1.2832,1)" font-size="10.38" fill="#111" stroke="#111" stroke-width="0.109">101</text>
<text transform="translate(139.25,590.10) scale(1.2176,1)" font-size="10.23" fill="#111" stroke="#111" stroke-width="0.115">(</text>
<text transform="translate(143.75,590.50) scale(1.1687,1)" font-size="10.69" font-style="italic" fill="#111" stroke="#111" stroke-width="0.120">Z</text>
<circle cx="154.50" cy="590.90" r="2.10" fill="none" stroke="#111" stroke-width="0.6"/><circle cx="154.50" cy="590.90" r="0.50" fill="#111"/>
<text transform="translate(159.10,592.40) scale(0.8077,1)" font-size="14.26" fill="#111" stroke="#111" stroke-width="0.173">/</text>
<text transform="translate(164.04,590.50) scale(1.2365,1)" font-size="10.69" font-style="italic" fill="#111" stroke="#111" stroke-width="0.113">Z</text>
<text transform="translate(172.21,590.10) scale(0.8751,1)" font-size="10.23" fill="#111" stroke="#111" stroke-width="0.160">)</text>
<line x1="453.5" y1="571.2" x2="474.8" y2="571.2" stroke="#e8a33c" stroke-width="1.6" stroke-dasharray="4 2.5"/>
<line x1="453.5" y1="587.0" x2="474.8" y2="587.0" stroke="#a3222a" stroke-width="1.6" stroke-dasharray="4 2.5"/>
<text transform="translate(483.34,575.30) scale(1.1034,1)" font-size="11.45" fill="#111" stroke="#111" stroke-width="0.127">Remy-Ruyer+14 fit</text>
<text transform="translate(482.92,590.20) scale(1.3281,1)" font-size="9.73" font-style="italic" fill="#111" stroke="#111" stroke-width="0.105">δ</text>
<text transform="translate(489.42,592.60) scale(0.8058,1)" font-size="8.46" fill="#111" stroke="#111" stroke-width="0.174">GDR</text>
<rect x="505.30" y="585.35" width="6.50" height="0.90" fill="#111"/>
<rect x="505.30" y="587.85" width="6.50" height="0.90" fill="#111"/>
<text transform="translate(512.43,590.40) scale(1.2832,1)" font-size="10.38" fill="#111" stroke="#111" stroke-width="0.109">101</text>
<text transform="translate(532.45,590.10) scale(1.2176,1)" font-size="10.23" fill="#111" stroke="#111" stroke-width="0.115">(</text>
<text transform="translate(536.95,590.50) scale(1.1687,1)" font-size="10.69" font-style="italic" fill="#111" stroke="#111" stroke-width="0.120">Z</text>
<circle cx="547.70" cy="590.90" r="2.10" fill="none" stroke="#111" stroke-width="0.6"/><circle cx="547.70" cy="590.90" r="0.50" fill="#111"/>
<text transform="translate(552.30,592.40) scale(0.8077,1)" font-size="14.26" fill="#111" stroke="#111" stroke-width="0.173">/</text>
<text transform="translate(557.24,590.50) scale(1.2365,1)" font-size="10.69" font-style="italic" fill="#111" stroke="#111" stroke-width="0.113">Z</text>
<text transform="translate(565.41,590.10) scale(0.8751,1)" font-size="10.23" fill="#111" stroke="#111" stroke-width="0.160">)</text>
<defs><linearGradient id="bupu" x1="0" x2="1" y1="0" y2="0"><stop offset="0.000" stop-color="#f7fcfd"/><stop offset="0.125" stop-color="#e0ecf4"/><stop offset="0.250" stop-color="#bfd3e6"/><stop offset="0.375" stop-color="#9ebcda"/><stop offset="0.500" stop-color="#8c96c6"/><stop offset="0.625" stop-color="#8c6bb1"/><stop offset="0.750" stop-color="#88419d"/><stop offset="0.875" stop-color="#810f7c"/><stop offset="1.000" stop-color="#4d004b"/></linearGradient></defs>
<rect x="449.2" y="227.5" width="183.1" height="8.6" fill="url(#bupu)" stroke="#111" stroke-width="1"/>
<line x1="485.52" y1="236" x2="485.52" y2="232.5" stroke="#333" stroke-width="0.9"/>
<text transform="translate(472.89,249.00) scale(1.2329,1)" font-size="13.83" fill="#111" stroke="#111" stroke-width="0.114">400</text>
<line x1="522.34" y1="236" x2="522.34" y2="232.5" stroke="#333" stroke-width="0.9"/>
<text transform="translate(509.02,249.00) scale(1.2667,1)" font-size="13.83" fill="#111" stroke="#111" stroke-width="0.111">500</text>
<line x1="559.16" y1="236" x2="559.16" y2="232.5" stroke="#333" stroke-width="0.9"/>
<text transform="translate(546.12,249.00) scale(1.2532,1)" font-size="13.83" fill="#111" stroke="#111" stroke-width="0.112">600</text>
<line x1="595.98" y1="236" x2="595.98" y2="232.5" stroke="#333" stroke-width="0.9"/>
<text transform="translate(582.52,249.00) scale(1.2738,1)" font-size="13.83" fill="#111" stroke="#111" stroke-width="0.110">700</text>
<text transform="translate(481.44,265.70) scale(1.0903,1)" font-size="14.51" fill="#111" stroke="#111" stroke-width="0.128">FWHM</text>
<text transform="translate(530.64,267.70) scale(1.0030,1)" font-size="8.86" fill="#111" stroke="#111" stroke-width="0.140">H</text>
<text transform="translate(536.91,267.70) scale(1.5063,1)" font-size="8.69" font-style="italic" fill="#111" stroke="#111" stroke-width="0.093">α</text>
<text transform="translate(548.70,266.50) scale(1.0353,1)" font-size="16.69" fill="#111" stroke="#111" stroke-width="0.135">/</text>
<text transform="translate(558.19,265.50) scale(1.0762,1)" font-size="15.28" fill="#111" stroke="#111" stroke-width="0.130">kms</text>
<rect x="587.40" y="257.60" width="4.80" height="0.80" fill="#111"/>
<text transform="translate(592.45,260.80) scale(1.5146,1)" font-size="7.88" fill="#111" stroke="#111" stroke-width="0.092">1</text>
</svg>
</body></html>
